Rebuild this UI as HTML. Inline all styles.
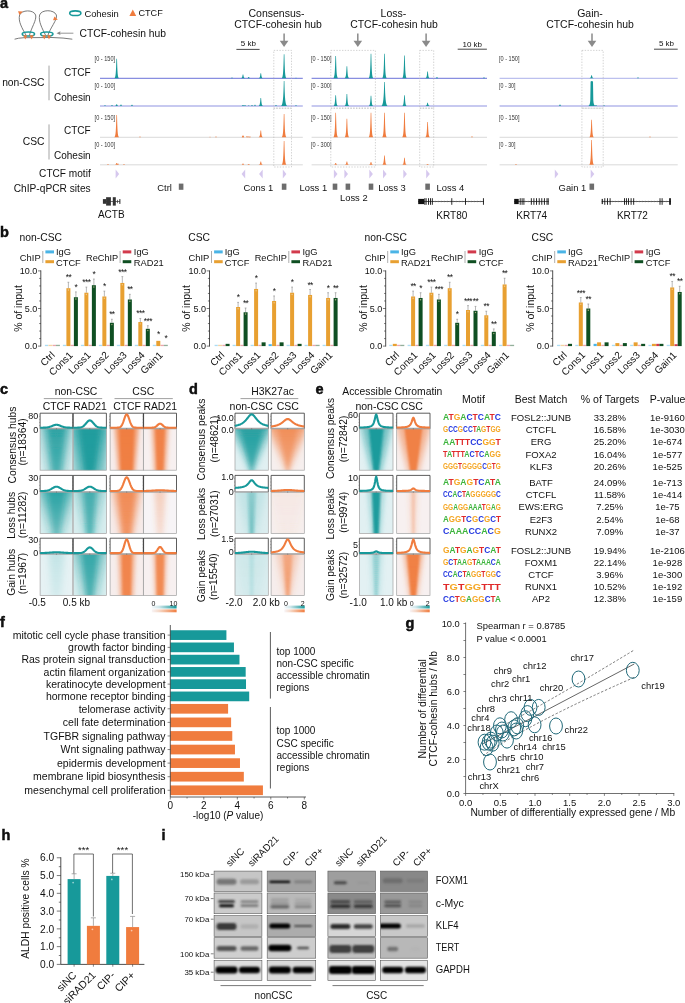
<!DOCTYPE html>
<html><head><meta charset="utf-8"><style>
html,body{margin:0;padding:0;background:#fff;width:685px;height:1003px;overflow:hidden}
svg{display:block;font-family:"Liberation Sans", sans-serif;will-change:transform}
</style></head><body>
<svg width="685" height="1003" viewBox="0 0 685 1003">
<defs><clipPath id="hc1"><rect x="40.1" y="428.7" width="32.70" height="41.50"/></clipPath><linearGradient id="hg1_0" x1="0" y1="0" x2="0" y2="1"><stop offset="0" stop-color="#17999a" stop-opacity="0.55"/><stop offset="1" stop-color="#17999a" stop-opacity="0.3"/></linearGradient><filter id="hbf3_5" x="-60%" y="-10%" width="220%" height="120%"><feGaussianBlur stdDeviation="3.5 0.6"/></filter><linearGradient id="hg1_1" x1="0" y1="0" x2="0" y2="1"><stop offset="0" stop-color="#17999a" stop-opacity="0.75"/><stop offset="1" stop-color="#17999a" stop-opacity="0.6"/></linearGradient><filter id="hbf2_5" x="-60%" y="-10%" width="220%" height="120%"><feGaussianBlur stdDeviation="2.5 0.6"/></filter><clipPath id="hc2"><rect x="73.2" y="428.7" width="33.20" height="41.50"/></clipPath><linearGradient id="hg2_0" x1="0" y1="0" x2="0" y2="1"><stop offset="0" stop-color="#17999a" stop-opacity="0.7"/><stop offset="1" stop-color="#17999a" stop-opacity="0.5"/></linearGradient><linearGradient id="hg2_1" x1="0" y1="0" x2="0" y2="1"><stop offset="0" stop-color="#17999a" stop-opacity="0.85"/><stop offset="1" stop-color="#17999a" stop-opacity="0.9"/></linearGradient><clipPath id="hc3"><rect x="110.1" y="428.7" width="33.20" height="41.50"/></clipPath><linearGradient id="hg3_0" x1="0" y1="0" x2="0" y2="1"><stop offset="0" stop-color="#f07c3e" stop-opacity="0.75"/><stop offset="1" stop-color="#f07c3e" stop-opacity="0.7"/></linearGradient><filter id="hbf2_0" x="-60%" y="-10%" width="220%" height="120%"><feGaussianBlur stdDeviation="2.0 0.6"/></filter><linearGradient id="hg3_1" x1="0" y1="0" x2="0" y2="1"><stop offset="0" stop-color="#f07c3e" stop-opacity="0.9"/><stop offset="1" stop-color="#f07c3e" stop-opacity="0.9"/></linearGradient><filter id="hbf1_2" x="-60%" y="-10%" width="220%" height="120%"><feGaussianBlur stdDeviation="1.2 0.6"/></filter><clipPath id="hc4"><rect x="143.6" y="428.7" width="32.90" height="41.50"/></clipPath><linearGradient id="hg4_0" x1="0" y1="0" x2="0" y2="1"><stop offset="0" stop-color="#f07c3e" stop-opacity="0.65"/><stop offset="1" stop-color="#f07c3e" stop-opacity="0.6"/></linearGradient><linearGradient id="hg4_1" x1="0" y1="0" x2="0" y2="1"><stop offset="0" stop-color="#f07c3e" stop-opacity="0.85"/><stop offset="1" stop-color="#f07c3e" stop-opacity="0.85"/></linearGradient><clipPath id="hc5"><rect x="40.1" y="492.0" width="32.70" height="41.40"/></clipPath><linearGradient id="hg5_0" x1="0" y1="0" x2="0" y2="1"><stop offset="0" stop-color="#17999a" stop-opacity="0.65"/><stop offset="1" stop-color="#17999a" stop-opacity="0.2"/></linearGradient><linearGradient id="hg5_1" x1="0" y1="0" x2="0" y2="1"><stop offset="0" stop-color="#17999a" stop-opacity="0.65"/><stop offset="1" stop-color="#17999a" stop-opacity="0.45"/></linearGradient><clipPath id="hc6"><rect x="73.2" y="492.0" width="33.20" height="41.40"/></clipPath><linearGradient id="hg6_0" x1="0" y1="0" x2="0" y2="1"><stop offset="0" stop-color="#17999a" stop-opacity="0.4"/><stop offset="1" stop-color="#17999a" stop-opacity="0.2"/></linearGradient><linearGradient id="hg6_1" x1="0" y1="0" x2="0" y2="1"><stop offset="0" stop-color="#17999a" stop-opacity="0.6"/><stop offset="1" stop-color="#17999a" stop-opacity="0.55"/></linearGradient><clipPath id="hc7"><rect x="110.1" y="492.0" width="33.20" height="41.40"/></clipPath><linearGradient id="hg7_0" x1="0" y1="0" x2="0" y2="1"><stop offset="0" stop-color="#f07c3e" stop-opacity="0.6"/><stop offset="1" stop-color="#f07c3e" stop-opacity="0.45"/></linearGradient><filter id="hbf3_0" x="-60%" y="-10%" width="220%" height="120%"><feGaussianBlur stdDeviation="3.0 0.6"/></filter><linearGradient id="hg7_1" x1="0" y1="0" x2="0" y2="1"><stop offset="0" stop-color="#f07c3e" stop-opacity="0.65"/><stop offset="1" stop-color="#f07c3e" stop-opacity="0.6"/></linearGradient><clipPath id="hc8"><rect x="143.6" y="492.0" width="32.90" height="41.40"/></clipPath><linearGradient id="hg8_0" x1="0" y1="0" x2="0" y2="1"><stop offset="0" stop-color="#f07c3e" stop-opacity="0.3"/><stop offset="1" stop-color="#f07c3e" stop-opacity="0.2"/></linearGradient><clipPath id="hc9"><rect x="40.1" y="554.1" width="32.70" height="41.50"/></clipPath><linearGradient id="hg9_0" x1="0" y1="0" x2="0" y2="1"><stop offset="0" stop-color="#17999a" stop-opacity="0.15"/><stop offset="1" stop-color="#17999a" stop-opacity="0.08"/></linearGradient><clipPath id="hc10"><rect x="73.2" y="554.1" width="33.20" height="41.50"/></clipPath><linearGradient id="hg10_0" x1="0" y1="0" x2="0" y2="1"><stop offset="0" stop-color="#17999a" stop-opacity="0.5"/><stop offset="1" stop-color="#17999a" stop-opacity="0.3"/></linearGradient><linearGradient id="hg10_1" x1="0" y1="0" x2="0" y2="1"><stop offset="0" stop-color="#17999a" stop-opacity="0.65"/><stop offset="1" stop-color="#17999a" stop-opacity="0.55"/></linearGradient><clipPath id="hc11"><rect x="110.1" y="554.1" width="33.20" height="41.50"/></clipPath><linearGradient id="hg11_0" x1="0" y1="0" x2="0" y2="1"><stop offset="0" stop-color="#f07c3e" stop-opacity="0.6"/><stop offset="1" stop-color="#f07c3e" stop-opacity="0.55"/></linearGradient><linearGradient id="hg11_1" x1="0" y1="0" x2="0" y2="1"><stop offset="0" stop-color="#f07c3e" stop-opacity="0.8"/><stop offset="1" stop-color="#f07c3e" stop-opacity="0.8"/></linearGradient><clipPath id="hc12"><rect x="143.6" y="554.1" width="32.90" height="41.50"/></clipPath><linearGradient id="hg12_0" x1="0" y1="0" x2="0" y2="1"><stop offset="0" stop-color="#f07c3e" stop-opacity="0.55"/><stop offset="1" stop-color="#f07c3e" stop-opacity="0.5"/></linearGradient><linearGradient id="hg12_1" x1="0" y1="0" x2="0" y2="1"><stop offset="0" stop-color="#f07c3e" stop-opacity="0.75"/><stop offset="1" stop-color="#f07c3e" stop-opacity="0.75"/></linearGradient><linearGradient id="cbT" x1="0" x2="1" y1="0" y2="0"><stop offset="0" stop-color="#f4f8fb"/><stop offset="0.3" stop-color="#cfe6ea"/><stop offset="1" stop-color="#17999a"/></linearGradient><linearGradient id="cbO" x1="0" x2="1" y1="0" y2="0"><stop offset="0" stop-color="#f8f4f6"/><stop offset="0.3" stop-color="#f6d9c8"/><stop offset="1" stop-color="#f07c3e"/></linearGradient><clipPath id="hc13"><rect x="235.0" y="428.7" width="33.30" height="41.50"/></clipPath><linearGradient id="hg13_0" x1="0" y1="0" x2="0" y2="1"><stop offset="0" stop-color="#17999a" stop-opacity="0.75"/><stop offset="1" stop-color="#17999a" stop-opacity="0.35"/></linearGradient><linearGradient id="hg13_1" x1="0" y1="0" x2="0" y2="1"><stop offset="0" stop-color="#17999a" stop-opacity="0.7"/><stop offset="1" stop-color="#17999a" stop-opacity="0.6"/></linearGradient><clipPath id="hc14"><rect x="271.1" y="428.7" width="33.20" height="41.50"/></clipPath><linearGradient id="hg14_0" x1="0" y1="0" x2="0" y2="1"><stop offset="0" stop-color="#f07c3e" stop-opacity="0.7"/><stop offset="1" stop-color="#f07c3e" stop-opacity="0.3"/></linearGradient><linearGradient id="hg14_1" x1="0" y1="0" x2="0" y2="1"><stop offset="0" stop-color="#f07c3e" stop-opacity="0.5"/><stop offset="1" stop-color="#f07c3e" stop-opacity="0.5"/></linearGradient><clipPath id="hc15"><rect x="235.0" y="492.0" width="33.30" height="41.40"/></clipPath><linearGradient id="hg15_0" x1="0" y1="0" x2="0" y2="1"><stop offset="0" stop-color="#17999a" stop-opacity="0.12"/><stop offset="1" stop-color="#17999a" stop-opacity="0.1"/></linearGradient><linearGradient id="hg15_1" x1="0" y1="0" x2="0" y2="1"><stop offset="0" stop-color="#17999a" stop-opacity="0.3"/><stop offset="1" stop-color="#17999a" stop-opacity="0.5"/></linearGradient><filter id="hbf1_5" x="-60%" y="-10%" width="220%" height="120%"><feGaussianBlur stdDeviation="1.5 0.6"/></filter><clipPath id="hc16"><rect x="271.1" y="492.0" width="33.20" height="41.40"/></clipPath><linearGradient id="hg16_0" x1="0" y1="0" x2="0" y2="1"><stop offset="0" stop-color="#f07c3e" stop-opacity="0.06"/><stop offset="1" stop-color="#f07c3e" stop-opacity="0.04"/></linearGradient><clipPath id="hc17"><rect x="235.0" y="554.1" width="33.30" height="41.50"/></clipPath><linearGradient id="hg17_0" x1="0" y1="0" x2="0" y2="1"><stop offset="0" stop-color="#17999a" stop-opacity="0.06"/><stop offset="1" stop-color="#17999a" stop-opacity="0.04"/></linearGradient><linearGradient id="hg17_1" x1="0" y1="0" x2="0" y2="1"><stop offset="0" stop-color="#17999a" stop-opacity="0.12"/><stop offset="1" stop-color="#17999a" stop-opacity="0.15"/></linearGradient><clipPath id="hc18"><rect x="271.1" y="554.1" width="33.20" height="41.50"/></clipPath><linearGradient id="hg18_0" x1="0" y1="0" x2="0" y2="1"><stop offset="0" stop-color="#f07c3e" stop-opacity="0.3"/><stop offset="1" stop-color="#f07c3e" stop-opacity="0.3"/></linearGradient><linearGradient id="hg18_1" x1="0" y1="0" x2="0" y2="1"><stop offset="0" stop-color="#f07c3e" stop-opacity="0.45"/><stop offset="1" stop-color="#f07c3e" stop-opacity="0.6"/></linearGradient><clipPath id="hc19"><rect x="359.4" y="428.7" width="33.60" height="41.50"/></clipPath><linearGradient id="hg19_0" x1="0" y1="0" x2="0" y2="1"><stop offset="0" stop-color="#17999a" stop-opacity="0.55"/><stop offset="1" stop-color="#17999a" stop-opacity="0.6"/></linearGradient><linearGradient id="hg19_1" x1="0" y1="0" x2="0" y2="1"><stop offset="0" stop-color="#17999a" stop-opacity="0.95"/><stop offset="1" stop-color="#17999a" stop-opacity="0.95"/></linearGradient><clipPath id="hc20"><rect x="396.7" y="428.7" width="33.30" height="41.50"/></clipPath><linearGradient id="hg20_0" x1="0" y1="0" x2="0" y2="1"><stop offset="0" stop-color="#f07c3e" stop-opacity="0.55"/><stop offset="1" stop-color="#f07c3e" stop-opacity="0.55"/></linearGradient><linearGradient id="hg20_1" x1="0" y1="0" x2="0" y2="1"><stop offset="0" stop-color="#f07c3e" stop-opacity="0.9"/><stop offset="1" stop-color="#f07c3e" stop-opacity="0.9"/></linearGradient><clipPath id="hc21"><rect x="359.4" y="492.0" width="33.60" height="41.40"/></clipPath><linearGradient id="hg21_0" x1="0" y1="0" x2="0" y2="1"><stop offset="0" stop-color="#17999a" stop-opacity="0.3"/><stop offset="1" stop-color="#17999a" stop-opacity="0.3"/></linearGradient><linearGradient id="hg21_1" x1="0" y1="0" x2="0" y2="1"><stop offset="0" stop-color="#17999a" stop-opacity="0.95"/><stop offset="1" stop-color="#17999a" stop-opacity="0.95"/></linearGradient><filter id="hbf1_0" x="-60%" y="-10%" width="220%" height="120%"><feGaussianBlur stdDeviation="1.0 0.6"/></filter><clipPath id="hc22"><rect x="396.7" y="492.0" width="33.30" height="41.40"/></clipPath><linearGradient id="hg22_0" x1="0" y1="0" x2="0" y2="1"><stop offset="0" stop-color="#f07c3e" stop-opacity="0.15"/><stop offset="1" stop-color="#f07c3e" stop-opacity="0.15"/></linearGradient><linearGradient id="hg22_1" x1="0" y1="0" x2="0" y2="1"><stop offset="0" stop-color="#f07c3e" stop-opacity="0.25"/><stop offset="1" stop-color="#f07c3e" stop-opacity="0.25"/></linearGradient><clipPath id="hc23"><rect x="359.4" y="554.1" width="33.60" height="41.50"/></clipPath><linearGradient id="hg23_0" x1="0" y1="0" x2="0" y2="1"><stop offset="0" stop-color="#17999a" stop-opacity="0.15"/><stop offset="1" stop-color="#17999a" stop-opacity="0.12"/></linearGradient><linearGradient id="hg23_1" x1="0" y1="0" x2="0" y2="1"><stop offset="0" stop-color="#17999a" stop-opacity="0.25"/><stop offset="1" stop-color="#17999a" stop-opacity="0.25"/></linearGradient><clipPath id="hc24"><rect x="396.7" y="554.1" width="33.30" height="41.50"/></clipPath><linearGradient id="hg24_0" x1="0" y1="0" x2="0" y2="1"><stop offset="0" stop-color="#f07c3e" stop-opacity="0.55"/><stop offset="1" stop-color="#f07c3e" stop-opacity="0.45"/></linearGradient><linearGradient id="hg24_1" x1="0" y1="0" x2="0" y2="1"><stop offset="0" stop-color="#f07c3e" stop-opacity="0.9"/><stop offset="1" stop-color="#f07c3e" stop-opacity="0.95"/></linearGradient><filter id="bb" x="-30%" y="-80%" width="160%" height="260%"><feGaussianBlur stdDeviation="1.3 0.8"/></filter><clipPath id="bc1"><rect x="214.1" y="871.1" width="47.80" height="20.50"/></clipPath><clipPath id="bc2"><rect x="267.2" y="871.1" width="48.50" height="20.50"/></clipPath><clipPath id="bc3"><rect x="327.9" y="871.1" width="47.80" height="20.50"/></clipPath><clipPath id="bc4"><rect x="380.4" y="871.1" width="47.30" height="20.50"/></clipPath><clipPath id="bc5"><rect x="214.1" y="893.0" width="47.80" height="20.70"/></clipPath><clipPath id="bc6"><rect x="267.2" y="893.0" width="48.50" height="20.70"/></clipPath><clipPath id="bc7"><rect x="327.9" y="893.0" width="47.80" height="20.70"/></clipPath><clipPath id="bc8"><rect x="380.4" y="893.0" width="47.30" height="20.70"/></clipPath><clipPath id="bc9"><rect x="214.1" y="915.5" width="47.80" height="21.00"/></clipPath><clipPath id="bc10"><rect x="267.2" y="915.5" width="48.50" height="21.00"/></clipPath><clipPath id="bc11"><rect x="327.9" y="915.5" width="47.80" height="21.00"/></clipPath><clipPath id="bc12"><rect x="380.4" y="915.5" width="47.30" height="21.00"/></clipPath><clipPath id="bc13"><rect x="214.1" y="937.7" width="47.80" height="20.50"/></clipPath><clipPath id="bc14"><rect x="267.2" y="937.7" width="48.50" height="20.50"/></clipPath><clipPath id="bc15"><rect x="327.9" y="937.7" width="47.80" height="20.50"/></clipPath><clipPath id="bc16"><rect x="380.4" y="937.7" width="47.30" height="20.50"/></clipPath><clipPath id="bc17"><rect x="214.1" y="960.5" width="47.80" height="20.10"/></clipPath><clipPath id="bc18"><rect x="267.2" y="960.5" width="48.50" height="20.10"/></clipPath><clipPath id="bc19"><rect x="327.9" y="960.5" width="47.80" height="20.10"/></clipPath><clipPath id="bc20"><rect x="380.4" y="960.5" width="47.30" height="20.10"/></clipPath></defs>
<text x="0.00" y="8.30" font-size="14.5" text-anchor="start" fill="#111" font-weight="bold" stroke="#000" stroke-width="0.45">a</text>
<path d="M14.6 39.2 Q18 38.0 24 37.7 L52 37.5 Q64 37.8 72.3 39.2" fill="none" stroke="#6b6b6b" stroke-width="0.9"/>
<path d="M26.3 35.7 C22 28 18 21.5 19.6 15 C21.5 9.8 33.5 9.3 35.6 15 C37 20 31 28 29.4 35.7" fill="none" stroke="#6b6b6b" stroke-width="0.9"/>
<path d="M45.8 35.7 C42 28 38.3 21.5 39.6 15 C41.5 9.3 54 9.3 56.4 15 C57.5 20 50 28 47.8 35.7" fill="none" stroke="#6b6b6b" stroke-width="0.9"/>
<ellipse cx="28.4" cy="34.0" rx="6.2" ry="2.1" fill="none" stroke="#17999a" stroke-width="1.5"/>
<ellipse cx="46.8" cy="34.0" rx="6.2" ry="2.1" fill="none" stroke="#17999a" stroke-width="1.5"/>
<path d="M-2.0 -2.0 L2.4 0 L-2.0 2.0 Z" fill="#f07c3e" transform="translate(20.6 12.4) rotate(-20)"/>
<path d="M-2.0 -2.0 L2.4 0 L-2.0 2.0 Z" fill="#f07c3e" transform="translate(55.6 19.0) rotate(20)"/>
<path d="M-2.0 -2.0 L2.4 0 L-2.0 2.0 Z" fill="#f07c3e" transform="translate(25.3 37.2) rotate(90)"/>
<path d="M-2.0 -2.0 L2.4 0 L-2.0 2.0 Z" fill="#f07c3e" transform="translate(31.6 37.2) rotate(90)"/>
<path d="M-2.0 -2.0 L2.4 0 L-2.0 2.0 Z" fill="#f07c3e" transform="translate(44.3 37.2) rotate(90)"/>
<path d="M-2.0 -2.0 L2.4 0 L-2.0 2.0 Z" fill="#f07c3e" transform="translate(49.0 37.2) rotate(90)"/>
<path d="M73.4 33.2 L58.5 33.2" stroke="#8a8a8a" stroke-width="0.9"/>
<path d="M56.5 33.2 L60.5 31.3 L60 33.2 L60.5 35.1 Z" fill="#8a8a8a"/>
<ellipse cx="75.3" cy="13.2" rx="5.6" ry="2.3" fill="none" stroke="#17999a" stroke-width="1.6"/>
<text x="84.40" y="16.57" font-size="9.4" text-anchor="start" fill="#111">Cohesin</text>
<path d="M129.4 15.9 L132.8 9.6 L136.2 15.9 Z" fill="#f07c3e"/>
<text x="138.50" y="16.46" font-size="9.1" text-anchor="start" fill="#111">CTCF</text>
<text x="79.60" y="36.99" font-size="10.3" text-anchor="start" fill="#111">CTCF-cohesin hub</text>
<text x="44.50" y="86.49" font-size="10.3" text-anchor="end" fill="#111">non-CSC</text>
<line x1="49.00" y1="65.60" x2="49.00" y2="100.30" stroke="#9a9a9a" stroke-width="0.9"/>
<text x="90.70" y="75.88" font-size="10" text-anchor="end" fill="#111">CTCF</text>
<text x="90.70" y="100.78" font-size="10" text-anchor="end" fill="#111">Cohesin</text>
<text x="44.50" y="145.19" font-size="10.3" text-anchor="end" fill="#111">CSC</text>
<line x1="49.00" y1="124.40" x2="49.00" y2="159.50" stroke="#9a9a9a" stroke-width="0.9"/>
<text x="90.70" y="134.08" font-size="10" text-anchor="end" fill="#111">CTCF</text>
<text x="90.70" y="159.08" font-size="10" text-anchor="end" fill="#111">Cohesin</text>
<text x="90.70" y="177.42" font-size="10.1" text-anchor="end" fill="#111">CTCF motif</text>
<text x="90.70" y="191.85" font-size="10.2" text-anchor="end" fill="#111">ChIP-qPCR sites</text>
<text x="276.50" y="16.56" font-size="10.5" text-anchor="middle" fill="#111">Consensus-</text>
<text x="278.00" y="28.24" font-size="10.45" text-anchor="middle" fill="#111">CTCF-cohesin hub</text>
<text x="393.40" y="16.56" font-size="10.5" text-anchor="middle" fill="#111">Loss-</text>
<text x="394.00" y="28.24" font-size="10.45" text-anchor="middle" fill="#111">CTCF-cohesin hub</text>
<text x="590.00" y="16.56" font-size="10.5" text-anchor="middle" fill="#111">Gain-</text>
<text x="590.00" y="28.24" font-size="10.45" text-anchor="middle" fill="#111">CTCF-cohesin hub</text>
<path d="M284.1 33.5 L284.1 42" stroke="#8a8a8a" stroke-width="1.5"/>
<path d="M279.8 40.8 L288.40000000000003 40.8 L284.1 47 Z" fill="#8a8a8a"/>
<path d="M357.8 33.5 L357.8 42" stroke="#8a8a8a" stroke-width="1.5"/>
<path d="M353.5 40.8 L362.1 40.8 L357.8 47 Z" fill="#8a8a8a"/>
<path d="M426.1 33.5 L426.1 42" stroke="#8a8a8a" stroke-width="1.5"/>
<path d="M421.8 40.8 L430.40000000000003 40.8 L426.1 47 Z" fill="#8a8a8a"/>
<path d="M592 33.5 L592 42" stroke="#8a8a8a" stroke-width="1.5"/>
<path d="M587.7 40.8 L596.3 40.8 L592 47 Z" fill="#8a8a8a"/>
<text x="248.30" y="46.06" font-size="8" text-anchor="middle" fill="#111">5 kb</text>
<line x1="236.40" y1="49.40" x2="259.60" y2="49.40" stroke="#333" stroke-width="0.9"/>
<text x="472.30" y="47.06" font-size="8" text-anchor="middle" fill="#111">10 kb</text>
<line x1="457.70" y1="49.20" x2="486.90" y2="49.20" stroke="#333" stroke-width="0.9"/>
<text x="666.50" y="46.06" font-size="8" text-anchor="middle" fill="#111">5 kb</text>
<line x1="654.00" y1="49.20" x2="677.70" y2="49.20" stroke="#333" stroke-width="0.9"/>
<line x1="100.00" y1="78.30" x2="302.80" y2="78.30" stroke="#5a62d4" stroke-width="0.9"/>
<text x="94.60" y="61.10" font-size="7.2" text-anchor="start" fill="#333" textLength="20.5" lengthAdjust="spacingAndGlyphs">[0 - 150]</text>
<line x1="100.00" y1="106.00" x2="302.80" y2="106.00" stroke="#8f93e2" stroke-width="1.1"/>
<text x="94.60" y="88.40" font-size="7.2" text-anchor="start" fill="#333" textLength="20.5" lengthAdjust="spacingAndGlyphs">[0 - 100]</text>
<line x1="100.00" y1="137.30" x2="302.80" y2="137.30" stroke="#cfcfcf" stroke-width="0.8"/>
<text x="94.60" y="120.10" font-size="7.2" text-anchor="start" fill="#333" textLength="20.5" lengthAdjust="spacingAndGlyphs">[0 - 150]</text>
<line x1="100.00" y1="164.80" x2="302.80" y2="164.80" stroke="#cfcfcf" stroke-width="0.8"/>
<text x="94.60" y="147.40" font-size="7.2" text-anchor="start" fill="#333" textLength="20.5" lengthAdjust="spacingAndGlyphs">[0 - 100]</text>
<line x1="311.60" y1="78.30" x2="487.00" y2="78.30" stroke="#5a62d4" stroke-width="0.9"/>
<text x="311.00" y="61.10" font-size="7.2" text-anchor="start" fill="#333" textLength="20.5" lengthAdjust="spacingAndGlyphs">[0 - 150]</text>
<line x1="311.60" y1="106.00" x2="487.00" y2="106.00" stroke="#8f93e2" stroke-width="1.1"/>
<text x="311.00" y="88.40" font-size="7.2" text-anchor="start" fill="#333" textLength="20.5" lengthAdjust="spacingAndGlyphs">[0 - 300]</text>
<line x1="311.60" y1="137.30" x2="487.00" y2="137.30" stroke="#cfcfcf" stroke-width="0.8"/>
<text x="311.00" y="120.10" font-size="7.2" text-anchor="start" fill="#333" textLength="20.5" lengthAdjust="spacingAndGlyphs">[0 - 150]</text>
<line x1="311.60" y1="164.80" x2="487.00" y2="164.80" stroke="#cfcfcf" stroke-width="0.8"/>
<text x="311.00" y="147.40" font-size="7.2" text-anchor="start" fill="#333" textLength="20.5" lengthAdjust="spacingAndGlyphs">[0 - 300]</text>
<line x1="499.60" y1="78.30" x2="677.70" y2="78.30" stroke="#a3a7e8" stroke-width="0.9"/>
<text x="499.00" y="61.10" font-size="7.2" text-anchor="start" fill="#333" textLength="20.5" lengthAdjust="spacingAndGlyphs">[0 - 150]</text>
<line x1="499.60" y1="106.00" x2="677.70" y2="106.00" stroke="#8f93e2" stroke-width="1.1"/>
<text x="499.00" y="88.40" font-size="7.2" text-anchor="start" fill="#333" textLength="16.5" lengthAdjust="spacingAndGlyphs">[0 - 30]</text>
<line x1="499.60" y1="137.30" x2="677.70" y2="137.30" stroke="#cfcfcf" stroke-width="0.8"/>
<text x="499.00" y="120.10" font-size="7.2" text-anchor="start" fill="#333" textLength="20.5" lengthAdjust="spacingAndGlyphs">[0 - 150]</text>
<line x1="499.60" y1="164.80" x2="677.70" y2="164.80" stroke="#cfcfcf" stroke-width="0.8"/>
<text x="499.00" y="147.40" font-size="7.2" text-anchor="start" fill="#333" textLength="16.5" lengthAdjust="spacingAndGlyphs">[0 - 30]</text>
<path d="M588.2 106.0 C589.6 105.6 590.1 104 590.3 100 L590.6 81.6 Q591.8 80.2 593.0 81.6 L593.3 100 C593.5 104 594.0 105.6 595.6 106.0 Z" fill="#17999a"/>
<path d="M114.40 78.30 C115.78 77.13 115.95 72.45 116.40 58.80 L117.00 58.80 C117.45 72.45 117.62 77.13 119.00 78.30 Z" fill="#17999a" opacity="1.0"/>
<path d="M114.40 106.00 C115.78 105.89 115.95 105.46 116.40 104.20 L117.00 104.20 C117.45 105.46 117.62 105.89 119.00 106.00 Z" fill="#17999a" opacity="1.0"/>
<path d="M114.40 137.30 C115.78 135.96 115.95 130.61 116.40 115.00 L117.00 115.00 C117.45 130.61 117.62 135.96 119.00 137.30 Z" fill="#f07c3e" opacity="1.0"/>
<path d="M114.40 164.80 C115.78 164.69 115.95 164.26 116.40 163.00 L117.00 163.00 C117.45 164.26 117.62 164.69 119.00 164.80 Z" fill="#f07c3e" opacity="1.0"/>
<path d="M240.70 78.30 C242.08 78.07 242.25 77.16 242.70 74.50 L243.30 74.50 C243.75 77.16 243.92 78.07 245.30 78.30 Z" fill="#17999a" opacity="1.0"/>
<path d="M240.70 106.00 C242.08 105.94 242.25 105.70 242.70 105.00 L243.30 105.00 C243.75 105.70 243.92 105.94 245.30 106.00 Z" fill="#17999a" opacity="1.0"/>
<path d="M240.70 137.30 C242.08 137.19 242.25 136.76 242.70 135.50 L243.30 135.50 C243.75 136.76 243.92 137.19 245.30 137.30 Z" fill="#f07c3e" opacity="1.0"/>
<path d="M240.70 164.80 C242.08 164.72 242.25 164.41 242.70 163.50 L243.30 163.50 C243.75 164.41 243.92 164.72 245.30 164.80 Z" fill="#f07c3e" opacity="1.0"/>
<path d="M246.40 78.30 C247.78 78.22 247.95 77.91 248.40 77.00 L249.00 77.00 C249.45 77.91 249.62 78.22 251.00 78.30 Z" fill="#17999a" opacity="1.0"/>
<path d="M246.40 106.00 C247.78 105.96 247.95 105.82 248.40 105.40 L249.00 105.40 C249.45 105.82 249.62 105.96 251.00 106.00 Z" fill="#17999a" opacity="1.0"/>
<path d="M246.40 137.30 C247.78 137.25 247.95 137.06 248.40 136.50 L249.00 136.50 C249.45 137.06 249.62 137.25 251.00 137.30 Z" fill="#f07c3e" opacity="1.0"/>
<path d="M246.40 164.80 C247.78 164.75 247.95 164.56 248.40 164.00 L249.00 164.00 C249.45 164.56 249.62 164.75 251.00 164.80 Z" fill="#f07c3e" opacity="1.0"/>
<path d="M258.50 78.30 C259.88 77.99 260.05 76.77 260.50 73.20 L261.10 73.20 C261.55 76.77 261.72 77.99 263.10 78.30 Z" fill="#17999a" opacity="1.0"/>
<path d="M258.50 106.00 C259.88 105.53 260.05 103.63 260.50 98.10 L261.10 98.10 C261.55 103.63 261.72 105.53 263.10 106.00 Z" fill="#17999a" opacity="1.0"/>
<path d="M258.50 137.30 C259.88 136.89 260.05 135.26 260.50 130.50 L261.10 130.50 C261.55 135.26 261.72 136.89 263.10 137.30 Z" fill="#f07c3e" opacity="1.0"/>
<path d="M258.50 164.80 C259.88 164.60 260.05 163.81 260.50 161.50 L261.10 161.50 C261.55 163.81 261.72 164.60 263.10 164.80 Z" fill="#f07c3e" opacity="1.0"/>
<path d="M281.80 78.30 C283.18 76.86 283.35 71.10 283.80 54.30 L284.40 54.30 C284.85 71.10 285.02 76.86 286.40 78.30 Z" fill="#17999a" opacity="1.0"/>
<path d="M281.10 106.00 C282.90 104.50 283.35 98.50 283.80 81.00 L284.40 81.00 C284.85 98.50 285.30 104.50 287.10 106.00 Z" fill="#17999a" opacity="1.0"/>
<path d="M281.80 137.30 C283.18 135.90 283.35 130.31 283.80 114.00 L284.40 114.00 C284.85 130.31 285.02 135.90 286.40 137.30 Z" fill="#f07c3e" opacity="1.0"/>
<path d="M281.80 164.80 C283.18 163.37 283.35 157.66 283.80 141.00 L284.40 141.00 C284.85 157.66 285.02 163.37 286.40 164.80 Z" fill="#f07c3e" opacity="1.0"/>
<path d="M333.40 78.30 C334.78 76.97 334.95 71.64 335.40 56.10 L336.00 56.10 C336.45 71.64 336.62 76.97 338.00 78.30 Z" fill="#17999a" opacity="1.0"/>
<path d="M333.40 106.00 C334.78 105.35 334.95 102.76 335.40 95.20 L336.00 95.20 C336.45 102.76 336.62 105.35 338.00 106.00 Z" fill="#17999a" opacity="1.0"/>
<path d="M333.40 137.30 C334.78 135.82 334.95 129.92 335.40 112.70 L336.00 112.70 C336.45 129.92 336.62 135.82 338.00 137.30 Z" fill="#f07c3e" opacity="1.0"/>
<path d="M333.40 164.80 C334.78 164.69 334.95 164.26 335.40 163.00 L336.00 163.00 C336.45 164.26 336.62 164.69 338.00 164.80 Z" fill="#f07c3e" opacity="1.0"/>
<path d="M344.60 78.30 C345.98 77.58 346.15 74.70 346.60 66.30 L347.20 66.30 C347.65 74.70 347.82 77.58 349.20 78.30 Z" fill="#17999a" opacity="1.0"/>
<path d="M344.60 106.00 C345.98 105.28 346.15 102.40 346.60 94.00 L347.20 94.00 C347.65 102.40 347.82 105.28 349.20 106.00 Z" fill="#17999a" opacity="1.0"/>
<path d="M344.60 137.30 C345.98 136.19 346.15 131.75 346.60 118.80 L347.20 118.80 C347.65 131.75 347.82 136.19 349.20 137.30 Z" fill="#f07c3e" opacity="1.0"/>
<path d="M344.60 164.80 C345.98 164.60 346.15 163.78 346.60 161.40 L347.20 161.40 C347.65 163.78 347.82 164.60 349.20 164.80 Z" fill="#f07c3e" opacity="1.0"/>
<path d="M368.70 78.30 C370.08 76.82 370.25 70.92 370.70 53.70 L371.30 53.70 C371.75 70.92 371.92 76.82 373.30 78.30 Z" fill="#17999a" opacity="1.0"/>
<path d="M368.70 106.00 C370.08 105.38 370.25 102.91 370.70 95.70 L371.30 95.70 C371.75 102.91 371.92 105.38 373.30 106.00 Z" fill="#17999a" opacity="1.0"/>
<path d="M368.70 137.30 C370.08 135.82 370.25 129.92 370.70 112.70 L371.30 112.70 C371.75 129.92 371.92 135.82 373.30 137.30 Z" fill="#f07c3e" opacity="1.0"/>
<path d="M368.70 164.80 C370.08 164.63 370.25 163.96 370.70 162.00 L371.30 162.00 C371.75 163.96 371.92 164.63 373.30 164.80 Z" fill="#f07c3e" opacity="1.0"/>
<path d="M382.20 78.30 C383.58 76.82 383.75 70.92 384.20 53.70 L384.80 53.70 C385.25 70.92 385.42 76.82 386.80 78.30 Z" fill="#17999a" opacity="1.0"/>
<path d="M381.50 106.00 C383.30 104.56 383.75 98.80 384.20 82.00 L384.80 82.00 C385.25 98.80 385.70 104.56 387.50 106.00 Z" fill="#17999a" opacity="1.0"/>
<path d="M382.20 137.30 C383.58 135.82 383.75 129.92 384.20 112.70 L384.80 112.70 C385.25 129.92 385.42 135.82 386.80 137.30 Z" fill="#f07c3e" opacity="1.0"/>
<path d="M382.20 164.80 C383.58 164.25 383.75 162.04 384.20 155.60 L384.80 155.60 C385.25 162.04 385.42 164.25 386.80 164.80 Z" fill="#f07c3e" opacity="1.0"/>
<path d="M402.20 78.30 C403.58 76.93 403.75 71.43 404.20 55.40 L404.80 55.40 C405.25 71.43 405.42 76.93 406.80 78.30 Z" fill="#17999a" opacity="1.0"/>
<path d="M402.20 106.00 C403.58 105.35 403.75 102.76 404.20 95.20 L404.80 95.20 C405.25 102.76 405.42 105.35 406.80 106.00 Z" fill="#17999a" opacity="1.0"/>
<path d="M402.20 137.30 C403.58 135.82 403.75 129.92 404.20 112.70 L404.80 112.70 C405.25 129.92 405.42 135.82 406.80 137.30 Z" fill="#f07c3e" opacity="1.0"/>
<path d="M402.20 164.80 C403.58 164.37 403.75 162.67 404.20 157.70 L404.80 157.70 C405.25 162.67 405.42 164.37 406.80 164.80 Z" fill="#f07c3e" opacity="1.0"/>
<path d="M425.30 78.30 C426.68 77.89 426.85 76.26 427.30 71.50 L427.90 71.50 C428.35 76.26 428.52 77.89 429.90 78.30 Z" fill="#17999a" opacity="1.0"/>
<path d="M425.30 106.00 C426.68 105.81 426.85 105.04 427.30 102.80 L427.90 102.80 C428.35 105.04 428.52 105.81 429.90 106.00 Z" fill="#17999a" opacity="1.0"/>
<path d="M425.30 137.30 C426.68 136.38 426.85 132.71 427.30 122.00 L427.90 122.00 C428.35 132.71 428.52 136.38 429.90 137.30 Z" fill="#f07c3e" opacity="1.0"/>
<path d="M425.30 164.80 C426.68 164.75 426.85 164.56 427.30 164.00 L427.90 164.00 C428.35 164.56 428.52 164.75 429.90 164.80 Z" fill="#f07c3e" opacity="1.0"/>
<path d="M589.30 78.30 C590.68 78.12 590.85 77.40 591.30 75.30 L591.90 75.30 C592.35 77.40 592.52 78.12 593.90 78.30 Z" fill="#17999a" opacity="1.0"/>
<path d="M589.30 137.30 C590.68 136.24 590.85 132.02 591.30 119.70 L591.90 119.70 C592.35 132.02 592.52 136.24 593.90 137.30 Z" fill="#f07c3e" opacity="1.0"/>
<path d="M589.30 164.80 C590.68 163.31 590.85 157.36 591.30 140.00 L591.90 140.00 C592.35 157.36 592.52 163.31 593.90 164.80 Z" fill="#f07c3e" opacity="1.0"/>
<path d="M130.80 106.00 C131.52 105.93 131.25 105.64 131.70 104.80 L132.30 104.80 C132.75 105.64 132.48 105.93 133.20 106.00 Z" fill="#17999a" opacity="1.0"/>
<path d="M110.80 106.00 C111.52 105.94 111.25 105.70 111.70 105.00 L112.30 105.00 C112.75 105.70 112.48 105.94 113.20 106.00 Z" fill="#17999a" opacity="1.0"/>
<path d="M103.80 106.00 C104.52 105.95 104.25 105.76 104.70 105.20 L105.30 105.20 C105.75 105.76 105.48 105.95 106.20 106.00 Z" fill="#17999a" opacity="1.0"/>
<path d="M119.80 106.00 C120.52 105.91 120.25 105.55 120.70 104.50 L121.30 104.50 C121.75 105.55 121.48 105.91 122.20 106.00 Z" fill="#17999a" opacity="1.0"/>
<path d="M138.80 137.30 C139.52 137.25 139.25 137.06 139.70 136.50 L140.30 136.50 C140.75 137.06 140.48 137.25 141.20 137.30 Z" fill="#f07c3e" opacity="1.0"/>
<path d="M435.80 78.30 C436.52 78.23 436.25 77.94 436.70 77.10 L437.30 77.10 C437.75 77.94 437.48 78.23 438.20 78.30 Z" fill="#17999a" opacity="1.0"/>
<path d="M470.80 137.30 C471.52 137.24 471.25 137.00 471.70 136.30 L472.30 136.30 C472.75 137.00 472.48 137.24 473.20 137.30 Z" fill="#f07c3e" opacity="1.0"/>
<path d="M482.80 78.30 C483.52 78.24 483.25 78.00 483.70 77.30 L484.30 77.30 C484.75 78.00 484.48 78.24 485.20 78.30 Z" fill="#17999a" opacity="1.0"/>
<path d="M594.80 106.00 C595.52 105.94 595.25 105.70 595.70 105.00 L596.30 105.00 C596.75 105.70 596.48 105.94 597.20 106.00 Z" fill="#17999a" opacity="1.0"/>
<path d="M558.80 106.00 C559.52 105.91 559.25 105.55 559.70 104.50 L560.30 104.50 C560.75 105.55 560.48 105.91 561.20 106.00 Z" fill="#17999a" opacity="1.0"/>
<path d="M514.80 164.80 C515.52 164.75 515.25 164.56 515.70 164.00 L516.30 164.00 C516.75 164.56 516.48 164.75 517.20 164.80 Z" fill="#f07c3e" opacity="1.0"/>
<path d="M602.80 106.00 C603.52 105.95 603.25 105.76 603.70 105.20 L604.30 105.20 C604.75 105.76 604.48 105.95 605.20 106.00 Z" fill="#17999a" opacity="1.0"/>
<path d="M636.80 78.30 C637.52 78.24 637.25 78.00 637.70 77.30 L638.30 77.30 C638.75 78.00 638.48 78.24 639.20 78.30 Z" fill="#17999a" opacity="1.0"/>
<path d="M648.80 137.30 C649.52 137.25 649.25 137.06 649.70 136.50 L650.30 136.50 C650.75 137.06 650.48 137.25 651.20 137.30 Z" fill="#f07c3e" opacity="1.0"/>
<path d="M230.80 78.30 C231.52 78.26 231.25 78.09 231.70 77.60 L232.30 77.60 C232.75 78.09 232.48 78.26 233.20 78.30 Z" fill="#17999a" opacity="1.0"/>
<path d="M253.80 106.00 C254.52 105.92 254.25 105.61 254.70 104.70 L255.30 104.70 C255.75 105.61 255.48 105.92 256.20 106.00 Z" fill="#17999a" opacity="1.0"/>
<path d="M250.80 106.00 C251.52 105.94 251.25 105.70 251.70 105.00 L252.30 105.00 C252.75 105.70 252.48 105.94 253.20 106.00 Z" fill="#17999a" opacity="1.0"/>
<path d="M243.80 106.00 C244.52 105.94 244.25 105.70 244.70 105.00 L245.30 105.00 C245.75 105.70 245.48 105.94 246.20 106.00 Z" fill="#17999a" opacity="1.0"/>
<path d="M294.80 106.00 C295.52 105.95 295.25 105.76 295.70 105.20 L296.30 105.20 C296.75 105.76 296.48 105.95 297.20 106.00 Z" fill="#17999a" opacity="1.0"/>
<path d="M274.80 106.00 C275.52 105.94 275.25 105.70 275.70 105.00 L276.30 105.00 C276.75 105.70 276.48 105.94 277.20 106.00 Z" fill="#17999a" opacity="1.0"/>
<path d="M294.80 78.30 C295.52 78.26 295.25 78.12 295.70 77.70 L296.30 77.70 C296.75 78.12 296.48 78.26 297.20 78.30 Z" fill="#17999a" opacity="1.0"/>
<path d="M106.80 164.80 C107.52 164.75 107.25 164.56 107.70 164.00 L108.30 164.00 C108.75 164.56 108.48 164.75 109.20 164.80 Z" fill="#f07c3e" opacity="1.0"/>
<path d="M116.80 164.80 C117.52 164.72 117.25 164.41 117.70 163.50 L118.30 163.50 C118.75 164.41 118.48 164.72 119.20 164.80 Z" fill="#f07c3e" opacity="1.0"/>
<path d="M122.80 164.80 C123.52 164.75 123.25 164.56 123.70 164.00 L124.30 164.00 C124.75 164.56 124.48 164.75 125.20 164.80 Z" fill="#f07c3e" opacity="1.0"/>
<path d="M208.80 137.30 C209.52 137.26 209.25 137.12 209.70 136.70 L210.30 136.70 C210.75 137.12 210.48 137.26 211.20 137.30 Z" fill="#f07c3e" opacity="1.0"/>
<path d="M214.80 137.30 C215.52 137.25 215.25 137.06 215.70 136.50 L216.30 136.50 C216.75 137.06 216.48 137.25 217.20 137.30 Z" fill="#f07c3e" opacity="1.0"/>
<path d="M241.80 137.30 C242.52 137.21 242.25 136.85 242.70 135.80 L243.30 135.80 C243.75 136.85 243.48 137.21 244.20 137.30 Z" fill="#f07c3e" opacity="1.0"/>
<path d="M245.80 137.30 C246.52 137.22 246.25 136.91 246.70 136.00 L247.30 136.00 C247.75 136.91 247.48 137.22 248.20 137.30 Z" fill="#f07c3e" opacity="1.0"/>
<path d="M248.80 137.30 C249.52 137.25 249.25 137.06 249.70 136.50 L250.30 136.50 C250.75 137.06 250.48 137.25 251.20 137.30 Z" fill="#f07c3e" opacity="1.0"/>
<rect x="273.8" y="50.4" width="17.69999999999999" height="57.800000000000004" fill="none" stroke="#b5b5b5" stroke-width="0.6" stroke-dasharray="1.4 1.4"/>
<rect x="273.8" y="108.2" width="17.69999999999999" height="58.8" fill="none" stroke="#b5b5b5" stroke-width="0.6" stroke-dasharray="1.4 1.4"/>
<rect x="330.8" y="50.4" width="44.599999999999966" height="57.800000000000004" fill="none" stroke="#b5b5b5" stroke-width="0.6" stroke-dasharray="1.4 1.4"/>
<rect x="330.8" y="108.2" width="44.599999999999966" height="58.8" fill="none" stroke="#b5b5b5" stroke-width="0.6" stroke-dasharray="1.4 1.4"/>
<rect x="419.7" y="50.4" width="14.0" height="57.800000000000004" fill="none" stroke="#b5b5b5" stroke-width="0.6" stroke-dasharray="1.4 1.4"/>
<rect x="419.7" y="108.2" width="14.0" height="58.8" fill="none" stroke="#b5b5b5" stroke-width="0.6" stroke-dasharray="1.4 1.4"/>
<rect x="581.9" y="50.4" width="21.300000000000068" height="57.800000000000004" fill="none" stroke="#b5b5b5" stroke-width="0.6" stroke-dasharray="1.4 1.4"/>
<rect x="581.9" y="108.2" width="21.300000000000068" height="58.8" fill="none" stroke="#b5b5b5" stroke-width="0.6" stroke-dasharray="1.4 1.4"/>
<path d="M115.6 169.4 L119.2 174 L115.6 178.6 Z" fill="#d6c8ee"/>
<path d="M245.2 169.4 L241.6 174 L245.2 178.6 Z" fill="#d6c8ee"/>
<path d="M262.7 169.4 L259.1 174 L262.7 178.6 Z" fill="#d6c8ee"/>
<path d="M282.8 169.4 L286.4 174 L282.8 178.6 Z" fill="#d6c8ee"/>
<path d="M333.90000000000003 169.4 L337.5 174 L333.90000000000003 178.6 Z" fill="#d6c8ee"/>
<path d="M344.40000000000003 169.4 L348.0 174 L344.40000000000003 178.6 Z" fill="#d6c8ee"/>
<path d="M369.3 169.4 L372.9 174 L369.3 178.6 Z" fill="#d6c8ee"/>
<path d="M383.0 169.4 L386.59999999999997 174 L383.0 178.6 Z" fill="#d6c8ee"/>
<path d="M403.3 169.4 L406.9 174 L403.3 178.6 Z" fill="#d6c8ee"/>
<path d="M426.2 169.4 L429.79999999999995 174 L426.2 178.6 Z" fill="#d6c8ee"/>
<path d="M554.8 169.4 L558.4 174 L554.8 178.6 Z" fill="#d6c8ee"/>
<path d="M590.6999999999999 169.4 L594.3 174 L590.6999999999999 178.6 Z" fill="#d6c8ee"/>
<rect x="178.80" y="183.60" width="4.60" height="6.20" fill="#6d6d6d"/>
<rect x="281.80" y="183.60" width="4.60" height="6.20" fill="#6d6d6d"/>
<rect x="332.70" y="183.60" width="4.60" height="6.20" fill="#6d6d6d"/>
<rect x="345.60" y="183.60" width="4.60" height="6.20" fill="#6d6d6d"/>
<rect x="368.70" y="183.60" width="4.60" height="6.20" fill="#6d6d6d"/>
<rect x="425.30" y="183.60" width="4.60" height="6.20" fill="#6d6d6d"/>
<rect x="589.50" y="183.60" width="4.60" height="6.20" fill="#6d6d6d"/>
<text x="157.30" y="190.97" font-size="9.4" text-anchor="start" fill="#111">Ctrl</text>
<text x="243.50" y="190.97" font-size="9.4" text-anchor="start" fill="#111">Cons 1</text>
<text x="299.50" y="190.97" font-size="9.4" text-anchor="start" fill="#111">Loss 1</text>
<text x="340.00" y="200.97" font-size="9.4" text-anchor="start" fill="#111">Loss 2</text>
<text x="378.20" y="190.97" font-size="9.4" text-anchor="start" fill="#111">Loss 3</text>
<text x="436.60" y="190.97" font-size="9.4" text-anchor="start" fill="#111">Loss 4</text>
<text x="558.60" y="190.97" font-size="9.4" text-anchor="start" fill="#111">Gain 1</text>
<line x1="103.00" y1="201.50" x2="120.00" y2="201.50" stroke="#333" stroke-width="0.7"/>
<rect x="102.90" y="199.10" width="3.40" height="4.70" fill="#333"/>
<rect x="106.10" y="197.20" width="4.80" height="8.40" fill="#333"/>
<rect x="112.80" y="197.20" width="3.00" height="8.40" fill="#333"/>
<rect x="117.10" y="199.80" width="0.70" height="3.40" fill="#333"/>
<rect x="119.30" y="199.10" width="1.10" height="4.80" fill="#333"/>
<line x1="418.20" y1="201.50" x2="484.00" y2="201.50" stroke="#222" stroke-width="0.7"/>
<path d="M420.5 200.7 L421.3 201.5 L420.5 202.3" fill="none" stroke="#222" stroke-width="0.35"/>
<path d="M423.5 200.7 L424.3 201.5 L423.5 202.3" fill="none" stroke="#222" stroke-width="0.35"/>
<path d="M426.5 200.7 L427.3 201.5 L426.5 202.3" fill="none" stroke="#222" stroke-width="0.35"/>
<path d="M429.5 200.7 L430.3 201.5 L429.5 202.3" fill="none" stroke="#222" stroke-width="0.35"/>
<path d="M432.5 200.7 L433.3 201.5 L432.5 202.3" fill="none" stroke="#222" stroke-width="0.35"/>
<path d="M435.5 200.7 L436.3 201.5 L435.5 202.3" fill="none" stroke="#222" stroke-width="0.35"/>
<path d="M438.5 200.7 L439.3 201.5 L438.5 202.3" fill="none" stroke="#222" stroke-width="0.35"/>
<path d="M441.5 200.7 L442.3 201.5 L441.5 202.3" fill="none" stroke="#222" stroke-width="0.35"/>
<path d="M444.5 200.7 L445.3 201.5 L444.5 202.3" fill="none" stroke="#222" stroke-width="0.35"/>
<path d="M447.5 200.7 L448.3 201.5 L447.5 202.3" fill="none" stroke="#222" stroke-width="0.35"/>
<path d="M450.5 200.7 L451.3 201.5 L450.5 202.3" fill="none" stroke="#222" stroke-width="0.35"/>
<path d="M453.5 200.7 L454.3 201.5 L453.5 202.3" fill="none" stroke="#222" stroke-width="0.35"/>
<path d="M456.5 200.7 L457.3 201.5 L456.5 202.3" fill="none" stroke="#222" stroke-width="0.35"/>
<path d="M459.5 200.7 L460.3 201.5 L459.5 202.3" fill="none" stroke="#222" stroke-width="0.35"/>
<path d="M462.5 200.7 L463.3 201.5 L462.5 202.3" fill="none" stroke="#222" stroke-width="0.35"/>
<path d="M465.5 200.7 L466.3 201.5 L465.5 202.3" fill="none" stroke="#222" stroke-width="0.35"/>
<path d="M468.5 200.7 L469.3 201.5 L468.5 202.3" fill="none" stroke="#222" stroke-width="0.35"/>
<path d="M471.5 200.7 L472.3 201.5 L471.5 202.3" fill="none" stroke="#222" stroke-width="0.35"/>
<path d="M474.5 200.7 L475.3 201.5 L474.5 202.3" fill="none" stroke="#222" stroke-width="0.35"/>
<path d="M477.5 200.7 L478.3 201.5 L477.5 202.3" fill="none" stroke="#222" stroke-width="0.35"/>
<path d="M480.5 200.7 L481.3 201.5 L480.5 202.3" fill="none" stroke="#222" stroke-width="0.35"/>
<rect x="418.20" y="198.90" width="5.90" height="5.20" fill="#111"/>
<rect x="424.35" y="198.20" width="0.90" height="6.60" fill="#111"/>
<rect x="425.65" y="198.20" width="0.90" height="6.60" fill="#111"/>
<rect x="428.05" y="198.20" width="0.90" height="6.60" fill="#111"/>
<rect x="430.05" y="198.20" width="0.90" height="6.60" fill="#111"/>
<rect x="431.85" y="198.20" width="0.90" height="6.60" fill="#111"/>
<rect x="451.35" y="198.20" width="0.90" height="6.60" fill="#111"/>
<rect x="465.05" y="198.20" width="0.90" height="6.60" fill="#111"/>
<rect x="482.95" y="198.20" width="0.90" height="6.60" fill="#111"/>
<line x1="514.20" y1="201.50" x2="548.80" y2="201.50" stroke="#222" stroke-width="0.7"/>
<path d="M516.5 200.7 L517.3 201.5 L516.5 202.3" fill="none" stroke="#222" stroke-width="0.35"/>
<path d="M519.5 200.7 L520.3 201.5 L519.5 202.3" fill="none" stroke="#222" stroke-width="0.35"/>
<path d="M522.5 200.7 L523.3 201.5 L522.5 202.3" fill="none" stroke="#222" stroke-width="0.35"/>
<path d="M525.5 200.7 L526.3 201.5 L525.5 202.3" fill="none" stroke="#222" stroke-width="0.35"/>
<path d="M528.5 200.7 L529.3 201.5 L528.5 202.3" fill="none" stroke="#222" stroke-width="0.35"/>
<path d="M531.5 200.7 L532.3 201.5 L531.5 202.3" fill="none" stroke="#222" stroke-width="0.35"/>
<path d="M534.5 200.7 L535.3 201.5 L534.5 202.3" fill="none" stroke="#222" stroke-width="0.35"/>
<path d="M537.5 200.7 L538.3 201.5 L537.5 202.3" fill="none" stroke="#222" stroke-width="0.35"/>
<path d="M540.5 200.7 L541.3 201.5 L540.5 202.3" fill="none" stroke="#222" stroke-width="0.35"/>
<path d="M543.5 200.7 L544.3 201.5 L543.5 202.3" fill="none" stroke="#222" stroke-width="0.35"/>
<rect x="514.20" y="198.90" width="4.50" height="5.20" fill="#111"/>
<rect x="519.75" y="198.20" width="0.90" height="6.60" fill="#111"/>
<rect x="521.65" y="198.20" width="0.90" height="6.60" fill="#111"/>
<rect x="523.45" y="198.20" width="0.90" height="6.60" fill="#111"/>
<rect x="530.85" y="198.20" width="0.90" height="6.60" fill="#111"/>
<rect x="533.45" y="198.20" width="0.90" height="6.60" fill="#111"/>
<rect x="536.05" y="198.20" width="0.90" height="6.60" fill="#111"/>
<rect x="538.75" y="198.20" width="0.90" height="6.60" fill="#111"/>
<rect x="541.35" y="198.20" width="0.90" height="6.60" fill="#111"/>
<rect x="543.95" y="198.20" width="0.90" height="6.60" fill="#111"/>
<rect x="546.55" y="198.20" width="0.90" height="6.60" fill="#111"/>
<rect x="547.75" y="198.20" width="0.90" height="6.60" fill="#111"/>
<line x1="601.70" y1="201.50" x2="671.00" y2="201.50" stroke="#222" stroke-width="0.7"/>
<path d="M603.5 200.7 L604.3 201.5 L603.5 202.3" fill="none" stroke="#222" stroke-width="0.35"/>
<path d="M606.5 200.7 L607.3 201.5 L606.5 202.3" fill="none" stroke="#222" stroke-width="0.35"/>
<path d="M609.5 200.7 L610.3 201.5 L609.5 202.3" fill="none" stroke="#222" stroke-width="0.35"/>
<path d="M612.5 200.7 L613.3 201.5 L612.5 202.3" fill="none" stroke="#222" stroke-width="0.35"/>
<path d="M615.5 200.7 L616.3 201.5 L615.5 202.3" fill="none" stroke="#222" stroke-width="0.35"/>
<path d="M618.5 200.7 L619.3 201.5 L618.5 202.3" fill="none" stroke="#222" stroke-width="0.35"/>
<path d="M621.5 200.7 L622.3 201.5 L621.5 202.3" fill="none" stroke="#222" stroke-width="0.35"/>
<path d="M624.5 200.7 L625.3 201.5 L624.5 202.3" fill="none" stroke="#222" stroke-width="0.35"/>
<path d="M627.5 200.7 L628.3 201.5 L627.5 202.3" fill="none" stroke="#222" stroke-width="0.35"/>
<path d="M630.5 200.7 L631.3 201.5 L630.5 202.3" fill="none" stroke="#222" stroke-width="0.35"/>
<path d="M633.5 200.7 L634.3 201.5 L633.5 202.3" fill="none" stroke="#222" stroke-width="0.35"/>
<path d="M636.5 200.7 L637.3 201.5 L636.5 202.3" fill="none" stroke="#222" stroke-width="0.35"/>
<path d="M639.5 200.7 L640.3 201.5 L639.5 202.3" fill="none" stroke="#222" stroke-width="0.35"/>
<path d="M642.5 200.7 L643.3 201.5 L642.5 202.3" fill="none" stroke="#222" stroke-width="0.35"/>
<path d="M645.5 200.7 L646.3 201.5 L645.5 202.3" fill="none" stroke="#222" stroke-width="0.35"/>
<path d="M648.5 200.7 L649.3 201.5 L648.5 202.3" fill="none" stroke="#222" stroke-width="0.35"/>
<path d="M651.5 200.7 L652.3 201.5 L651.5 202.3" fill="none" stroke="#222" stroke-width="0.35"/>
<path d="M654.5 200.7 L655.3 201.5 L654.5 202.3" fill="none" stroke="#222" stroke-width="0.35"/>
<path d="M657.5 200.7 L658.3 201.5 L657.5 202.3" fill="none" stroke="#222" stroke-width="0.35"/>
<path d="M660.5 200.7 L661.3 201.5 L660.5 202.3" fill="none" stroke="#222" stroke-width="0.35"/>
<path d="M663.5 200.7 L664.3 201.5 L663.5 202.3" fill="none" stroke="#222" stroke-width="0.35"/>
<path d="M666.5 200.7 L667.3 201.5 L666.5 202.3" fill="none" stroke="#222" stroke-width="0.35"/>
<rect x="601.70" y="198.90" width="1.10" height="5.20" fill="#111"/>
<rect x="604.35" y="198.20" width="0.90" height="6.60" fill="#111"/>
<rect x="607.05" y="198.20" width="0.90" height="6.60" fill="#111"/>
<rect x="609.65" y="198.20" width="0.90" height="6.60" fill="#111"/>
<rect x="624.05" y="198.20" width="0.90" height="6.60" fill="#111"/>
<rect x="625.95" y="198.20" width="0.90" height="6.60" fill="#111"/>
<rect x="628.05" y="198.20" width="0.90" height="6.60" fill="#111"/>
<rect x="630.65" y="198.20" width="0.90" height="6.60" fill="#111"/>
<rect x="633.25" y="198.20" width="0.90" height="6.60" fill="#111"/>
<rect x="659.55" y="198.20" width="0.90" height="6.60" fill="#111"/>
<rect x="661.65" y="198.20" width="0.90" height="6.60" fill="#111"/>
<rect x="669.15" y="198.20" width="0.90" height="6.60" fill="#111"/>
<rect x="670.05" y="198.20" width="0.90" height="6.60" fill="#111"/>
<text x="111.30" y="217.78" font-size="10" text-anchor="middle" fill="#111">ACTB</text>
<text x="451.80" y="218.98" font-size="10" text-anchor="middle" fill="#111">KRT80</text>
<text x="531.70" y="218.98" font-size="10" text-anchor="middle" fill="#111">KRT74</text>
<text x="632.40" y="218.98" font-size="10" text-anchor="middle" fill="#111">KRT72</text>
<text x="0.00" y="236.50" font-size="14.5" text-anchor="start" fill="#111" font-weight="bold" stroke="#000" stroke-width="0.45">b</text>
<text x="19.60" y="241.49" font-size="10.3" text-anchor="start" fill="#111">non-CSC</text>
<text x="19.80" y="260.67" font-size="9.4" text-anchor="start" fill="#111">ChIP</text>
<line x1="42.80" y1="251.00" x2="42.80" y2="263.00" stroke="#999" stroke-width="0.8"/>
<rect x="45.40" y="250.40" width="8.60" height="3.00" fill="#4ab4e6"/>
<rect x="45.40" y="260.20" width="8.60" height="3.00" fill="#e8a031"/>
<text x="56.00" y="255.13" font-size="9.3" text-anchor="start" fill="#111">IgG</text>
<text x="56.00" y="265.63" font-size="9.3" text-anchor="start" fill="#111">CTCF</text>
<text x="86.00" y="260.59" font-size="9.2" text-anchor="start" fill="#111">ReChIP</text>
<line x1="120.10" y1="251.00" x2="120.10" y2="263.00" stroke="#999" stroke-width="0.8"/>
<rect x="122.70" y="250.40" width="8.60" height="3.00" fill="#d23a4c"/>
<rect x="122.70" y="260.20" width="8.60" height="3.00" fill="#0f4f22"/>
<text x="133.80" y="255.13" font-size="9.3" text-anchor="start" fill="#111">IgG</text>
<text x="133.80" y="265.63" font-size="9.3" text-anchor="start" fill="#111">RAD21</text>
<line x1="40.80" y1="270.40" x2="40.80" y2="346.50" stroke="#222" stroke-width="0.8"/>
<line x1="38.00" y1="346.10" x2="40.80" y2="346.10" stroke="#222" stroke-width="0.6"/>
<line x1="39.20" y1="338.58" x2="40.80" y2="338.58" stroke="#222" stroke-width="0.6"/>
<line x1="39.20" y1="331.06" x2="40.80" y2="331.06" stroke="#222" stroke-width="0.6"/>
<line x1="39.20" y1="323.54" x2="40.80" y2="323.54" stroke="#222" stroke-width="0.6"/>
<line x1="39.20" y1="316.02" x2="40.80" y2="316.02" stroke="#222" stroke-width="0.6"/>
<line x1="38.00" y1="308.50" x2="40.80" y2="308.50" stroke="#222" stroke-width="0.6"/>
<line x1="39.20" y1="300.98" x2="40.80" y2="300.98" stroke="#222" stroke-width="0.6"/>
<line x1="39.20" y1="293.46" x2="40.80" y2="293.46" stroke="#222" stroke-width="0.6"/>
<line x1="39.20" y1="285.94" x2="40.80" y2="285.94" stroke="#222" stroke-width="0.6"/>
<line x1="39.20" y1="278.42" x2="40.80" y2="278.42" stroke="#222" stroke-width="0.6"/>
<line x1="38.00" y1="270.90" x2="40.80" y2="270.90" stroke="#222" stroke-width="0.6"/>
<text x="37.30" y="274.12" font-size="9" text-anchor="end" fill="#111">10.0</text>
<text x="37.30" y="311.72" font-size="9" text-anchor="end" fill="#111">5.0</text>
<text x="37.30" y="349.32" font-size="9" text-anchor="end" fill="#111">0.0</text>
<text x="17.60" y="308.5" font-size="10.5" text-anchor="middle" fill="#111" transform="rotate(-90 17.60 308.5)" dominant-baseline="central">% of input</text>
<rect x="44.92" y="344.80" width="3.20" height="1.30" fill="#4ab4e6" opacity="0.45"/>
<rect x="48.42" y="344.80" width="4.00" height="1.30" fill="#e8a031" opacity="0.45"/>
<rect x="52.72" y="344.80" width="3.20" height="1.30" fill="#d23a4c" opacity="0.45"/>
<rect x="55.92" y="344.80" width="4.00" height="1.30" fill="#0f4f22" opacity="0.45"/>
<text x="50.42" y="350.6" font-size="10" text-anchor="end" fill="#111" transform="rotate(-45 50.42 350.6)" dominant-baseline="hanging">Ctrl</text>
<rect x="62.90" y="344.80" width="3.20" height="1.30" fill="#4ab4e6" opacity="0.45"/>
<rect x="66.40" y="288.20" width="4.00" height="57.90" fill="#e8a031"/>
<line x1="68.40" y1="282.26" x2="68.40" y2="288.20" stroke="#888" stroke-width="0.6"/>
<line x1="67.50" y1="282.26" x2="69.30" y2="282.26" stroke="#888" stroke-width="0.6"/>
<circle cx="68.40" cy="290.00" r="0.7" fill="#f4dcb0" opacity="0.7"/>
<rect x="70.70" y="344.80" width="3.20" height="1.30" fill="#d23a4c" opacity="0.45"/>
<rect x="73.90" y="297.22" width="4.00" height="48.88" fill="#0f4f22"/>
<line x1="75.90" y1="291.92" x2="75.90" y2="297.22" stroke="#888" stroke-width="0.6"/>
<line x1="75.00" y1="291.92" x2="76.80" y2="291.92" stroke="#888" stroke-width="0.6"/>
<circle cx="75.90" cy="299.02" r="0.7" fill="#f4dcb0" opacity="0.7"/>
<text x="68.40" y="280.26" font-size="8.5" text-anchor="middle" fill="#111" letter-spacing="-0.6">**</text>
<text x="75.90" y="289.92" font-size="8.5" text-anchor="middle" fill="#111" letter-spacing="-0.6">*</text>
<text x="68.40" y="350.6" font-size="10" text-anchor="end" fill="#111" transform="rotate(-45 68.40 350.6)" dominant-baseline="hanging">Cons1</text>
<rect x="80.88" y="344.80" width="3.20" height="1.30" fill="#4ab4e6" opacity="0.45"/>
<rect x="84.38" y="292.71" width="4.00" height="53.39" fill="#e8a031"/>
<line x1="86.38" y1="287.09" x2="86.38" y2="292.71" stroke="#888" stroke-width="0.6"/>
<line x1="85.48" y1="287.09" x2="87.28" y2="287.09" stroke="#888" stroke-width="0.6"/>
<circle cx="86.38" cy="294.51" r="0.7" fill="#f4dcb0" opacity="0.7"/>
<rect x="88.68" y="344.80" width="3.20" height="1.30" fill="#d23a4c" opacity="0.45"/>
<rect x="91.88" y="285.19" width="4.00" height="60.91" fill="#0f4f22"/>
<line x1="93.88" y1="279.04" x2="93.88" y2="285.19" stroke="#888" stroke-width="0.6"/>
<line x1="92.98" y1="279.04" x2="94.78" y2="279.04" stroke="#888" stroke-width="0.6"/>
<circle cx="93.88" cy="286.99" r="0.7" fill="#f4dcb0" opacity="0.7"/>
<text x="86.38" y="285.09" font-size="8.5" text-anchor="middle" fill="#111" letter-spacing="-0.6">***</text>
<text x="93.88" y="277.04" font-size="8.5" text-anchor="middle" fill="#111" letter-spacing="-0.6">*</text>
<text x="86.38" y="350.6" font-size="10" text-anchor="end" fill="#111" transform="rotate(-45 86.38 350.6)" dominant-baseline="hanging">Loss1</text>
<rect x="98.86" y="344.80" width="3.20" height="1.30" fill="#4ab4e6" opacity="0.45"/>
<rect x="102.36" y="296.47" width="4.00" height="49.63" fill="#e8a031"/>
<line x1="104.36" y1="291.11" x2="104.36" y2="296.47" stroke="#888" stroke-width="0.6"/>
<line x1="103.46" y1="291.11" x2="105.26" y2="291.11" stroke="#888" stroke-width="0.6"/>
<circle cx="104.36" cy="298.27" r="0.7" fill="#f4dcb0" opacity="0.7"/>
<rect x="106.66" y="344.80" width="3.20" height="1.30" fill="#d23a4c" opacity="0.45"/>
<rect x="109.86" y="322.79" width="4.00" height="23.31" fill="#0f4f22"/>
<line x1="111.86" y1="319.28" x2="111.86" y2="322.79" stroke="#888" stroke-width="0.6"/>
<line x1="110.96" y1="319.28" x2="112.76" y2="319.28" stroke="#888" stroke-width="0.6"/>
<circle cx="111.86" cy="324.59" r="0.7" fill="#f4dcb0" opacity="0.7"/>
<text x="104.36" y="289.11" font-size="8.5" text-anchor="middle" fill="#111" letter-spacing="-0.6">*</text>
<text x="111.86" y="317.28" font-size="8.5" text-anchor="middle" fill="#111" letter-spacing="-0.6">**</text>
<text x="104.36" y="350.6" font-size="10" text-anchor="end" fill="#111" transform="rotate(-45 104.36 350.6)" dominant-baseline="hanging">Loss2</text>
<rect x="116.84" y="344.80" width="3.20" height="1.30" fill="#4ab4e6" opacity="0.45"/>
<rect x="120.34" y="282.93" width="4.00" height="63.17" fill="#e8a031"/>
<line x1="122.34" y1="276.63" x2="122.34" y2="282.93" stroke="#888" stroke-width="0.6"/>
<line x1="121.44" y1="276.63" x2="123.24" y2="276.63" stroke="#888" stroke-width="0.6"/>
<circle cx="122.34" cy="284.73" r="0.7" fill="#f4dcb0" opacity="0.7"/>
<rect x="124.64" y="344.80" width="3.20" height="1.30" fill="#d23a4c" opacity="0.45"/>
<rect x="127.84" y="299.48" width="4.00" height="46.62" fill="#0f4f22"/>
<line x1="129.84" y1="294.33" x2="129.84" y2="299.48" stroke="#888" stroke-width="0.6"/>
<line x1="128.94" y1="294.33" x2="130.74" y2="294.33" stroke="#888" stroke-width="0.6"/>
<circle cx="129.84" cy="301.28" r="0.7" fill="#f4dcb0" opacity="0.7"/>
<text x="122.34" y="274.63" font-size="8.5" text-anchor="middle" fill="#111" letter-spacing="-0.6">***</text>
<text x="129.84" y="292.33" font-size="8.5" text-anchor="middle" fill="#111" letter-spacing="-0.6">**</text>
<text x="122.34" y="350.6" font-size="10" text-anchor="end" fill="#111" transform="rotate(-45 122.34 350.6)" dominant-baseline="hanging">Loss3</text>
<rect x="134.82" y="344.80" width="3.20" height="1.30" fill="#4ab4e6" opacity="0.45"/>
<rect x="138.32" y="322.04" width="4.00" height="24.06" fill="#e8a031"/>
<line x1="140.32" y1="318.47" x2="140.32" y2="322.04" stroke="#888" stroke-width="0.6"/>
<line x1="139.42" y1="318.47" x2="141.22" y2="318.47" stroke="#888" stroke-width="0.6"/>
<circle cx="140.32" cy="323.84" r="0.7" fill="#f4dcb0" opacity="0.7"/>
<rect x="142.62" y="344.80" width="3.20" height="1.30" fill="#d23a4c" opacity="0.45"/>
<rect x="145.82" y="328.80" width="4.00" height="17.30" fill="#0f4f22"/>
<line x1="147.82" y1="325.71" x2="147.82" y2="328.80" stroke="#888" stroke-width="0.6"/>
<line x1="146.92" y1="325.71" x2="148.72" y2="325.71" stroke="#888" stroke-width="0.6"/>
<circle cx="147.82" cy="330.60" r="0.7" fill="#f4dcb0" opacity="0.7"/>
<text x="140.32" y="316.47" font-size="8.5" text-anchor="middle" fill="#111" letter-spacing="-0.6">***</text>
<text x="147.82" y="323.71" font-size="8.5" text-anchor="middle" fill="#111" letter-spacing="-0.6">***</text>
<text x="140.32" y="350.6" font-size="10" text-anchor="end" fill="#111" transform="rotate(-45 140.32 350.6)" dominant-baseline="hanging">Loss4</text>
<rect x="152.80" y="344.80" width="3.20" height="1.30" fill="#4ab4e6" opacity="0.45"/>
<rect x="156.30" y="340.84" width="4.00" height="5.26" fill="#e8a031"/>
<rect x="160.60" y="344.80" width="3.20" height="1.30" fill="#d23a4c" opacity="0.45"/>
<rect x="163.80" y="344.80" width="4.00" height="1.30" fill="#0f4f22" opacity="0.45"/>
<text x="158.30" y="337.34" font-size="8.5" text-anchor="middle" fill="#111" letter-spacing="-0.6">*</text>
<text x="165.80" y="341.10" font-size="8.5" text-anchor="middle" fill="#111" letter-spacing="-0.6">*</text>
<text x="158.30" y="350.6" font-size="10" text-anchor="end" fill="#111" transform="rotate(-45 158.30 350.6)" dominant-baseline="hanging">Gain1</text>
<text x="188.30" y="241.49" font-size="10.3" text-anchor="start" fill="#111">CSC</text>
<text x="188.50" y="260.67" font-size="9.4" text-anchor="start" fill="#111">ChIP</text>
<line x1="211.50" y1="251.00" x2="211.50" y2="263.00" stroke="#999" stroke-width="0.8"/>
<rect x="214.10" y="250.40" width="8.60" height="3.00" fill="#4ab4e6"/>
<rect x="214.10" y="260.20" width="8.60" height="3.00" fill="#e8a031"/>
<text x="224.70" y="255.13" font-size="9.3" text-anchor="start" fill="#111">IgG</text>
<text x="224.70" y="265.63" font-size="9.3" text-anchor="start" fill="#111">CTCF</text>
<text x="254.70" y="260.59" font-size="9.2" text-anchor="start" fill="#111">ReChIP</text>
<line x1="288.80" y1="251.00" x2="288.80" y2="263.00" stroke="#999" stroke-width="0.8"/>
<rect x="291.40" y="250.40" width="8.60" height="3.00" fill="#d23a4c"/>
<rect x="291.40" y="260.20" width="8.60" height="3.00" fill="#0f4f22"/>
<text x="302.50" y="255.13" font-size="9.3" text-anchor="start" fill="#111">IgG</text>
<text x="302.50" y="265.63" font-size="9.3" text-anchor="start" fill="#111">RAD21</text>
<line x1="209.50" y1="270.40" x2="209.50" y2="346.50" stroke="#222" stroke-width="0.8"/>
<line x1="206.70" y1="346.10" x2="209.50" y2="346.10" stroke="#222" stroke-width="0.6"/>
<line x1="207.90" y1="338.58" x2="209.50" y2="338.58" stroke="#222" stroke-width="0.6"/>
<line x1="207.90" y1="331.06" x2="209.50" y2="331.06" stroke="#222" stroke-width="0.6"/>
<line x1="207.90" y1="323.54" x2="209.50" y2="323.54" stroke="#222" stroke-width="0.6"/>
<line x1="207.90" y1="316.02" x2="209.50" y2="316.02" stroke="#222" stroke-width="0.6"/>
<line x1="206.70" y1="308.50" x2="209.50" y2="308.50" stroke="#222" stroke-width="0.6"/>
<line x1="207.90" y1="300.98" x2="209.50" y2="300.98" stroke="#222" stroke-width="0.6"/>
<line x1="207.90" y1="293.46" x2="209.50" y2="293.46" stroke="#222" stroke-width="0.6"/>
<line x1="207.90" y1="285.94" x2="209.50" y2="285.94" stroke="#222" stroke-width="0.6"/>
<line x1="207.90" y1="278.42" x2="209.50" y2="278.42" stroke="#222" stroke-width="0.6"/>
<line x1="206.70" y1="270.90" x2="209.50" y2="270.90" stroke="#222" stroke-width="0.6"/>
<text x="206.00" y="274.12" font-size="9" text-anchor="end" fill="#111">10.0</text>
<text x="206.00" y="311.72" font-size="9" text-anchor="end" fill="#111">5.0</text>
<text x="206.00" y="349.32" font-size="9" text-anchor="end" fill="#111">0.0</text>
<text x="186.30" y="308.5" font-size="10.5" text-anchor="middle" fill="#111" transform="rotate(-90 186.30 308.5)" dominant-baseline="central">% of input</text>
<rect x="214.60" y="344.80" width="3.20" height="1.30" fill="#4ab4e6" opacity="0.45"/>
<rect x="218.10" y="344.80" width="4.00" height="1.30" fill="#e8a031" opacity="0.45"/>
<rect x="222.40" y="344.80" width="3.20" height="1.30" fill="#d23a4c" opacity="0.45"/>
<rect x="225.60" y="343.84" width="4.00" height="2.26" fill="#0f4f22"/>
<text x="220.10" y="350.6" font-size="10" text-anchor="end" fill="#111" transform="rotate(-45 220.10 350.6)" dominant-baseline="hanging">Ctrl</text>
<rect x="232.60" y="344.80" width="3.20" height="1.30" fill="#4ab4e6" opacity="0.45"/>
<rect x="236.10" y="307.00" width="4.00" height="39.10" fill="#e8a031"/>
<line x1="238.10" y1="302.38" x2="238.10" y2="307.00" stroke="#888" stroke-width="0.6"/>
<line x1="237.20" y1="302.38" x2="239.00" y2="302.38" stroke="#888" stroke-width="0.6"/>
<circle cx="238.10" cy="308.80" r="0.7" fill="#f4dcb0" opacity="0.7"/>
<rect x="240.40" y="344.80" width="3.20" height="1.30" fill="#d23a4c" opacity="0.45"/>
<rect x="243.60" y="312.26" width="4.00" height="33.84" fill="#0f4f22"/>
<line x1="245.60" y1="308.01" x2="245.60" y2="312.26" stroke="#888" stroke-width="0.6"/>
<line x1="244.70" y1="308.01" x2="246.50" y2="308.01" stroke="#888" stroke-width="0.6"/>
<circle cx="245.60" cy="314.06" r="0.7" fill="#f4dcb0" opacity="0.7"/>
<text x="238.10" y="300.38" font-size="8.5" text-anchor="middle" fill="#111" letter-spacing="-0.6">*</text>
<text x="245.60" y="306.01" font-size="8.5" text-anchor="middle" fill="#111" letter-spacing="-0.6">**</text>
<text x="238.10" y="350.6" font-size="10" text-anchor="end" fill="#111" transform="rotate(-45 238.10 350.6)" dominant-baseline="hanging">Cons1</text>
<rect x="250.60" y="344.80" width="3.20" height="1.30" fill="#4ab4e6" opacity="0.45"/>
<rect x="254.10" y="288.95" width="4.00" height="57.15" fill="#e8a031"/>
<line x1="256.10" y1="283.07" x2="256.10" y2="288.95" stroke="#888" stroke-width="0.6"/>
<line x1="255.20" y1="283.07" x2="257.00" y2="283.07" stroke="#888" stroke-width="0.6"/>
<circle cx="256.10" cy="290.75" r="0.7" fill="#f4dcb0" opacity="0.7"/>
<rect x="258.40" y="344.80" width="3.20" height="1.30" fill="#d23a4c" opacity="0.45"/>
<rect x="261.60" y="342.34" width="4.00" height="3.76" fill="#0f4f22"/>
<text x="256.10" y="281.07" font-size="8.5" text-anchor="middle" fill="#111" letter-spacing="-0.6">*</text>
<text x="256.10" y="350.6" font-size="10" text-anchor="end" fill="#111" transform="rotate(-45 256.10 350.6)" dominant-baseline="hanging">Loss1</text>
<rect x="268.60" y="344.22" width="3.20" height="1.88" fill="#4ab4e6"/>
<rect x="272.10" y="300.98" width="4.00" height="45.12" fill="#e8a031"/>
<line x1="274.10" y1="295.94" x2="274.10" y2="300.98" stroke="#888" stroke-width="0.6"/>
<line x1="273.20" y1="295.94" x2="275.00" y2="295.94" stroke="#888" stroke-width="0.6"/>
<circle cx="274.10" cy="302.78" r="0.7" fill="#f4dcb0" opacity="0.7"/>
<rect x="276.40" y="344.80" width="3.20" height="1.30" fill="#d23a4c" opacity="0.45"/>
<rect x="279.60" y="342.34" width="4.00" height="3.76" fill="#0f4f22"/>
<text x="274.10" y="293.94" font-size="8.5" text-anchor="middle" fill="#111" letter-spacing="-0.6">*</text>
<text x="274.10" y="350.6" font-size="10" text-anchor="end" fill="#111" transform="rotate(-45 274.10 350.6)" dominant-baseline="hanging">Loss2</text>
<rect x="286.60" y="344.80" width="3.20" height="1.30" fill="#4ab4e6" opacity="0.45"/>
<rect x="290.10" y="292.71" width="4.00" height="53.39" fill="#e8a031"/>
<line x1="292.10" y1="287.09" x2="292.10" y2="292.71" stroke="#888" stroke-width="0.6"/>
<line x1="291.20" y1="287.09" x2="293.00" y2="287.09" stroke="#888" stroke-width="0.6"/>
<circle cx="292.10" cy="294.51" r="0.7" fill="#f4dcb0" opacity="0.7"/>
<rect x="294.40" y="344.80" width="3.20" height="1.30" fill="#d23a4c" opacity="0.45"/>
<rect x="297.60" y="343.84" width="4.00" height="2.26" fill="#0f4f22"/>
<text x="292.10" y="285.09" font-size="8.5" text-anchor="middle" fill="#111" letter-spacing="-0.6">*</text>
<text x="292.10" y="350.6" font-size="10" text-anchor="end" fill="#111" transform="rotate(-45 292.10 350.6)" dominant-baseline="hanging">Loss3</text>
<rect x="304.60" y="344.80" width="3.20" height="1.30" fill="#4ab4e6" opacity="0.45"/>
<rect x="308.10" y="294.96" width="4.00" height="51.14" fill="#e8a031"/>
<line x1="310.10" y1="289.50" x2="310.10" y2="294.96" stroke="#888" stroke-width="0.6"/>
<line x1="309.20" y1="289.50" x2="311.00" y2="289.50" stroke="#888" stroke-width="0.6"/>
<circle cx="310.10" cy="296.76" r="0.7" fill="#f4dcb0" opacity="0.7"/>
<rect x="312.40" y="344.80" width="3.20" height="1.30" fill="#d23a4c" opacity="0.45"/>
<rect x="315.60" y="344.80" width="4.00" height="1.30" fill="#0f4f22" opacity="0.45"/>
<text x="310.10" y="287.50" font-size="8.5" text-anchor="middle" fill="#111" letter-spacing="-0.6">**</text>
<text x="310.10" y="350.6" font-size="10" text-anchor="end" fill="#111" transform="rotate(-45 310.10 350.6)" dominant-baseline="hanging">Loss4</text>
<rect x="322.60" y="344.80" width="3.20" height="1.30" fill="#4ab4e6" opacity="0.45"/>
<rect x="326.10" y="297.97" width="4.00" height="48.13" fill="#e8a031"/>
<line x1="328.10" y1="292.72" x2="328.10" y2="297.97" stroke="#888" stroke-width="0.6"/>
<line x1="327.20" y1="292.72" x2="329.00" y2="292.72" stroke="#888" stroke-width="0.6"/>
<circle cx="328.10" cy="299.77" r="0.7" fill="#f4dcb0" opacity="0.7"/>
<rect x="330.40" y="344.80" width="3.20" height="1.30" fill="#d23a4c" opacity="0.45"/>
<rect x="333.60" y="297.97" width="4.00" height="48.13" fill="#0f4f22"/>
<line x1="335.60" y1="292.72" x2="335.60" y2="297.97" stroke="#888" stroke-width="0.6"/>
<line x1="334.70" y1="292.72" x2="336.50" y2="292.72" stroke="#888" stroke-width="0.6"/>
<circle cx="335.60" cy="299.77" r="0.7" fill="#f4dcb0" opacity="0.7"/>
<text x="328.10" y="290.72" font-size="8.5" text-anchor="middle" fill="#111" letter-spacing="-0.6">*</text>
<text x="335.60" y="290.72" font-size="8.5" text-anchor="middle" fill="#111" letter-spacing="-0.6">**</text>
<text x="328.10" y="350.6" font-size="10" text-anchor="end" fill="#111" transform="rotate(-45 328.10 350.6)" dominant-baseline="hanging">Gain1</text>
<text x="364.50" y="241.49" font-size="10.3" text-anchor="start" fill="#111">non-CSC</text>
<text x="364.70" y="260.67" font-size="9.4" text-anchor="start" fill="#111">ChIP</text>
<line x1="387.70" y1="251.00" x2="387.70" y2="263.00" stroke="#999" stroke-width="0.8"/>
<rect x="390.30" y="250.40" width="8.60" height="3.00" fill="#4ab4e6"/>
<rect x="390.30" y="260.20" width="8.60" height="3.00" fill="#e8a031"/>
<text x="400.90" y="255.13" font-size="9.3" text-anchor="start" fill="#111">IgG</text>
<text x="400.90" y="265.63" font-size="9.3" text-anchor="start" fill="#111">RAD21</text>
<text x="430.90" y="260.59" font-size="9.2" text-anchor="start" fill="#111">ReChIP</text>
<line x1="465.00" y1="251.00" x2="465.00" y2="263.00" stroke="#999" stroke-width="0.8"/>
<rect x="467.60" y="250.40" width="8.60" height="3.00" fill="#d23a4c"/>
<rect x="467.60" y="260.20" width="8.60" height="3.00" fill="#0f4f22"/>
<text x="478.70" y="255.13" font-size="9.3" text-anchor="start" fill="#111">IgG</text>
<text x="478.70" y="265.63" font-size="9.3" text-anchor="start" fill="#111">CTCF</text>
<line x1="385.70" y1="270.40" x2="385.70" y2="346.50" stroke="#222" stroke-width="0.8"/>
<line x1="382.90" y1="346.10" x2="385.70" y2="346.10" stroke="#222" stroke-width="0.6"/>
<line x1="384.10" y1="338.58" x2="385.70" y2="338.58" stroke="#222" stroke-width="0.6"/>
<line x1="384.10" y1="331.06" x2="385.70" y2="331.06" stroke="#222" stroke-width="0.6"/>
<line x1="384.10" y1="323.54" x2="385.70" y2="323.54" stroke="#222" stroke-width="0.6"/>
<line x1="384.10" y1="316.02" x2="385.70" y2="316.02" stroke="#222" stroke-width="0.6"/>
<line x1="382.90" y1="308.50" x2="385.70" y2="308.50" stroke="#222" stroke-width="0.6"/>
<line x1="384.10" y1="300.98" x2="385.70" y2="300.98" stroke="#222" stroke-width="0.6"/>
<line x1="384.10" y1="293.46" x2="385.70" y2="293.46" stroke="#222" stroke-width="0.6"/>
<line x1="384.10" y1="285.94" x2="385.70" y2="285.94" stroke="#222" stroke-width="0.6"/>
<line x1="384.10" y1="278.42" x2="385.70" y2="278.42" stroke="#222" stroke-width="0.6"/>
<line x1="382.90" y1="270.90" x2="385.70" y2="270.90" stroke="#222" stroke-width="0.6"/>
<text x="382.20" y="274.12" font-size="9" text-anchor="end" fill="#111">10.0</text>
<text x="382.20" y="311.72" font-size="9" text-anchor="end" fill="#111">5.0</text>
<text x="382.20" y="349.32" font-size="9" text-anchor="end" fill="#111">0.0</text>
<text x="362.50" y="308.5" font-size="10.5" text-anchor="middle" fill="#111" transform="rotate(-90 362.50 308.5)" dominant-baseline="central">% of input</text>
<rect x="389.30" y="344.80" width="3.20" height="1.30" fill="#4ab4e6" opacity="0.45"/>
<rect x="392.80" y="343.84" width="4.00" height="2.26" fill="#e8a031"/>
<rect x="397.10" y="344.80" width="3.20" height="1.30" fill="#d23a4c" opacity="0.45"/>
<rect x="400.30" y="344.80" width="4.00" height="1.30" fill="#0f4f22" opacity="0.45"/>
<text x="394.80" y="350.6" font-size="10" text-anchor="end" fill="#111" transform="rotate(-45 394.80 350.6)" dominant-baseline="hanging">Ctrl</text>
<rect x="407.60" y="344.80" width="3.20" height="1.30" fill="#4ab4e6" opacity="0.45"/>
<rect x="411.10" y="296.47" width="4.00" height="49.63" fill="#e8a031"/>
<line x1="413.10" y1="291.11" x2="413.10" y2="296.47" stroke="#888" stroke-width="0.6"/>
<line x1="412.20" y1="291.11" x2="414.00" y2="291.11" stroke="#888" stroke-width="0.6"/>
<circle cx="413.10" cy="298.27" r="0.7" fill="#f4dcb0" opacity="0.7"/>
<rect x="415.40" y="344.80" width="3.20" height="1.30" fill="#d23a4c" opacity="0.45"/>
<rect x="418.60" y="297.97" width="4.00" height="48.13" fill="#0f4f22"/>
<line x1="420.60" y1="292.72" x2="420.60" y2="297.97" stroke="#888" stroke-width="0.6"/>
<line x1="419.70" y1="292.72" x2="421.50" y2="292.72" stroke="#888" stroke-width="0.6"/>
<circle cx="420.60" cy="299.77" r="0.7" fill="#f4dcb0" opacity="0.7"/>
<text x="413.10" y="289.11" font-size="8.5" text-anchor="middle" fill="#111" letter-spacing="-0.6">**</text>
<text x="420.60" y="290.72" font-size="8.5" text-anchor="middle" fill="#111" letter-spacing="-0.6">*</text>
<text x="413.10" y="350.6" font-size="10" text-anchor="end" fill="#111" transform="rotate(-45 413.10 350.6)" dominant-baseline="hanging">Cons1</text>
<rect x="425.90" y="344.80" width="3.20" height="1.30" fill="#4ab4e6" opacity="0.45"/>
<rect x="429.40" y="292.71" width="4.00" height="53.39" fill="#e8a031"/>
<line x1="431.40" y1="287.09" x2="431.40" y2="292.71" stroke="#888" stroke-width="0.6"/>
<line x1="430.50" y1="287.09" x2="432.30" y2="287.09" stroke="#888" stroke-width="0.6"/>
<circle cx="431.40" cy="294.51" r="0.7" fill="#f4dcb0" opacity="0.7"/>
<rect x="433.70" y="344.80" width="3.20" height="1.30" fill="#d23a4c" opacity="0.45"/>
<rect x="436.90" y="299.48" width="4.00" height="46.62" fill="#0f4f22"/>
<line x1="438.90" y1="294.33" x2="438.90" y2="299.48" stroke="#888" stroke-width="0.6"/>
<line x1="438.00" y1="294.33" x2="439.80" y2="294.33" stroke="#888" stroke-width="0.6"/>
<circle cx="438.90" cy="301.28" r="0.7" fill="#f4dcb0" opacity="0.7"/>
<text x="431.40" y="285.09" font-size="8.5" text-anchor="middle" fill="#111" letter-spacing="-0.6">***</text>
<text x="438.90" y="292.33" font-size="8.5" text-anchor="middle" fill="#111" letter-spacing="-0.6">***</text>
<text x="431.40" y="350.6" font-size="10" text-anchor="end" fill="#111" transform="rotate(-45 431.40 350.6)" dominant-baseline="hanging">Loss1</text>
<rect x="444.20" y="344.80" width="3.20" height="1.30" fill="#4ab4e6" opacity="0.45"/>
<rect x="447.70" y="288.20" width="4.00" height="57.90" fill="#e8a031"/>
<line x1="449.70" y1="282.26" x2="449.70" y2="288.20" stroke="#888" stroke-width="0.6"/>
<line x1="448.80" y1="282.26" x2="450.60" y2="282.26" stroke="#888" stroke-width="0.6"/>
<circle cx="449.70" cy="290.00" r="0.7" fill="#f4dcb0" opacity="0.7"/>
<rect x="452.00" y="344.80" width="3.20" height="1.30" fill="#d23a4c" opacity="0.45"/>
<rect x="455.20" y="322.79" width="4.00" height="23.31" fill="#0f4f22"/>
<line x1="457.20" y1="319.28" x2="457.20" y2="322.79" stroke="#888" stroke-width="0.6"/>
<line x1="456.30" y1="319.28" x2="458.10" y2="319.28" stroke="#888" stroke-width="0.6"/>
<circle cx="457.20" cy="324.59" r="0.7" fill="#f4dcb0" opacity="0.7"/>
<text x="449.70" y="280.26" font-size="8.5" text-anchor="middle" fill="#111" letter-spacing="-0.6">**</text>
<text x="457.20" y="317.28" font-size="8.5" text-anchor="middle" fill="#111" letter-spacing="-0.6">*</text>
<text x="449.70" y="350.6" font-size="10" text-anchor="end" fill="#111" transform="rotate(-45 449.70 350.6)" dominant-baseline="hanging">Loss2</text>
<rect x="462.50" y="344.80" width="3.20" height="1.30" fill="#4ab4e6" opacity="0.45"/>
<rect x="466.00" y="310.00" width="4.00" height="36.10" fill="#e8a031"/>
<line x1="468.00" y1="305.60" x2="468.00" y2="310.00" stroke="#888" stroke-width="0.6"/>
<line x1="467.10" y1="305.60" x2="468.90" y2="305.60" stroke="#888" stroke-width="0.6"/>
<circle cx="468.00" cy="311.80" r="0.7" fill="#f4dcb0" opacity="0.7"/>
<rect x="470.30" y="344.80" width="3.20" height="1.30" fill="#d23a4c" opacity="0.45"/>
<rect x="473.50" y="310.76" width="4.00" height="35.34" fill="#0f4f22"/>
<line x1="475.50" y1="306.40" x2="475.50" y2="310.76" stroke="#888" stroke-width="0.6"/>
<line x1="474.60" y1="306.40" x2="476.40" y2="306.40" stroke="#888" stroke-width="0.6"/>
<circle cx="475.50" cy="312.56" r="0.7" fill="#f4dcb0" opacity="0.7"/>
<text x="468.00" y="303.60" font-size="8.5" text-anchor="middle" fill="#111" letter-spacing="-0.6">***</text>
<text x="475.50" y="304.40" font-size="8.5" text-anchor="middle" fill="#111" letter-spacing="-0.6">**</text>
<text x="468.00" y="350.6" font-size="10" text-anchor="end" fill="#111" transform="rotate(-45 468.00 350.6)" dominant-baseline="hanging">Loss3</text>
<rect x="480.80" y="344.80" width="3.20" height="1.30" fill="#4ab4e6" opacity="0.45"/>
<rect x="484.30" y="315.27" width="4.00" height="30.83" fill="#e8a031"/>
<line x1="486.30" y1="311.23" x2="486.30" y2="315.27" stroke="#888" stroke-width="0.6"/>
<line x1="485.40" y1="311.23" x2="487.20" y2="311.23" stroke="#888" stroke-width="0.6"/>
<circle cx="486.30" cy="317.07" r="0.7" fill="#f4dcb0" opacity="0.7"/>
<rect x="488.60" y="344.80" width="3.20" height="1.30" fill="#d23a4c" opacity="0.45"/>
<rect x="491.80" y="331.81" width="4.00" height="14.29" fill="#0f4f22"/>
<line x1="493.80" y1="328.93" x2="493.80" y2="331.81" stroke="#888" stroke-width="0.6"/>
<line x1="492.90" y1="328.93" x2="494.70" y2="328.93" stroke="#888" stroke-width="0.6"/>
<circle cx="493.80" cy="333.61" r="0.7" fill="#f4dcb0" opacity="0.7"/>
<text x="486.30" y="309.23" font-size="8.5" text-anchor="middle" fill="#111" letter-spacing="-0.6">**</text>
<text x="493.80" y="326.93" font-size="8.5" text-anchor="middle" fill="#111" letter-spacing="-0.6">**</text>
<text x="486.30" y="350.6" font-size="10" text-anchor="end" fill="#111" transform="rotate(-45 486.30 350.6)" dominant-baseline="hanging">Loss4</text>
<rect x="499.10" y="344.80" width="3.20" height="1.30" fill="#4ab4e6" opacity="0.45"/>
<rect x="502.60" y="284.44" width="4.00" height="61.66" fill="#e8a031"/>
<line x1="504.60" y1="278.24" x2="504.60" y2="284.44" stroke="#888" stroke-width="0.6"/>
<line x1="503.70" y1="278.24" x2="505.50" y2="278.24" stroke="#888" stroke-width="0.6"/>
<circle cx="504.60" cy="286.24" r="0.7" fill="#f4dcb0" opacity="0.7"/>
<rect x="506.90" y="344.80" width="3.20" height="1.30" fill="#d23a4c" opacity="0.45"/>
<rect x="510.10" y="344.80" width="4.00" height="1.30" fill="#0f4f22" opacity="0.45"/>
<text x="504.60" y="276.24" font-size="8.5" text-anchor="middle" fill="#111" letter-spacing="-0.6">**</text>
<text x="504.60" y="350.6" font-size="10" text-anchor="end" fill="#111" transform="rotate(-45 504.60 350.6)" dominant-baseline="hanging">Gain1</text>
<text x="531.50" y="241.49" font-size="10.3" text-anchor="start" fill="#111">CSC</text>
<text x="531.70" y="260.67" font-size="9.4" text-anchor="start" fill="#111">ChIP</text>
<line x1="554.70" y1="251.00" x2="554.70" y2="263.00" stroke="#999" stroke-width="0.8"/>
<rect x="557.30" y="250.40" width="8.60" height="3.00" fill="#4ab4e6"/>
<rect x="557.30" y="260.20" width="8.60" height="3.00" fill="#e8a031"/>
<text x="567.90" y="255.13" font-size="9.3" text-anchor="start" fill="#111">IgG</text>
<text x="567.90" y="265.63" font-size="9.3" text-anchor="start" fill="#111">RAD21</text>
<text x="597.90" y="260.59" font-size="9.2" text-anchor="start" fill="#111">ReChIP</text>
<line x1="632.00" y1="251.00" x2="632.00" y2="263.00" stroke="#999" stroke-width="0.8"/>
<rect x="634.60" y="250.40" width="8.60" height="3.00" fill="#d23a4c"/>
<rect x="634.60" y="260.20" width="8.60" height="3.00" fill="#0f4f22"/>
<text x="645.70" y="255.13" font-size="9.3" text-anchor="start" fill="#111">IgG</text>
<text x="645.70" y="265.63" font-size="9.3" text-anchor="start" fill="#111">CTCF</text>
<line x1="552.70" y1="270.40" x2="552.70" y2="346.50" stroke="#222" stroke-width="0.8"/>
<line x1="549.90" y1="346.10" x2="552.70" y2="346.10" stroke="#222" stroke-width="0.6"/>
<line x1="551.10" y1="338.58" x2="552.70" y2="338.58" stroke="#222" stroke-width="0.6"/>
<line x1="551.10" y1="331.06" x2="552.70" y2="331.06" stroke="#222" stroke-width="0.6"/>
<line x1="551.10" y1="323.54" x2="552.70" y2="323.54" stroke="#222" stroke-width="0.6"/>
<line x1="551.10" y1="316.02" x2="552.70" y2="316.02" stroke="#222" stroke-width="0.6"/>
<line x1="549.90" y1="308.50" x2="552.70" y2="308.50" stroke="#222" stroke-width="0.6"/>
<line x1="551.10" y1="300.98" x2="552.70" y2="300.98" stroke="#222" stroke-width="0.6"/>
<line x1="551.10" y1="293.46" x2="552.70" y2="293.46" stroke="#222" stroke-width="0.6"/>
<line x1="551.10" y1="285.94" x2="552.70" y2="285.94" stroke="#222" stroke-width="0.6"/>
<line x1="551.10" y1="278.42" x2="552.70" y2="278.42" stroke="#222" stroke-width="0.6"/>
<line x1="549.90" y1="270.90" x2="552.70" y2="270.90" stroke="#222" stroke-width="0.6"/>
<text x="549.20" y="274.12" font-size="9" text-anchor="end" fill="#111">10.0</text>
<text x="549.20" y="311.72" font-size="9" text-anchor="end" fill="#111">5.0</text>
<text x="549.20" y="349.32" font-size="9" text-anchor="end" fill="#111">0.0</text>
<text x="529.50" y="308.5" font-size="10.5" text-anchor="middle" fill="#111" transform="rotate(-90 529.50 308.5)" dominant-baseline="central">% of input</text>
<rect x="557.02" y="344.80" width="3.20" height="1.30" fill="#4ab4e6" opacity="0.45"/>
<rect x="560.52" y="344.80" width="4.00" height="1.30" fill="#e8a031" opacity="0.45"/>
<rect x="564.82" y="344.80" width="3.20" height="1.30" fill="#d23a4c" opacity="0.45"/>
<rect x="568.02" y="343.84" width="4.00" height="2.26" fill="#0f4f22"/>
<text x="562.52" y="350.6" font-size="10" text-anchor="end" fill="#111" transform="rotate(-45 562.52 350.6)" dominant-baseline="hanging">Ctrl</text>
<rect x="575.30" y="344.80" width="3.20" height="1.30" fill="#4ab4e6" opacity="0.45"/>
<rect x="578.80" y="302.48" width="4.00" height="43.62" fill="#e8a031"/>
<line x1="580.80" y1="297.55" x2="580.80" y2="302.48" stroke="#888" stroke-width="0.6"/>
<line x1="579.90" y1="297.55" x2="581.70" y2="297.55" stroke="#888" stroke-width="0.6"/>
<circle cx="580.80" cy="304.28" r="0.7" fill="#f4dcb0" opacity="0.7"/>
<rect x="583.10" y="344.80" width="3.20" height="1.30" fill="#d23a4c" opacity="0.45"/>
<rect x="586.30" y="308.50" width="4.00" height="37.60" fill="#0f4f22"/>
<line x1="588.30" y1="303.99" x2="588.30" y2="308.50" stroke="#888" stroke-width="0.6"/>
<line x1="587.40" y1="303.99" x2="589.20" y2="303.99" stroke="#888" stroke-width="0.6"/>
<circle cx="588.30" cy="310.30" r="0.7" fill="#f4dcb0" opacity="0.7"/>
<text x="580.80" y="295.55" font-size="8.5" text-anchor="middle" fill="#111" letter-spacing="-0.6">***</text>
<text x="588.30" y="301.99" font-size="8.5" text-anchor="middle" fill="#111" letter-spacing="-0.6">**</text>
<text x="580.80" y="350.6" font-size="10" text-anchor="end" fill="#111" transform="rotate(-45 580.80 350.6)" dominant-baseline="hanging">Cons1</text>
<rect x="593.58" y="343.84" width="3.20" height="2.26" fill="#4ab4e6"/>
<rect x="597.08" y="342.34" width="4.00" height="3.76" fill="#e8a031"/>
<rect x="601.38" y="344.80" width="3.20" height="1.30" fill="#d23a4c" opacity="0.45"/>
<rect x="604.58" y="342.34" width="4.00" height="3.76" fill="#0f4f22"/>
<text x="599.08" y="350.6" font-size="10" text-anchor="end" fill="#111" transform="rotate(-45 599.08 350.6)" dominant-baseline="hanging">Loss1</text>
<rect x="611.86" y="344.80" width="3.20" height="1.30" fill="#4ab4e6" opacity="0.45"/>
<rect x="615.36" y="343.09" width="4.00" height="3.01" fill="#e8a031"/>
<rect x="619.66" y="344.80" width="3.20" height="1.30" fill="#d23a4c" opacity="0.45"/>
<rect x="622.86" y="343.09" width="4.00" height="3.01" fill="#0f4f22"/>
<text x="617.36" y="350.6" font-size="10" text-anchor="end" fill="#111" transform="rotate(-45 617.36 350.6)" dominant-baseline="hanging">Loss2</text>
<rect x="630.14" y="344.80" width="3.20" height="1.30" fill="#4ab4e6" opacity="0.45"/>
<rect x="633.64" y="342.34" width="4.00" height="3.76" fill="#e8a031"/>
<rect x="637.94" y="344.80" width="3.20" height="1.30" fill="#d23a4c" opacity="0.45"/>
<rect x="641.14" y="343.84" width="4.00" height="2.26" fill="#0f4f22"/>
<text x="635.64" y="350.6" font-size="10" text-anchor="end" fill="#111" transform="rotate(-45 635.64 350.6)" dominant-baseline="hanging">Loss3</text>
<rect x="648.42" y="344.80" width="3.20" height="1.30" fill="#4ab4e6" opacity="0.45"/>
<rect x="651.92" y="343.84" width="4.00" height="2.26" fill="#e8a031"/>
<rect x="656.22" y="343.84" width="3.20" height="2.26" fill="#d23a4c"/>
<rect x="659.42" y="343.84" width="4.00" height="2.26" fill="#0f4f22"/>
<text x="653.92" y="350.6" font-size="10" text-anchor="end" fill="#111" transform="rotate(-45 653.92 350.6)" dominant-baseline="hanging">Loss4</text>
<rect x="666.70" y="344.80" width="3.20" height="1.30" fill="#4ab4e6" opacity="0.45"/>
<rect x="670.20" y="287.44" width="4.00" height="58.66" fill="#e8a031"/>
<line x1="672.20" y1="281.46" x2="672.20" y2="287.44" stroke="#888" stroke-width="0.6"/>
<line x1="671.30" y1="281.46" x2="673.10" y2="281.46" stroke="#888" stroke-width="0.6"/>
<circle cx="672.20" cy="289.24" r="0.7" fill="#f4dcb0" opacity="0.7"/>
<rect x="674.50" y="344.22" width="3.20" height="1.88" fill="#d23a4c"/>
<rect x="677.70" y="291.96" width="4.00" height="54.14" fill="#0f4f22"/>
<line x1="679.70" y1="286.29" x2="679.70" y2="291.96" stroke="#888" stroke-width="0.6"/>
<line x1="678.80" y1="286.29" x2="680.60" y2="286.29" stroke="#888" stroke-width="0.6"/>
<circle cx="679.70" cy="293.76" r="0.7" fill="#f4dcb0" opacity="0.7"/>
<text x="672.20" y="279.46" font-size="8.5" text-anchor="middle" fill="#111" letter-spacing="-0.6">**</text>
<text x="679.70" y="284.29" font-size="8.5" text-anchor="middle" fill="#111" letter-spacing="-0.6">**</text>
<text x="672.20" y="350.6" font-size="10" text-anchor="end" fill="#111" transform="rotate(-45 672.20 350.6)" dominant-baseline="hanging">Gain1</text>
<text x="0.00" y="394.00" font-size="14.5" text-anchor="start" fill="#111" font-weight="bold" stroke="#000" stroke-width="0.45">c</text>
<text x="76.00" y="394.72" font-size="10.4" text-anchor="middle" fill="#111">non-CSC</text>
<line x1="43.80" y1="398.60" x2="102.20" y2="398.60" stroke="#888" stroke-width="0.8"/>
<text x="143.30" y="394.72" font-size="10.4" text-anchor="middle" fill="#111">CSC</text>
<line x1="114.50" y1="398.60" x2="172.80" y2="398.60" stroke="#888" stroke-width="0.8"/>
<text x="56.50" y="410.22" font-size="10.4" text-anchor="middle" fill="#111">CTCF</text>
<text x="90.00" y="410.22" font-size="10.4" text-anchor="middle" fill="#111">RAD21</text>
<text x="127.00" y="410.22" font-size="10.4" text-anchor="middle" fill="#111">CTCF</text>
<text x="160.20" y="410.22" font-size="10.4" text-anchor="middle" fill="#111">RAD21</text>
<g clip-path="url(#hc1)">
<rect x="40.10" y="428.70" width="32.70" height="41.50" fill="#eff6f8"/>
<rect x="40.10" y="428.70" width="32.70" height="41.50" fill="#17999a" opacity="0.07"/>
<polygon points="40.10,426.7 72.80,426.7 67.08,472.2 45.82,472.2" fill="url(#hg1_0)" filter="url(#hbf3_5)"/>
<polygon points="47.46,426.7 65.44,426.7 61.36,472.2 51.55,472.2" fill="url(#hg1_1)" filter="url(#hbf2_5)"/>
</g>
<rect x="40.10" y="428.70" width="32.70" height="41.50" fill="none" stroke="#a0a0a0" stroke-width="0.7"/>
<path d="M40.10 428.70 L40.10 413.20 L72.80 413.20 L72.80 428.70" fill="none" stroke="#333" stroke-width="0.8"/>
<line x1="40.10" y1="428.50" x2="72.80" y2="428.50" stroke="#a5a5a5" stroke-width="1.3"/>
<line x1="39.20" y1="425.60" x2="40.10" y2="425.60" stroke="#555" stroke-width="0.4"/>
<line x1="39.20" y1="422.50" x2="40.10" y2="422.50" stroke="#555" stroke-width="0.4"/>
<line x1="39.20" y1="419.40" x2="40.10" y2="419.40" stroke="#555" stroke-width="0.4"/>
<line x1="39.20" y1="416.30" x2="40.10" y2="416.30" stroke="#555" stroke-width="0.4"/>
<line x1="56.45" y1="428.10" x2="56.45" y2="429.50" stroke="#555" stroke-width="0.4"/>
<polyline points="40.10,427.70 40.65,427.70 41.19,427.70 41.73,427.69 42.28,427.69 42.83,427.68 43.37,427.67 43.91,427.66 44.46,427.65 45.01,427.62 45.55,427.59 46.09,427.55 46.64,427.50 47.19,427.43 47.73,427.34 48.27,427.24 48.82,427.12 49.37,426.97 49.91,426.80 50.45,426.62 51.00,426.41 51.55,426.20 52.09,425.97 52.63,425.74 53.18,425.52 53.73,425.32 54.27,425.13 54.81,424.98 55.36,424.87 55.91,424.80 56.45,424.77 56.99,424.80 57.54,424.87 58.09,424.98 58.63,425.13 59.17,425.32 59.72,425.52 60.27,425.74 60.81,425.97 61.35,426.20 61.90,426.41 62.44,426.62 62.99,426.80 63.53,426.97 64.08,427.12 64.62,427.24 65.17,427.34 65.72,427.43 66.26,427.50 66.80,427.55 67.35,427.59 67.89,427.62 68.44,427.65 68.98,427.66 69.53,427.67 70.08,427.68 70.62,427.69 71.16,427.69 71.71,427.70 72.25,427.70 72.80,427.70" fill="none" stroke="#17999a" stroke-width="2.1" stroke-linejoin="round"/>
<g clip-path="url(#hc2)">
<rect x="73.20" y="428.70" width="33.20" height="41.50" fill="#eff6f8"/>
<rect x="73.20" y="428.70" width="33.20" height="41.50" fill="#17999a" opacity="0.15"/>
<polygon points="69.88,426.7 109.72,426.7 104.74,472.2 74.86,472.2" fill="url(#hg2_0)" filter="url(#hbf3_5)"/>
<polygon points="78.18,426.7 101.42,426.7 95.61,472.2 83.99,472.2" fill="url(#hg2_1)" filter="url(#hbf2_5)"/>
</g>
<rect x="73.20" y="428.70" width="33.20" height="41.50" fill="none" stroke="#a0a0a0" stroke-width="0.7"/>
<path d="M73.20 428.70 L73.20 413.20 L106.40 413.20 L106.40 428.70" fill="none" stroke="#333" stroke-width="0.8"/>
<line x1="73.20" y1="428.50" x2="106.40" y2="428.50" stroke="#a5a5a5" stroke-width="1.3"/>
<line x1="72.30" y1="425.60" x2="73.20" y2="425.60" stroke="#555" stroke-width="0.4"/>
<line x1="72.30" y1="422.50" x2="73.20" y2="422.50" stroke="#555" stroke-width="0.4"/>
<line x1="72.30" y1="419.40" x2="73.20" y2="419.40" stroke="#555" stroke-width="0.4"/>
<line x1="72.30" y1="416.30" x2="73.20" y2="416.30" stroke="#555" stroke-width="0.4"/>
<line x1="89.80" y1="428.10" x2="89.80" y2="429.50" stroke="#555" stroke-width="0.4"/>
<polyline points="73.20,427.70 73.75,427.70 74.31,427.70 74.86,427.70 75.41,427.70 75.97,427.69 76.52,427.69 77.07,427.68 77.63,427.67 78.18,427.65 78.73,427.63 79.29,427.58 79.84,427.52 80.39,427.43 80.95,427.31 81.50,427.15 82.05,426.93 82.61,426.65 83.16,426.30 83.71,425.88 84.27,425.38 84.82,424.81 85.37,424.19 85.93,423.53 86.48,422.86 87.03,422.21 87.59,421.61 88.14,421.10 88.69,420.71 89.25,420.47 89.80,420.38 90.35,420.47 90.91,420.71 91.46,421.10 92.01,421.61 92.57,422.21 93.12,422.86 93.67,423.53 94.23,424.19 94.78,424.81 95.33,425.38 95.89,425.88 96.44,426.30 96.99,426.65 97.55,426.93 98.10,427.15 98.65,427.31 99.21,427.43 99.76,427.52 100.31,427.58 100.87,427.63 101.42,427.65 101.97,427.67 102.53,427.68 103.08,427.69 103.63,427.69 104.19,427.70 104.74,427.70 105.29,427.70 105.85,427.70 106.40,427.70" fill="none" stroke="#17999a" stroke-width="2.1" stroke-linejoin="round"/>
<g clip-path="url(#hc3)">
<rect x="110.10" y="428.70" width="33.20" height="41.50" fill="#f7f4f6"/>
<rect x="110.10" y="428.70" width="33.20" height="41.50" fill="#f07c3e" opacity="0.06"/>
<polygon points="114.75,426.7 138.65,426.7 135.00,472.2 118.40,472.2" fill="url(#hg3_0)" filter="url(#hbf2_0)"/>
<polygon points="119.23,426.7 134.17,426.7 132.51,472.2 120.89,472.2" fill="url(#hg3_1)" filter="url(#hbf1_2)"/>
</g>
<rect x="110.10" y="428.70" width="33.20" height="41.50" fill="none" stroke="#a0a0a0" stroke-width="0.7"/>
<path d="M110.10 428.70 L110.10 413.20 L143.30 413.20 L143.30 428.70" fill="none" stroke="#333" stroke-width="0.8"/>
<line x1="110.10" y1="428.50" x2="143.30" y2="428.50" stroke="#a5a5a5" stroke-width="1.3"/>
<line x1="109.20" y1="425.60" x2="110.10" y2="425.60" stroke="#555" stroke-width="0.4"/>
<line x1="109.20" y1="422.50" x2="110.10" y2="422.50" stroke="#555" stroke-width="0.4"/>
<line x1="109.20" y1="419.40" x2="110.10" y2="419.40" stroke="#555" stroke-width="0.4"/>
<line x1="109.20" y1="416.30" x2="110.10" y2="416.30" stroke="#555" stroke-width="0.4"/>
<line x1="126.70" y1="428.10" x2="126.70" y2="429.50" stroke="#555" stroke-width="0.4"/>
<polyline points="110.10,427.70 110.65,427.70 111.21,427.70 111.76,427.70 112.31,427.70 112.87,427.70 113.42,427.70 113.97,427.70 114.53,427.70 115.08,427.70 115.63,427.70 116.19,427.69 116.74,427.69 117.29,427.67 117.85,427.65 118.40,427.60 118.95,427.51 119.51,427.36 120.06,427.12 120.61,426.74 121.17,426.18 121.72,425.41 122.27,424.38 122.83,423.11 123.38,421.61 123.93,419.97 124.49,418.30 125.04,416.76 125.59,415.51 126.15,414.69 126.70,414.40 127.25,414.69 127.81,415.51 128.36,416.76 128.91,418.30 129.47,419.97 130.02,421.61 130.57,423.11 131.13,424.38 131.68,425.41 132.23,426.18 132.79,426.74 133.34,427.12 133.89,427.36 134.45,427.51 135.00,427.60 135.55,427.65 136.11,427.67 136.66,427.69 137.21,427.69 137.77,427.70 138.32,427.70 138.87,427.70 139.43,427.70 139.98,427.70 140.53,427.70 141.09,427.70 141.64,427.70 142.19,427.70 142.75,427.70 143.30,427.70" fill="none" stroke="#f07c3e" stroke-width="2.1" stroke-linejoin="round"/>
<g clip-path="url(#hc4)">
<rect x="143.60" y="428.70" width="32.90" height="41.50" fill="#f7f4f6"/>
<rect x="143.60" y="428.70" width="32.90" height="41.50" fill="#f07c3e" opacity="0.03"/>
<polygon points="151.83,426.7 168.28,426.7 165.81,472.2 154.29,472.2" fill="url(#hg4_0)" filter="url(#hbf2_0)"/>
<polygon points="155.12,426.7 164.99,426.7 163.34,472.2 156.76,472.2" fill="url(#hg4_1)" filter="url(#hbf1_2)"/>
</g>
<rect x="143.60" y="428.70" width="32.90" height="41.50" fill="none" stroke="#a0a0a0" stroke-width="0.7"/>
<path d="M143.60 428.70 L143.60 413.20 L176.50 413.20 L176.50 428.70" fill="none" stroke="#333" stroke-width="0.8"/>
<line x1="143.60" y1="428.50" x2="176.50" y2="428.50" stroke="#a5a5a5" stroke-width="1.3"/>
<line x1="142.70" y1="425.60" x2="143.60" y2="425.60" stroke="#555" stroke-width="0.4"/>
<line x1="142.70" y1="422.50" x2="143.60" y2="422.50" stroke="#555" stroke-width="0.4"/>
<line x1="142.70" y1="419.40" x2="143.60" y2="419.40" stroke="#555" stroke-width="0.4"/>
<line x1="142.70" y1="416.30" x2="143.60" y2="416.30" stroke="#555" stroke-width="0.4"/>
<line x1="160.05" y1="428.10" x2="160.05" y2="429.50" stroke="#555" stroke-width="0.4"/>
<polyline points="143.60,427.70 144.15,427.70 144.70,427.70 145.25,427.70 145.79,427.70 146.34,427.70 146.89,427.70 147.44,427.70 147.99,427.70 148.53,427.70 149.08,427.70 149.63,427.70 150.18,427.70 150.73,427.69 151.28,427.68 151.82,427.67 152.37,427.64 152.92,427.60 153.47,427.52 154.02,427.41 154.57,427.24 155.12,427.01 155.66,426.71 156.21,426.32 156.76,425.87 157.31,425.38 157.86,424.88 158.41,424.42 158.95,424.04 159.50,423.80 160.05,423.71 160.60,423.80 161.15,424.04 161.69,424.42 162.24,424.88 162.79,425.38 163.34,425.87 163.89,426.32 164.44,426.71 164.98,427.01 165.53,427.24 166.08,427.41 166.63,427.52 167.18,427.60 167.73,427.64 168.28,427.67 168.82,427.68 169.37,427.69 169.92,427.70 170.47,427.70 171.02,427.70 171.56,427.70 172.11,427.70 172.66,427.70 173.21,427.70 173.76,427.70 174.31,427.70 174.85,427.70 175.40,427.70 175.95,427.70 176.50,427.70" fill="none" stroke="#f07c3e" stroke-width="2.1" stroke-linejoin="round"/>
<g clip-path="url(#hc5)">
<rect x="40.10" y="492.00" width="32.70" height="41.40" fill="#eff6f8"/>
<rect x="40.10" y="492.00" width="32.70" height="41.40" fill="#17999a" opacity="0.1"/>
<polygon points="38.47,490.0 74.44,490.0 64.62,535.4 48.28,535.4" fill="url(#hg5_0)" filter="url(#hbf3_5)"/>
<polygon points="47.46,490.0 65.44,490.0 59.72,535.4 53.18,535.4" fill="url(#hg5_1)" filter="url(#hbf2_5)"/>
</g>
<rect x="40.10" y="492.00" width="32.70" height="41.40" fill="none" stroke="#a0a0a0" stroke-width="0.7"/>
<path d="M40.10 492.00 L40.10 475.40 L72.80 475.40 L72.80 492.00" fill="none" stroke="#333" stroke-width="0.8"/>
<line x1="40.10" y1="491.80" x2="72.80" y2="491.80" stroke="#a5a5a5" stroke-width="1.3"/>
<line x1="39.20" y1="488.68" x2="40.10" y2="488.68" stroke="#555" stroke-width="0.4"/>
<line x1="39.20" y1="485.36" x2="40.10" y2="485.36" stroke="#555" stroke-width="0.4"/>
<line x1="39.20" y1="482.04" x2="40.10" y2="482.04" stroke="#555" stroke-width="0.4"/>
<line x1="39.20" y1="478.72" x2="40.10" y2="478.72" stroke="#555" stroke-width="0.4"/>
<line x1="56.45" y1="491.40" x2="56.45" y2="492.80" stroke="#555" stroke-width="0.4"/>
<polyline points="40.10,491.00 40.65,491.00 41.19,490.99 41.73,490.99 42.28,490.98 42.83,490.97 43.37,490.96 43.91,490.94 44.46,490.92 45.01,490.88 45.55,490.84 46.09,490.78 46.64,490.70 47.19,490.60 47.73,490.47 48.27,490.32 48.82,490.14 49.37,489.92 49.91,489.68 50.45,489.40 51.00,489.10 51.55,488.78 52.09,488.45 52.63,488.11 53.18,487.79 53.73,487.48 54.27,487.21 54.81,486.99 55.36,486.82 55.91,486.72 56.45,486.68 56.99,486.72 57.54,486.82 58.09,486.99 58.63,487.21 59.17,487.48 59.72,487.79 60.27,488.11 60.81,488.45 61.35,488.78 61.90,489.10 62.44,489.40 62.99,489.68 63.53,489.92 64.08,490.14 64.62,490.32 65.17,490.47 65.72,490.60 66.26,490.70 66.80,490.78 67.35,490.84 67.89,490.88 68.44,490.92 68.98,490.94 69.53,490.96 70.08,490.97 70.62,490.98 71.16,490.99 71.71,490.99 72.25,491.00 72.80,491.00" fill="none" stroke="#17999a" stroke-width="2.1" stroke-linejoin="round"/>
<g clip-path="url(#hc6)">
<rect x="73.20" y="492.00" width="33.20" height="41.40" fill="#eff6f8"/>
<rect x="73.20" y="492.00" width="33.20" height="41.40" fill="#17999a" opacity="0.1"/>
<polygon points="74.86,490.0 104.74,490.0 96.44,535.4 83.16,535.4" fill="url(#hg6_0)" filter="url(#hbf3_5)"/>
<polygon points="83.16,490.0 96.44,490.0 93.12,535.4 86.48,535.4" fill="url(#hg6_1)" filter="url(#hbf2_0)"/>
</g>
<rect x="73.20" y="492.00" width="33.20" height="41.40" fill="none" stroke="#a0a0a0" stroke-width="0.7"/>
<path d="M73.20 492.00 L73.20 475.40 L106.40 475.40 L106.40 492.00" fill="none" stroke="#333" stroke-width="0.8"/>
<line x1="73.20" y1="491.80" x2="106.40" y2="491.80" stroke="#a5a5a5" stroke-width="1.3"/>
<line x1="72.30" y1="488.68" x2="73.20" y2="488.68" stroke="#555" stroke-width="0.4"/>
<line x1="72.30" y1="485.36" x2="73.20" y2="485.36" stroke="#555" stroke-width="0.4"/>
<line x1="72.30" y1="482.04" x2="73.20" y2="482.04" stroke="#555" stroke-width="0.4"/>
<line x1="72.30" y1="478.72" x2="73.20" y2="478.72" stroke="#555" stroke-width="0.4"/>
<line x1="89.80" y1="491.40" x2="89.80" y2="492.80" stroke="#555" stroke-width="0.4"/>
<polyline points="73.20,491.00 73.75,491.00 74.31,491.00 74.86,491.00 75.41,490.99 75.97,490.99 76.52,490.98 77.07,490.97 77.63,490.96 78.18,490.94 78.73,490.91 79.29,490.87 79.84,490.81 80.39,490.73 80.95,490.63 81.50,490.51 82.05,490.35 82.61,490.15 83.16,489.92 83.71,489.66 84.27,489.35 84.82,489.02 85.37,488.67 85.93,488.31 86.48,487.95 87.03,487.61 87.59,487.30 88.14,487.04 88.69,486.84 89.25,486.72 89.80,486.68 90.35,486.72 90.91,486.84 91.46,487.04 92.01,487.30 92.57,487.61 93.12,487.95 93.67,488.31 94.23,488.67 94.78,489.02 95.33,489.35 95.89,489.66 96.44,489.92 96.99,490.15 97.55,490.35 98.10,490.51 98.65,490.63 99.21,490.73 99.76,490.81 100.31,490.87 100.87,490.91 101.42,490.94 101.97,490.96 102.53,490.97 103.08,490.98 103.63,490.99 104.19,490.99 104.74,491.00 105.29,491.00 105.85,491.00 106.40,491.00" fill="none" stroke="#17999a" stroke-width="2.1" stroke-linejoin="round"/>
<g clip-path="url(#hc7)">
<rect x="110.10" y="492.00" width="33.20" height="41.40" fill="#f7f4f6"/>
<rect x="110.10" y="492.00" width="33.20" height="41.40" fill="#f07c3e" opacity="0.06"/>
<polygon points="112.59,490.0 140.81,490.0 133.34,535.4 120.06,535.4" fill="url(#hg7_0)" filter="url(#hbf3_0)"/>
<polygon points="118.40,490.0 135.00,490.0 130.85,535.4 122.55,535.4" fill="url(#hg7_1)" filter="url(#hbf2_0)"/>
</g>
<rect x="110.10" y="492.00" width="33.20" height="41.40" fill="none" stroke="#a0a0a0" stroke-width="0.7"/>
<path d="M110.10 492.00 L110.10 475.40 L143.30 475.40 L143.30 492.00" fill="none" stroke="#333" stroke-width="0.8"/>
<line x1="110.10" y1="491.80" x2="143.30" y2="491.80" stroke="#a5a5a5" stroke-width="1.3"/>
<line x1="109.20" y1="488.68" x2="110.10" y2="488.68" stroke="#555" stroke-width="0.4"/>
<line x1="109.20" y1="485.36" x2="110.10" y2="485.36" stroke="#555" stroke-width="0.4"/>
<line x1="109.20" y1="482.04" x2="110.10" y2="482.04" stroke="#555" stroke-width="0.4"/>
<line x1="109.20" y1="478.72" x2="110.10" y2="478.72" stroke="#555" stroke-width="0.4"/>
<line x1="126.70" y1="491.40" x2="126.70" y2="492.80" stroke="#555" stroke-width="0.4"/>
<polyline points="110.10,491.00 110.65,491.00 111.21,491.00 111.76,491.00 112.31,491.00 112.87,491.00 113.42,491.00 113.97,491.00 114.53,491.00 115.08,490.99 115.63,490.99 116.19,490.97 116.74,490.95 117.29,490.90 117.85,490.83 118.40,490.71 118.95,490.53 119.51,490.25 120.06,489.84 120.61,489.28 121.17,488.54 121.72,487.59 122.27,486.43 122.83,485.10 123.38,483.62 123.93,482.09 124.49,480.60 125.04,479.28 125.59,478.23 126.15,477.55 126.70,477.32 127.25,477.55 127.81,478.23 128.36,479.28 128.91,480.60 129.47,482.09 130.02,483.62 130.57,485.10 131.13,486.43 131.68,487.59 132.23,488.54 132.79,489.28 133.34,489.84 133.89,490.25 134.45,490.53 135.00,490.71 135.55,490.83 136.11,490.90 136.66,490.95 137.21,490.97 137.77,490.99 138.32,490.99 138.87,491.00 139.43,491.00 139.98,491.00 140.53,491.00 141.09,491.00 141.64,491.00 142.19,491.00 142.75,491.00 143.30,491.00" fill="none" stroke="#f07c3e" stroke-width="2.1" stroke-linejoin="round"/>
<g clip-path="url(#hc8)">
<rect x="143.60" y="492.00" width="32.90" height="41.40" fill="#f7f4f6"/>
<polygon points="154.29,490.0 165.81,490.0 163.34,535.4 156.76,535.4" fill="url(#hg8_0)" filter="url(#hbf2_5)"/>
</g>
<rect x="143.60" y="492.00" width="32.90" height="41.40" fill="none" stroke="#a0a0a0" stroke-width="0.7"/>
<path d="M143.60 492.00 L143.60 475.40 L176.50 475.40 L176.50 492.00" fill="none" stroke="#333" stroke-width="0.8"/>
<line x1="143.60" y1="491.80" x2="176.50" y2="491.80" stroke="#a5a5a5" stroke-width="1.3"/>
<line x1="142.70" y1="488.68" x2="143.60" y2="488.68" stroke="#555" stroke-width="0.4"/>
<line x1="142.70" y1="485.36" x2="143.60" y2="485.36" stroke="#555" stroke-width="0.4"/>
<line x1="142.70" y1="482.04" x2="143.60" y2="482.04" stroke="#555" stroke-width="0.4"/>
<line x1="142.70" y1="478.72" x2="143.60" y2="478.72" stroke="#555" stroke-width="0.4"/>
<line x1="160.05" y1="491.40" x2="160.05" y2="492.80" stroke="#555" stroke-width="0.4"/>
<polyline points="143.60,490.97 144.15,490.96 144.70,490.95 145.25,490.94 145.79,490.93 146.34,490.92 146.89,490.90 147.44,490.89 147.99,490.87 148.53,490.84 149.08,490.82 149.63,490.79 150.18,490.77 150.73,490.74 151.28,490.70 151.82,490.67 152.37,490.64 152.92,490.60 153.47,490.56 154.02,490.53 154.57,490.49 155.12,490.46 155.66,490.42 156.21,490.39 156.76,490.36 157.31,490.34 157.86,490.32 158.41,490.30 158.95,490.29 159.50,490.28 160.05,490.28 160.60,490.28 161.15,490.29 161.69,490.30 162.24,490.32 162.79,490.34 163.34,490.36 163.89,490.39 164.44,490.42 164.98,490.46 165.53,490.49 166.08,490.53 166.63,490.56 167.18,490.60 167.73,490.64 168.28,490.67 168.82,490.70 169.37,490.74 169.92,490.77 170.47,490.79 171.02,490.82 171.56,490.84 172.11,490.87 172.66,490.89 173.21,490.90 173.76,490.92 174.31,490.93 174.85,490.94 175.40,490.95 175.95,490.96 176.50,490.97" fill="none" stroke="#f07c3e" stroke-width="2.1" stroke-linejoin="round"/>
<g clip-path="url(#hc9)">
<rect x="40.10" y="554.10" width="32.70" height="41.50" fill="#eff6f8"/>
<rect x="40.10" y="554.10" width="32.70" height="41.50" fill="#17999a" opacity="0.04"/>
<polygon points="48.28,552.1 64.62,552.1 61.36,597.6 51.55,597.6" fill="url(#hg9_0)" filter="url(#hbf3_0)"/>
</g>
<rect x="40.10" y="554.10" width="32.70" height="41.50" fill="none" stroke="#a0a0a0" stroke-width="0.7"/>
<path d="M40.10 554.10 L40.10 538.20 L72.80 538.20 L72.80 554.10" fill="none" stroke="#333" stroke-width="0.8"/>
<line x1="40.10" y1="553.90" x2="72.80" y2="553.90" stroke="#a5a5a5" stroke-width="1.3"/>
<line x1="39.20" y1="550.92" x2="40.10" y2="550.92" stroke="#555" stroke-width="0.4"/>
<line x1="39.20" y1="547.74" x2="40.10" y2="547.74" stroke="#555" stroke-width="0.4"/>
<line x1="39.20" y1="544.56" x2="40.10" y2="544.56" stroke="#555" stroke-width="0.4"/>
<line x1="39.20" y1="541.38" x2="40.10" y2="541.38" stroke="#555" stroke-width="0.4"/>
<line x1="56.45" y1="553.50" x2="56.45" y2="554.90" stroke="#555" stroke-width="0.4"/>
<polyline points="40.10,553.06 40.65,553.06 41.19,553.05 41.73,553.03 42.28,553.02 42.83,553.01 43.37,552.99 43.91,552.97 44.46,552.95 45.01,552.92 45.55,552.90 46.09,552.87 46.64,552.83 47.19,552.80 47.73,552.76 48.27,552.72 48.82,552.68 49.37,552.64 49.91,552.60 50.45,552.56 51.00,552.52 51.55,552.48 52.09,552.44 52.63,552.41 53.18,552.37 53.73,552.35 54.27,552.32 54.81,552.30 55.36,552.29 55.91,552.28 56.45,552.28 56.99,552.28 57.54,552.29 58.09,552.30 58.63,552.32 59.17,552.35 59.72,552.37 60.27,552.41 60.81,552.44 61.35,552.48 61.90,552.52 62.44,552.56 62.99,552.60 63.53,552.64 64.08,552.68 64.62,552.72 65.17,552.76 65.72,552.80 66.26,552.83 66.80,552.87 67.35,552.90 67.89,552.92 68.44,552.95 68.98,552.97 69.53,552.99 70.08,553.01 70.62,553.02 71.16,553.03 71.71,553.05 72.25,553.06 72.80,553.06" fill="none" stroke="#17999a" stroke-width="2.1" stroke-linejoin="round"/>
<g clip-path="url(#hc10)">
<rect x="73.20" y="554.10" width="33.20" height="41.50" fill="#eff6f8"/>
<rect x="73.20" y="554.10" width="33.20" height="41.50" fill="#17999a" opacity="0.1"/>
<polygon points="73.20,552.1 106.40,552.1 98.10,597.6 81.50,597.6" fill="url(#hg10_0)" filter="url(#hbf3_5)"/>
<polygon points="81.50,552.1 98.10,552.1 93.12,597.6 86.48,597.6" fill="url(#hg10_1)" filter="url(#hbf2_0)"/>
</g>
<rect x="73.20" y="554.10" width="33.20" height="41.50" fill="none" stroke="#a0a0a0" stroke-width="0.7"/>
<path d="M73.20 554.10 L73.20 538.20 L106.40 538.20 L106.40 554.10" fill="none" stroke="#333" stroke-width="0.8"/>
<line x1="73.20" y1="553.90" x2="106.40" y2="553.90" stroke="#a5a5a5" stroke-width="1.3"/>
<line x1="72.30" y1="550.92" x2="73.20" y2="550.92" stroke="#555" stroke-width="0.4"/>
<line x1="72.30" y1="547.74" x2="73.20" y2="547.74" stroke="#555" stroke-width="0.4"/>
<line x1="72.30" y1="544.56" x2="73.20" y2="544.56" stroke="#555" stroke-width="0.4"/>
<line x1="72.30" y1="541.38" x2="73.20" y2="541.38" stroke="#555" stroke-width="0.4"/>
<line x1="89.80" y1="553.50" x2="89.80" y2="554.90" stroke="#555" stroke-width="0.4"/>
<polyline points="73.20,553.10 73.75,553.10 74.31,553.10 74.86,553.10 75.41,553.10 75.97,553.10 76.52,553.10 77.07,553.10 77.63,553.09 78.18,553.09 78.73,553.08 79.29,553.06 79.84,553.04 80.39,553.00 80.95,552.94 81.50,552.85 82.05,552.72 82.61,552.55 83.16,552.32 83.71,552.03 84.27,551.67 84.82,551.23 85.37,550.73 85.93,550.19 86.48,549.61 87.03,549.03 87.59,548.49 88.14,548.02 88.69,547.66 89.25,547.43 89.80,547.35 90.35,547.43 90.91,547.66 91.46,548.02 92.01,548.49 92.57,549.03 93.12,549.61 93.67,550.19 94.23,550.73 94.78,551.23 95.33,551.67 95.89,552.03 96.44,552.32 96.99,552.55 97.55,552.72 98.10,552.85 98.65,552.94 99.21,553.00 99.76,553.04 100.31,553.06 100.87,553.08 101.42,553.09 101.97,553.09 102.53,553.10 103.08,553.10 103.63,553.10 104.19,553.10 104.74,553.10 105.29,553.10 105.85,553.10 106.40,553.10" fill="none" stroke="#17999a" stroke-width="2.1" stroke-linejoin="round"/>
<g clip-path="url(#hc11)">
<rect x="110.10" y="554.10" width="33.20" height="41.50" fill="#f7f4f6"/>
<rect x="110.10" y="554.10" width="33.20" height="41.50" fill="#f07c3e" opacity="0.05"/>
<polygon points="118.40,552.1 135.00,552.1 133.34,597.6 120.06,597.6" fill="url(#hg11_0)" filter="url(#hbf2_0)"/>
<polygon points="121.72,552.1 131.68,552.1 130.85,597.6 122.55,597.6" fill="url(#hg11_1)" filter="url(#hbf1_2)"/>
</g>
<rect x="110.10" y="554.10" width="33.20" height="41.50" fill="none" stroke="#a0a0a0" stroke-width="0.7"/>
<path d="M110.10 554.10 L110.10 538.20 L143.30 538.20 L143.30 554.10" fill="none" stroke="#333" stroke-width="0.8"/>
<line x1="110.10" y1="553.90" x2="143.30" y2="553.90" stroke="#a5a5a5" stroke-width="1.3"/>
<line x1="109.20" y1="550.92" x2="110.10" y2="550.92" stroke="#555" stroke-width="0.4"/>
<line x1="109.20" y1="547.74" x2="110.10" y2="547.74" stroke="#555" stroke-width="0.4"/>
<line x1="109.20" y1="544.56" x2="110.10" y2="544.56" stroke="#555" stroke-width="0.4"/>
<line x1="109.20" y1="541.38" x2="110.10" y2="541.38" stroke="#555" stroke-width="0.4"/>
<line x1="126.70" y1="553.50" x2="126.70" y2="554.90" stroke="#555" stroke-width="0.4"/>
<polyline points="110.10,553.10 110.65,553.10 111.21,553.10 111.76,553.10 112.31,553.10 112.87,553.10 113.42,553.10 113.97,553.10 114.53,553.10 115.08,553.10 115.63,553.10 116.19,553.10 116.74,553.10 117.29,553.10 117.85,553.09 118.40,553.08 118.95,553.05 119.51,552.99 120.06,552.87 120.61,552.66 121.17,552.30 121.72,551.72 122.27,550.87 122.83,549.68 123.38,548.16 123.93,546.36 124.49,544.40 125.04,542.48 125.59,540.87 126.15,539.78 126.70,539.40 127.25,539.78 127.81,540.87 128.36,542.48 128.91,544.40 129.47,546.36 130.02,548.16 130.57,549.68 131.13,550.87 131.68,551.72 132.23,552.30 132.79,552.66 133.34,552.87 133.89,552.99 134.45,553.05 135.00,553.08 135.55,553.09 136.11,553.10 136.66,553.10 137.21,553.10 137.77,553.10 138.32,553.10 138.87,553.10 139.43,553.10 139.98,553.10 140.53,553.10 141.09,553.10 141.64,553.10 142.19,553.10 142.75,553.10 143.30,553.10" fill="none" stroke="#f07c3e" stroke-width="2.1" stroke-linejoin="round"/>
<g clip-path="url(#hc12)">
<rect x="143.60" y="554.10" width="32.90" height="41.50" fill="#f7f4f6"/>
<rect x="143.60" y="554.10" width="32.90" height="41.50" fill="#f07c3e" opacity="0.03"/>
<polygon points="153.47,552.1 166.63,552.1 164.99,597.6 155.12,597.6" fill="url(#hg12_0)" filter="url(#hbf2_0)"/>
<polygon points="155.94,552.1 164.16,552.1 163.34,597.6 156.76,597.6" fill="url(#hg12_1)" filter="url(#hbf1_2)"/>
</g>
<rect x="143.60" y="554.10" width="32.90" height="41.50" fill="none" stroke="#a0a0a0" stroke-width="0.7"/>
<path d="M143.60 554.10 L143.60 538.20 L176.50 538.20 L176.50 554.10" fill="none" stroke="#333" stroke-width="0.8"/>
<line x1="143.60" y1="553.90" x2="176.50" y2="553.90" stroke="#a5a5a5" stroke-width="1.3"/>
<line x1="142.70" y1="550.92" x2="143.60" y2="550.92" stroke="#555" stroke-width="0.4"/>
<line x1="142.70" y1="547.74" x2="143.60" y2="547.74" stroke="#555" stroke-width="0.4"/>
<line x1="142.70" y1="544.56" x2="143.60" y2="544.56" stroke="#555" stroke-width="0.4"/>
<line x1="142.70" y1="541.38" x2="143.60" y2="541.38" stroke="#555" stroke-width="0.4"/>
<line x1="160.05" y1="553.50" x2="160.05" y2="554.90" stroke="#555" stroke-width="0.4"/>
<polyline points="143.60,553.10 144.15,553.10 144.70,553.10 145.25,553.10 145.79,553.10 146.34,553.10 146.89,553.10 147.44,553.10 147.99,553.10 148.53,553.10 149.08,553.10 149.63,553.10 150.18,553.10 150.73,553.10 151.28,553.10 151.82,553.09 152.37,553.08 152.92,553.05 153.47,553.00 154.02,552.90 154.57,552.74 155.12,552.48 155.66,552.10 156.21,551.56 156.76,550.88 157.31,550.06 157.86,549.18 158.41,548.32 158.95,547.60 159.50,547.11 160.05,546.94 160.60,547.11 161.15,547.60 161.69,548.32 162.24,549.18 162.79,550.06 163.34,550.88 163.89,551.56 164.44,552.10 164.98,552.48 165.53,552.74 166.08,552.90 166.63,553.00 167.18,553.05 167.73,553.08 168.28,553.09 168.82,553.10 169.37,553.10 169.92,553.10 170.47,553.10 171.02,553.10 171.56,553.10 172.11,553.10 172.66,553.10 173.21,553.10 173.76,553.10 174.31,553.10 174.85,553.10 175.40,553.10 175.95,553.10 176.50,553.10" fill="none" stroke="#f07c3e" stroke-width="2.1" stroke-linejoin="round"/>
<text x="38.20" y="418.52" font-size="9" text-anchor="end" fill="#111">80</text>
<text x="38.20" y="432.72" font-size="9" text-anchor="end" fill="#111">0</text>
<text x="38.20" y="480.82" font-size="9" text-anchor="end" fill="#111">30</text>
<text x="38.20" y="494.72" font-size="9" text-anchor="end" fill="#111">0</text>
<text x="38.20" y="543.22" font-size="9" text-anchor="end" fill="#111">30</text>
<text x="38.20" y="556.22" font-size="9" text-anchor="end" fill="#111">0</text>
<text x="12.00" y="445.00" font-size="10.35" text-anchor="middle" fill="#111" transform="rotate(-90 12.00 445.00)" dominant-baseline="central">Consensus hubs</text>
<text x="22.70" y="442.00" font-size="10.3" text-anchor="middle" fill="#111" transform="rotate(-90 22.70 442.00)" dominant-baseline="central">(n=18364)</text>
<text x="12.00" y="515.40" font-size="10.3" text-anchor="middle" fill="#111" transform="rotate(-90 12.00 515.40)" dominant-baseline="central">Loss hubs</text>
<text x="22.70" y="514.90" font-size="10.3" text-anchor="middle" fill="#111" transform="rotate(-90 22.70 514.90)" dominant-baseline="central">(n=11282)</text>
<text x="12.00" y="572.40" font-size="10.3" text-anchor="middle" fill="#111" transform="rotate(-90 12.00 572.40)" dominant-baseline="central">Gain hubs</text>
<text x="22.70" y="573.50" font-size="10.3" text-anchor="middle" fill="#111" transform="rotate(-90 22.70 573.50)" dominant-baseline="central">(n=1967)</text>
<text x="37.30" y="606.38" font-size="10" text-anchor="middle" fill="#111">-0.5</text>
<text x="62.80" y="606.38" font-size="10" text-anchor="start" fill="#111">0.5 kb</text>
<rect x="151.80" y="605.60" width="24.80" height="2.90" fill="url(#cbT)"/>
<rect x="151.80" y="609.40" width="24.80" height="2.90" fill="url(#cbO)"/>
<text x="153.40" y="605.61" font-size="7" text-anchor="middle" fill="#111">0</text>
<text x="173.50" y="605.61" font-size="7" text-anchor="middle" fill="#111">10</text>
<text x="189.00" y="394.00" font-size="14.5" text-anchor="start" fill="#111" font-weight="bold" stroke="#000" stroke-width="0.45">d</text>
<text x="272.50" y="394.72" font-size="10.4" text-anchor="middle" fill="#111">H3K27ac</text>
<line x1="240.50" y1="398.60" x2="298.30" y2="398.60" stroke="#888" stroke-width="0.8"/>
<text x="251.20" y="410.26" font-size="10.5" text-anchor="middle" fill="#111">non-CSC</text>
<text x="287.80" y="410.26" font-size="10.5" text-anchor="middle" fill="#111">CSC</text>
<g clip-path="url(#hc13)">
<rect x="235.00" y="428.70" width="33.30" height="41.50" fill="#eff6f8"/>
<rect x="235.00" y="428.70" width="33.30" height="41.50" fill="#17999a" opacity="0.06"/>
<polygon points="231.67,426.7 271.63,426.7 253.31,472.2 249.99,472.2" fill="url(#hg13_0)" filter="url(#hbf3_5)"/>
<polygon points="240.00,426.7 263.31,426.7 252.48,472.2 250.82,472.2" fill="url(#hg13_1)" filter="url(#hbf2_0)"/>
</g>
<rect x="235.00" y="428.70" width="33.30" height="41.50" fill="none" stroke="#a0a0a0" stroke-width="0.7"/>
<path d="M235.00 428.70 L235.00 413.20 L268.30 413.20 L268.30 428.70" fill="none" stroke="#333" stroke-width="0.8"/>
<line x1="235.00" y1="428.50" x2="268.30" y2="428.50" stroke="#a5a5a5" stroke-width="1.3"/>
<line x1="234.10" y1="425.60" x2="235.00" y2="425.60" stroke="#555" stroke-width="0.4"/>
<line x1="234.10" y1="422.50" x2="235.00" y2="422.50" stroke="#555" stroke-width="0.4"/>
<line x1="234.10" y1="419.40" x2="235.00" y2="419.40" stroke="#555" stroke-width="0.4"/>
<line x1="234.10" y1="416.30" x2="235.00" y2="416.30" stroke="#555" stroke-width="0.4"/>
<line x1="251.65" y1="428.10" x2="251.65" y2="429.50" stroke="#555" stroke-width="0.4"/>
<polyline points="235.00,425.87 235.56,425.76 236.11,425.64 236.66,425.51 237.22,425.36 237.78,425.21 238.33,425.04 238.88,424.85 239.44,424.65 240.00,424.43 240.55,424.18 241.10,423.91 241.66,423.61 242.22,423.28 242.77,422.91 243.32,422.51 243.88,422.07 244.44,421.58 244.99,421.05 245.55,420.47 246.10,419.85 246.66,419.19 247.21,418.49 247.77,417.78 248.32,417.06 248.88,416.37 249.43,415.73 249.99,415.18 250.54,414.76 251.09,414.49 251.65,414.40 252.21,414.49 252.76,414.76 253.31,415.18 253.87,415.73 254.43,416.37 254.98,417.06 255.53,417.78 256.09,418.49 256.64,419.19 257.20,419.85 257.75,420.47 258.31,421.05 258.87,421.58 259.42,422.07 259.98,422.51 260.53,422.91 261.09,423.28 261.64,423.61 262.19,423.91 262.75,424.18 263.31,424.43 263.86,424.65 264.42,424.85 264.97,425.04 265.53,425.21 266.08,425.36 266.63,425.51 267.19,425.64 267.75,425.76 268.30,425.87" fill="none" stroke="#17999a" stroke-width="2.1" stroke-linejoin="round"/>
<g clip-path="url(#hc14)">
<rect x="271.10" y="428.70" width="33.20" height="41.50" fill="#f7f4f6"/>
<rect x="271.10" y="428.70" width="33.20" height="41.50" fill="#f07c3e" opacity="0.04"/>
<polygon points="267.78,426.7 307.62,426.7 289.36,472.2 286.04,472.2" fill="url(#hg14_0)" filter="url(#hbf3_5)"/>
<polygon points="277.74,426.7 297.66,426.7 288.53,472.2 286.87,472.2" fill="url(#hg14_1)" filter="url(#hbf2_0)"/>
</g>
<rect x="271.10" y="428.70" width="33.20" height="41.50" fill="none" stroke="#a0a0a0" stroke-width="0.7"/>
<path d="M271.10 428.70 L271.10 413.20 L304.30 413.20 L304.30 428.70" fill="none" stroke="#333" stroke-width="0.8"/>
<line x1="271.10" y1="428.50" x2="304.30" y2="428.50" stroke="#a5a5a5" stroke-width="1.3"/>
<line x1="270.20" y1="425.60" x2="271.10" y2="425.60" stroke="#555" stroke-width="0.4"/>
<line x1="270.20" y1="422.50" x2="271.10" y2="422.50" stroke="#555" stroke-width="0.4"/>
<line x1="270.20" y1="419.40" x2="271.10" y2="419.40" stroke="#555" stroke-width="0.4"/>
<line x1="270.20" y1="416.30" x2="271.10" y2="416.30" stroke="#555" stroke-width="0.4"/>
<line x1="287.70" y1="428.10" x2="287.70" y2="429.50" stroke="#555" stroke-width="0.4"/>
<polyline points="271.10,426.51 271.65,426.44 272.21,426.36 272.76,426.27 273.31,426.18 273.87,426.08 274.42,425.97 274.97,425.85 275.53,425.72 276.08,425.57 276.63,425.41 277.19,425.23 277.74,425.04 278.29,424.82 278.85,424.59 279.40,424.33 279.95,424.04 280.51,423.72 281.06,423.38 281.61,423.00 282.17,422.60 282.72,422.17 283.27,421.71 283.83,421.25 284.38,420.78 284.93,420.33 285.49,419.92 286.04,419.56 286.59,419.29 287.15,419.11 287.70,419.06 288.25,419.11 288.81,419.29 289.36,419.56 289.91,419.92 290.47,420.33 291.02,420.78 291.57,421.25 292.13,421.71 292.68,422.17 293.23,422.60 293.79,423.00 294.34,423.38 294.89,423.72 295.45,424.04 296.00,424.33 296.55,424.59 297.11,424.82 297.66,425.04 298.21,425.23 298.77,425.41 299.32,425.57 299.87,425.72 300.43,425.85 300.98,425.97 301.53,426.08 302.09,426.18 302.64,426.27 303.19,426.36 303.75,426.44 304.30,426.51" fill="none" stroke="#f07c3e" stroke-width="2.1" stroke-linejoin="round"/>
<g clip-path="url(#hc15)">
<rect x="235.00" y="492.00" width="33.30" height="41.40" fill="#eff6f8"/>
<rect x="235.00" y="492.00" width="33.30" height="41.40" fill="#17999a" opacity="0.09"/>
<polygon points="236.66,490.0 266.63,490.0 256.64,535.4 246.66,535.4" fill="url(#hg15_0)" filter="url(#hbf3_5)"/>
<polygon points="247.49,490.0 255.81,490.0 253.65,535.4 249.65,535.4" fill="url(#hg15_1)" filter="url(#hbf1_5)"/>
</g>
<rect x="235.00" y="492.00" width="33.30" height="41.40" fill="none" stroke="#a0a0a0" stroke-width="0.7"/>
<path d="M235.00 492.00 L235.00 475.40 L268.30 475.40 L268.30 492.00" fill="none" stroke="#333" stroke-width="0.8"/>
<line x1="235.00" y1="491.80" x2="268.30" y2="491.80" stroke="#a5a5a5" stroke-width="1.3"/>
<line x1="234.10" y1="488.68" x2="235.00" y2="488.68" stroke="#555" stroke-width="0.4"/>
<line x1="234.10" y1="485.36" x2="235.00" y2="485.36" stroke="#555" stroke-width="0.4"/>
<line x1="234.10" y1="482.04" x2="235.00" y2="482.04" stroke="#555" stroke-width="0.4"/>
<line x1="234.10" y1="478.72" x2="235.00" y2="478.72" stroke="#555" stroke-width="0.4"/>
<line x1="251.65" y1="491.40" x2="251.65" y2="492.80" stroke="#555" stroke-width="0.4"/>
<polyline points="235.00,487.86 235.56,487.83 236.11,487.80 236.66,487.76 237.22,487.72 237.78,487.68 238.33,487.63 238.88,487.58 239.44,487.52 240.00,487.45 240.55,487.37 241.10,487.28 241.66,487.18 242.22,487.07 242.77,486.94 243.32,486.78 243.88,486.61 244.44,486.40 244.99,486.16 245.55,485.87 246.10,485.53 246.66,485.14 247.21,484.68 247.77,484.14 248.32,483.52 248.88,482.84 249.43,482.11 249.99,481.40 250.54,480.78 251.09,480.35 251.65,480.20 252.21,480.35 252.76,480.78 253.31,481.40 253.87,482.11 254.43,482.84 254.98,483.52 255.53,484.14 256.09,484.68 256.64,485.14 257.20,485.53 257.75,485.87 258.31,486.16 258.87,486.40 259.42,486.61 259.98,486.78 260.53,486.94 261.09,487.07 261.64,487.18 262.19,487.28 262.75,487.37 263.31,487.45 263.86,487.52 264.42,487.58 264.97,487.63 265.53,487.68 266.08,487.72 266.63,487.76 267.19,487.80 267.75,487.83 268.30,487.86" fill="none" stroke="#17999a" stroke-width="2.1" stroke-linejoin="round"/>
<g clip-path="url(#hc16)">
<rect x="271.10" y="492.00" width="33.20" height="41.40" fill="#f7f4f6"/>
<rect x="271.10" y="492.00" width="33.20" height="41.40" fill="#f07c3e" opacity="0.04"/>
<polygon points="271.10,490.0 304.30,490.0 296.00,535.4 279.40,535.4" fill="url(#hg16_0)" filter="url(#hbf3_5)"/>
</g>
<rect x="271.10" y="492.00" width="33.20" height="41.40" fill="none" stroke="#a0a0a0" stroke-width="0.7"/>
<path d="M271.10 492.00 L271.10 475.40 L304.30 475.40 L304.30 492.00" fill="none" stroke="#333" stroke-width="0.8"/>
<line x1="271.10" y1="491.80" x2="304.30" y2="491.80" stroke="#a5a5a5" stroke-width="1.3"/>
<line x1="270.20" y1="488.68" x2="271.10" y2="488.68" stroke="#555" stroke-width="0.4"/>
<line x1="270.20" y1="485.36" x2="271.10" y2="485.36" stroke="#555" stroke-width="0.4"/>
<line x1="270.20" y1="482.04" x2="271.10" y2="482.04" stroke="#555" stroke-width="0.4"/>
<line x1="270.20" y1="478.72" x2="271.10" y2="478.72" stroke="#555" stroke-width="0.4"/>
<line x1="287.70" y1="491.40" x2="287.70" y2="492.80" stroke="#555" stroke-width="0.4"/>
<polyline points="271.10,490.96 271.65,490.95 272.21,490.93 272.76,490.92 273.31,490.90 273.87,490.88 274.42,490.86 274.97,490.84 275.53,490.81 276.08,490.78 276.63,490.75 277.19,490.71 277.74,490.67 278.29,490.63 278.85,490.59 279.40,490.54 279.95,490.49 280.51,490.44 281.06,490.39 281.61,490.34 282.17,490.29 282.72,490.24 283.27,490.19 283.83,490.15 284.38,490.11 284.93,490.08 285.49,490.05 286.04,490.02 286.59,490.01 287.15,490.00 287.70,489.99 288.25,490.00 288.81,490.01 289.36,490.02 289.91,490.05 290.47,490.08 291.02,490.11 291.57,490.15 292.13,490.19 292.68,490.24 293.23,490.29 293.79,490.34 294.34,490.39 294.89,490.44 295.45,490.49 296.00,490.54 296.55,490.59 297.11,490.63 297.66,490.67 298.21,490.71 298.77,490.75 299.32,490.78 299.87,490.81 300.43,490.84 300.98,490.86 301.53,490.88 302.09,490.90 302.64,490.92 303.19,490.93 303.75,490.95 304.30,490.96" fill="none" stroke="#f07c3e" stroke-width="2.1" stroke-linejoin="round"/>
<g clip-path="url(#hc17)">
<rect x="235.00" y="554.10" width="33.30" height="41.50" fill="#eff6f8"/>
<rect x="235.00" y="554.10" width="33.30" height="41.50" fill="#17999a" opacity="0.09"/>
<polygon points="235.00,552.1 268.30,552.1 259.98,597.6 243.32,597.6" fill="url(#hg17_0)" filter="url(#hbf3_5)"/>
<polygon points="249.15,552.1 254.15,552.1 252.98,597.6 250.32,597.6" fill="url(#hg17_1)" filter="url(#hbf1_5)"/>
</g>
<rect x="235.00" y="554.10" width="33.30" height="41.50" fill="none" stroke="#a0a0a0" stroke-width="0.7"/>
<path d="M235.00 554.10 L235.00 538.20 L268.30 538.20 L268.30 554.10" fill="none" stroke="#333" stroke-width="0.8"/>
<line x1="235.00" y1="553.90" x2="268.30" y2="553.90" stroke="#a5a5a5" stroke-width="1.3"/>
<line x1="234.10" y1="550.92" x2="235.00" y2="550.92" stroke="#555" stroke-width="0.4"/>
<line x1="234.10" y1="547.74" x2="235.00" y2="547.74" stroke="#555" stroke-width="0.4"/>
<line x1="234.10" y1="544.56" x2="235.00" y2="544.56" stroke="#555" stroke-width="0.4"/>
<line x1="234.10" y1="541.38" x2="235.00" y2="541.38" stroke="#555" stroke-width="0.4"/>
<line x1="251.65" y1="553.50" x2="251.65" y2="554.90" stroke="#555" stroke-width="0.4"/>
<polyline points="235.00,553.04 235.56,553.03 236.11,553.01 236.66,552.99 237.22,552.97 237.78,552.94 238.33,552.91 238.88,552.88 239.44,552.84 240.00,552.80 240.55,552.76 241.10,552.71 241.66,552.66 242.22,552.60 242.77,552.54 243.32,552.47 243.88,552.41 244.44,552.34 244.99,552.27 245.55,552.20 246.10,552.13 246.66,552.07 247.21,552.00 247.77,551.94 248.32,551.89 248.88,551.84 249.43,551.80 249.99,551.77 250.54,551.75 251.09,551.73 251.65,551.73 252.21,551.73 252.76,551.75 253.31,551.77 253.87,551.80 254.43,551.84 254.98,551.89 255.53,551.94 256.09,552.00 256.64,552.07 257.20,552.13 257.75,552.20 258.31,552.27 258.87,552.34 259.42,552.41 259.98,552.47 260.53,552.54 261.09,552.60 261.64,552.66 262.19,552.71 262.75,552.76 263.31,552.80 263.86,552.84 264.42,552.88 264.97,552.91 265.53,552.94 266.08,552.97 266.63,552.99 267.19,553.01 267.75,553.03 268.30,553.04" fill="none" stroke="#17999a" stroke-width="2.1" stroke-linejoin="round"/>
<g clip-path="url(#hc18)">
<rect x="271.10" y="554.10" width="33.20" height="41.50" fill="#f7f4f6"/>
<rect x="271.10" y="554.10" width="33.20" height="41.50" fill="#f07c3e" opacity="0.05"/>
<polygon points="276.08,552.1 299.32,552.1 290.19,597.6 285.21,597.6" fill="url(#hg18_0)" filter="url(#hbf3_0)"/>
<polygon points="282.72,552.1 292.68,552.1 289.36,597.6 286.04,597.6" fill="url(#hg18_1)" filter="url(#hbf1_5)"/>
</g>
<rect x="271.10" y="554.10" width="33.20" height="41.50" fill="none" stroke="#a0a0a0" stroke-width="0.7"/>
<path d="M271.10 554.10 L271.10 538.20 L304.30 538.20 L304.30 554.10" fill="none" stroke="#333" stroke-width="0.8"/>
<line x1="271.10" y1="553.90" x2="304.30" y2="553.90" stroke="#a5a5a5" stroke-width="1.3"/>
<line x1="270.20" y1="550.92" x2="271.10" y2="550.92" stroke="#555" stroke-width="0.4"/>
<line x1="270.20" y1="547.74" x2="271.10" y2="547.74" stroke="#555" stroke-width="0.4"/>
<line x1="270.20" y1="544.56" x2="271.10" y2="544.56" stroke="#555" stroke-width="0.4"/>
<line x1="270.20" y1="541.38" x2="271.10" y2="541.38" stroke="#555" stroke-width="0.4"/>
<line x1="287.70" y1="553.50" x2="287.70" y2="554.90" stroke="#555" stroke-width="0.4"/>
<polyline points="271.10,552.35 271.65,552.30 272.21,552.25 272.76,552.19 273.31,552.12 273.87,552.05 274.42,551.97 274.97,551.88 275.53,551.77 276.08,551.66 276.63,551.53 277.19,551.38 277.74,551.21 278.29,551.02 278.85,550.79 279.40,550.53 279.95,550.23 280.51,549.88 281.06,549.47 281.61,548.99 282.17,548.42 282.72,547.75 283.27,546.97 283.83,546.06 284.38,545.01 284.93,543.86 285.49,542.63 286.04,541.43 286.59,540.38 287.15,539.66 287.70,539.40 288.25,539.66 288.81,540.38 289.36,541.43 289.91,542.63 290.47,543.86 291.02,545.01 291.57,546.06 292.13,546.97 292.68,547.75 293.23,548.42 293.79,548.99 294.34,549.47 294.89,549.88 295.45,550.23 296.00,550.53 296.55,550.79 297.11,551.02 297.66,551.21 298.21,551.38 298.77,551.53 299.32,551.66 299.87,551.77 300.43,551.88 300.98,551.97 301.53,552.05 302.09,552.12 302.64,552.19 303.19,552.25 303.75,552.30 304.30,552.35" fill="none" stroke="#f07c3e" stroke-width="2.1" stroke-linejoin="round"/>
<text x="233.80" y="420.72" font-size="9" text-anchor="end" fill="#111">10.0</text>
<text x="233.80" y="432.72" font-size="9" text-anchor="end" fill="#111">0.0</text>
<text x="233.80" y="480.42" font-size="9" text-anchor="end" fill="#111">1.0</text>
<text x="233.80" y="494.52" font-size="9" text-anchor="end" fill="#111">0</text>
<text x="233.80" y="541.82" font-size="9" text-anchor="end" fill="#111">1.5</text>
<text x="233.80" y="555.32" font-size="9" text-anchor="end" fill="#111">0</text>
<text x="201.80" y="439.50" font-size="10.3" text-anchor="middle" fill="#111" transform="rotate(-90 201.80 439.50)" dominant-baseline="central">Consensus peaks</text>
<text x="214.30" y="439.00" font-size="10.2" text-anchor="middle" fill="#111" transform="rotate(-90 214.30 439.00)" dominant-baseline="central">(n=48621)</text>
<text x="201.80" y="514.00" font-size="10.3" text-anchor="middle" fill="#111" transform="rotate(-90 201.80 514.00)" dominant-baseline="central">Loss peaks</text>
<text x="214.30" y="513.60" font-size="10.2" text-anchor="middle" fill="#111" transform="rotate(-90 214.30 513.60)" dominant-baseline="central">(n=27031)</text>
<text x="201.80" y="576.20" font-size="10.3" text-anchor="middle" fill="#111" transform="rotate(-90 201.80 576.20)" dominant-baseline="central">Gain peaks</text>
<text x="214.00" y="576.60" font-size="10.2" text-anchor="middle" fill="#111" transform="rotate(-90 214.00 576.60)" dominant-baseline="central">(n=15540)</text>
<text x="234.00" y="606.38" font-size="10" text-anchor="middle" fill="#111">-2.0</text>
<text x="252.70" y="606.38" font-size="10" text-anchor="start" fill="#111">2.0 kb</text>
<rect x="284.30" y="605.60" width="20.40" height="2.90" fill="url(#cbT)"/>
<rect x="284.30" y="609.40" width="20.40" height="2.90" fill="url(#cbO)"/>
<text x="286.00" y="605.61" font-size="7" text-anchor="middle" fill="#111">0</text>
<text x="302.60" y="605.61" font-size="7" text-anchor="middle" fill="#111">2</text>
<text x="315.40" y="394.00" font-size="14.5" text-anchor="start" fill="#111" font-weight="bold" stroke="#000" stroke-width="0.45">e</text>
<text x="392.30" y="394.71" font-size="10.35" text-anchor="middle" fill="#111">Accessible Chromatin</text>
<line x1="364.90" y1="398.60" x2="423.30" y2="398.60" stroke="#888" stroke-width="0.8"/>
<text x="377.00" y="410.26" font-size="10.5" text-anchor="middle" fill="#111">non-CSC</text>
<text x="411.80" y="410.26" font-size="10.5" text-anchor="middle" fill="#111">CSC</text>
<g clip-path="url(#hc19)">
<rect x="359.40" y="428.70" width="33.60" height="41.50" fill="#eff6f8"/>
<rect x="359.40" y="428.70" width="33.60" height="41.50" fill="#17999a" opacity="0.05"/>
<polygon points="361.08,426.7 391.32,426.7 380.40,472.2 372.00,472.2" fill="url(#hg19_0)" filter="url(#hbf3_0)"/>
<polygon points="368.64,426.7 383.76,426.7 378.72,472.2 373.68,472.2" fill="url(#hg19_1)" filter="url(#hbf1_2)"/>
</g>
<rect x="359.40" y="428.70" width="33.60" height="41.50" fill="none" stroke="#a0a0a0" stroke-width="0.7"/>
<path d="M359.40 428.70 L359.40 413.20 L393.00 413.20 L393.00 428.70" fill="none" stroke="#333" stroke-width="0.8"/>
<line x1="359.40" y1="428.50" x2="393.00" y2="428.50" stroke="#a5a5a5" stroke-width="1.3"/>
<line x1="358.50" y1="425.60" x2="359.40" y2="425.60" stroke="#555" stroke-width="0.4"/>
<line x1="358.50" y1="422.50" x2="359.40" y2="422.50" stroke="#555" stroke-width="0.4"/>
<line x1="358.50" y1="419.40" x2="359.40" y2="419.40" stroke="#555" stroke-width="0.4"/>
<line x1="358.50" y1="416.30" x2="359.40" y2="416.30" stroke="#555" stroke-width="0.4"/>
<line x1="376.20" y1="428.10" x2="376.20" y2="429.50" stroke="#555" stroke-width="0.4"/>
<polyline points="359.40,427.54 359.96,427.53 360.52,427.52 361.08,427.50 361.64,427.49 362.20,427.47 362.76,427.45 363.32,427.43 363.88,427.41 364.44,427.38 365.00,427.35 365.56,427.31 366.12,427.27 366.68,427.22 367.24,427.16 367.80,427.09 368.36,427.00 368.92,426.89 369.48,426.76 370.04,426.60 370.60,426.39 371.16,426.12 371.72,425.77 372.28,425.28 372.84,424.61 373.40,423.66 373.96,422.31 374.52,420.42 375.08,417.97 375.64,415.52 376.20,414.40 376.76,415.52 377.32,417.97 377.88,420.42 378.44,422.31 379.00,423.66 379.56,424.61 380.12,425.28 380.68,425.77 381.24,426.12 381.80,426.39 382.36,426.60 382.92,426.76 383.48,426.89 384.04,427.00 384.60,427.09 385.16,427.16 385.72,427.22 386.28,427.27 386.84,427.31 387.40,427.35 387.96,427.38 388.52,427.41 389.08,427.43 389.64,427.45 390.20,427.47 390.76,427.49 391.32,427.50 391.88,427.52 392.44,427.53 393.00,427.54" fill="none" stroke="#17999a" stroke-width="2.1" stroke-linejoin="round"/>
<g clip-path="url(#hc20)">
<rect x="396.70" y="428.70" width="33.30" height="41.50" fill="#f7f4f6"/>
<rect x="396.70" y="428.70" width="33.30" height="41.50" fill="#f07c3e" opacity="0.03"/>
<polygon points="396.70,426.7 430.00,426.7 418.35,472.2 408.36,472.2" fill="url(#hg20_0)" filter="url(#hbf3_0)"/>
<polygon points="404.19,426.7 422.51,426.7 416.35,472.2 410.35,472.2" fill="url(#hg20_1)" filter="url(#hbf1_2)"/>
</g>
<rect x="396.70" y="428.70" width="33.30" height="41.50" fill="none" stroke="#a0a0a0" stroke-width="0.7"/>
<path d="M396.70 428.70 L396.70 413.20 L430.00 413.20 L430.00 428.70" fill="none" stroke="#333" stroke-width="0.8"/>
<line x1="396.70" y1="428.50" x2="430.00" y2="428.50" stroke="#a5a5a5" stroke-width="1.3"/>
<line x1="395.80" y1="425.60" x2="396.70" y2="425.60" stroke="#555" stroke-width="0.4"/>
<line x1="395.80" y1="422.50" x2="396.70" y2="422.50" stroke="#555" stroke-width="0.4"/>
<line x1="395.80" y1="419.40" x2="396.70" y2="419.40" stroke="#555" stroke-width="0.4"/>
<line x1="395.80" y1="416.30" x2="396.70" y2="416.30" stroke="#555" stroke-width="0.4"/>
<line x1="413.35" y1="428.10" x2="413.35" y2="429.50" stroke="#555" stroke-width="0.4"/>
<polyline points="396.70,427.56 397.25,427.55 397.81,427.54 398.37,427.53 398.92,427.51 399.47,427.50 400.03,427.48 400.58,427.46 401.14,427.44 401.69,427.42 402.25,427.39 402.81,427.35 403.36,427.32 403.91,427.27 404.47,427.22 405.02,427.16 405.58,427.08 406.13,426.99 406.69,426.88 407.25,426.73 407.80,426.56 408.36,426.32 408.91,426.02 409.46,425.61 410.02,425.06 410.57,424.29 411.13,423.24 411.69,421.81 412.24,420.08 412.80,418.44 413.35,417.72 413.90,418.44 414.46,420.08 415.01,421.81 415.57,423.24 416.12,424.29 416.68,425.06 417.24,425.61 417.79,426.02 418.34,426.32 418.90,426.56 419.45,426.73 420.01,426.88 420.56,426.99 421.12,427.08 421.68,427.16 422.23,427.22 422.79,427.27 423.34,427.32 423.89,427.35 424.45,427.39 425.00,427.42 425.56,427.44 426.12,427.46 426.67,427.48 427.23,427.50 427.78,427.51 428.33,427.53 428.89,427.54 429.44,427.55 430.00,427.56" fill="none" stroke="#f07c3e" stroke-width="2.1" stroke-linejoin="round"/>
<g clip-path="url(#hc21)">
<rect x="359.40" y="492.00" width="33.60" height="41.40" fill="#eff6f8"/>
<rect x="359.40" y="492.00" width="33.60" height="41.40" fill="#17999a" opacity="0.06"/>
<polygon points="367.80,490.0 384.60,490.0 380.40,535.4 372.00,535.4" fill="url(#hg21_0)" filter="url(#hbf2_5)"/>
<polygon points="371.83,490.0 380.57,490.0 378.72,535.4 373.68,535.4" fill="url(#hg21_1)" filter="url(#hbf1_0)"/>
</g>
<rect x="359.40" y="492.00" width="33.60" height="41.40" fill="none" stroke="#a0a0a0" stroke-width="0.7"/>
<path d="M359.40 492.00 L359.40 475.40 L393.00 475.40 L393.00 492.00" fill="none" stroke="#333" stroke-width="0.8"/>
<line x1="359.40" y1="491.80" x2="393.00" y2="491.80" stroke="#a5a5a5" stroke-width="1.3"/>
<line x1="358.50" y1="488.68" x2="359.40" y2="488.68" stroke="#555" stroke-width="0.4"/>
<line x1="358.50" y1="485.36" x2="359.40" y2="485.36" stroke="#555" stroke-width="0.4"/>
<line x1="358.50" y1="482.04" x2="359.40" y2="482.04" stroke="#555" stroke-width="0.4"/>
<line x1="358.50" y1="478.72" x2="359.40" y2="478.72" stroke="#555" stroke-width="0.4"/>
<line x1="376.20" y1="491.40" x2="376.20" y2="492.80" stroke="#555" stroke-width="0.4"/>
<polyline points="359.40,490.88 359.96,490.88 360.52,490.87 361.08,490.86 361.64,490.85 362.20,490.83 362.76,490.82 363.32,490.80 363.88,490.79 364.44,490.77 365.00,490.74 365.56,490.71 366.12,490.68 366.68,490.65 367.24,490.60 367.80,490.55 368.36,490.48 368.92,490.40 369.48,490.31 370.04,490.18 370.60,490.02 371.16,489.81 371.72,489.53 372.28,489.14 372.84,488.58 373.40,487.75 373.96,486.49 374.52,484.56 375.08,481.70 375.64,478.34 376.20,476.60 376.76,478.34 377.32,481.70 377.88,484.56 378.44,486.49 379.00,487.75 379.56,488.58 380.12,489.14 380.68,489.53 381.24,489.81 381.80,490.02 382.36,490.18 382.92,490.31 383.48,490.40 384.04,490.48 384.60,490.55 385.16,490.60 385.72,490.65 386.28,490.68 386.84,490.71 387.40,490.74 387.96,490.77 388.52,490.79 389.08,490.80 389.64,490.82 390.20,490.83 390.76,490.85 391.32,490.86 391.88,490.87 392.44,490.88 393.00,490.88" fill="none" stroke="#17999a" stroke-width="2.1" stroke-linejoin="round"/>
<g clip-path="url(#hc22)">
<rect x="396.70" y="492.00" width="33.30" height="41.40" fill="#f7f4f6"/>
<rect x="396.70" y="492.00" width="33.30" height="41.40" fill="#f07c3e" opacity="0.03"/>
<polygon points="408.36,490.0 418.35,490.0 416.68,535.4 410.02,535.4" fill="url(#hg22_0)" filter="url(#hbf2_0)"/>
<polygon points="411.35,490.0 415.35,490.0 414.68,535.4 412.02,535.4" fill="url(#hg22_1)" filter="url(#hbf1_0)"/>
</g>
<rect x="396.70" y="492.00" width="33.30" height="41.40" fill="none" stroke="#a0a0a0" stroke-width="0.7"/>
<path d="M396.70 492.00 L396.70 475.40 L430.00 475.40 L430.00 492.00" fill="none" stroke="#333" stroke-width="0.8"/>
<line x1="396.70" y1="491.80" x2="430.00" y2="491.80" stroke="#a5a5a5" stroke-width="1.3"/>
<line x1="395.80" y1="488.68" x2="396.70" y2="488.68" stroke="#555" stroke-width="0.4"/>
<line x1="395.80" y1="485.36" x2="396.70" y2="485.36" stroke="#555" stroke-width="0.4"/>
<line x1="395.80" y1="482.04" x2="396.70" y2="482.04" stroke="#555" stroke-width="0.4"/>
<line x1="395.80" y1="478.72" x2="396.70" y2="478.72" stroke="#555" stroke-width="0.4"/>
<line x1="413.35" y1="491.40" x2="413.35" y2="492.80" stroke="#555" stroke-width="0.4"/>
<polyline points="396.70,490.96 397.25,490.96 397.81,490.96 398.37,490.95 398.92,490.95 399.47,490.95 400.03,490.94 400.58,490.94 401.14,490.93 401.69,490.93 402.25,490.92 402.81,490.91 403.36,490.90 403.91,490.89 404.47,490.88 405.02,490.86 405.58,490.84 406.13,490.82 406.69,490.79 407.25,490.75 407.80,490.70 408.36,490.64 408.91,490.56 409.46,490.46 410.02,490.31 410.57,490.12 411.13,489.84 411.69,489.47 412.24,489.02 412.80,488.59 413.35,488.41 413.90,488.59 414.46,489.02 415.01,489.47 415.57,489.84 416.12,490.12 416.68,490.31 417.24,490.46 417.79,490.56 418.34,490.64 418.90,490.70 419.45,490.75 420.01,490.79 420.56,490.82 421.12,490.84 421.68,490.86 422.23,490.88 422.79,490.89 423.34,490.90 423.89,490.91 424.45,490.92 425.00,490.93 425.56,490.93 426.12,490.94 426.67,490.94 427.23,490.95 427.78,490.95 428.33,490.95 428.89,490.96 429.44,490.96 430.00,490.96" fill="none" stroke="#f07c3e" stroke-width="2.1" stroke-linejoin="round"/>
<g clip-path="url(#hc23)">
<rect x="359.40" y="554.10" width="33.60" height="41.50" fill="#eff6f8"/>
<rect x="359.40" y="554.10" width="33.60" height="41.50" fill="#17999a" opacity="0.05"/>
<polygon points="369.48,552.1 382.92,552.1 380.40,597.6 372.00,597.6" fill="url(#hg23_0)" filter="url(#hbf2_5)"/>
<polygon points="372.84,552.1 379.56,552.1 377.88,597.6 374.52,597.6" fill="url(#hg23_1)" filter="url(#hbf1_0)"/>
</g>
<rect x="359.40" y="554.10" width="33.60" height="41.50" fill="none" stroke="#a0a0a0" stroke-width="0.7"/>
<path d="M359.40 554.10 L359.40 538.20 L393.00 538.20 L393.00 554.10" fill="none" stroke="#333" stroke-width="0.8"/>
<line x1="359.40" y1="553.90" x2="393.00" y2="553.90" stroke="#a5a5a5" stroke-width="1.3"/>
<line x1="358.50" y1="550.92" x2="359.40" y2="550.92" stroke="#555" stroke-width="0.4"/>
<line x1="358.50" y1="547.74" x2="359.40" y2="547.74" stroke="#555" stroke-width="0.4"/>
<line x1="358.50" y1="544.56" x2="359.40" y2="544.56" stroke="#555" stroke-width="0.4"/>
<line x1="358.50" y1="541.38" x2="359.40" y2="541.38" stroke="#555" stroke-width="0.4"/>
<line x1="376.20" y1="553.50" x2="376.20" y2="554.90" stroke="#555" stroke-width="0.4"/>
<polyline points="359.40,553.07 359.96,553.07 360.52,553.07 361.08,553.07 361.64,553.07 362.20,553.06 362.76,553.06 363.32,553.06 363.88,553.05 364.44,553.05 365.00,553.04 365.56,553.04 366.12,553.03 366.68,553.02 367.24,553.01 367.80,553.00 368.36,552.99 368.92,552.97 369.48,552.95 370.04,552.93 370.60,552.90 371.16,552.85 371.72,552.80 372.28,552.73 372.84,552.63 373.40,552.49 373.96,552.30 374.52,552.05 375.08,551.74 375.64,551.45 376.20,551.32 376.76,551.45 377.32,551.74 377.88,552.05 378.44,552.30 379.00,552.49 379.56,552.63 380.12,552.73 380.68,552.80 381.24,552.85 381.80,552.90 382.36,552.93 382.92,552.95 383.48,552.97 384.04,552.99 384.60,553.00 385.16,553.01 385.72,553.02 386.28,553.03 386.84,553.04 387.40,553.04 387.96,553.05 388.52,553.05 389.08,553.06 389.64,553.06 390.20,553.06 390.76,553.07 391.32,553.07 391.88,553.07 392.44,553.07 393.00,553.07" fill="none" stroke="#17999a" stroke-width="2.1" stroke-linejoin="round"/>
<g clip-path="url(#hc24)">
<rect x="396.70" y="554.10" width="33.30" height="41.50" fill="#f7f4f6"/>
<rect x="396.70" y="554.10" width="33.30" height="41.50" fill="#f07c3e" opacity="0.03"/>
<polygon points="403.36,552.1 423.34,552.1 417.51,597.6 409.19,597.6" fill="url(#hg24_0)" filter="url(#hbf2_5)"/>
<polygon points="406.69,552.1 420.01,552.1 415.85,597.6 410.85,597.6" fill="url(#hg24_1)" filter="url(#hbf1_2)"/>
</g>
<rect x="396.70" y="554.10" width="33.30" height="41.50" fill="none" stroke="#a0a0a0" stroke-width="0.7"/>
<path d="M396.70 554.10 L396.70 538.20 L430.00 538.20 L430.00 554.10" fill="none" stroke="#333" stroke-width="0.8"/>
<line x1="396.70" y1="553.90" x2="430.00" y2="553.90" stroke="#a5a5a5" stroke-width="1.3"/>
<line x1="395.80" y1="550.92" x2="396.70" y2="550.92" stroke="#555" stroke-width="0.4"/>
<line x1="395.80" y1="547.74" x2="396.70" y2="547.74" stroke="#555" stroke-width="0.4"/>
<line x1="395.80" y1="544.56" x2="396.70" y2="544.56" stroke="#555" stroke-width="0.4"/>
<line x1="395.80" y1="541.38" x2="396.70" y2="541.38" stroke="#555" stroke-width="0.4"/>
<line x1="413.35" y1="553.50" x2="413.35" y2="554.90" stroke="#555" stroke-width="0.4"/>
<polyline points="396.70,552.87 397.25,552.86 397.81,552.84 398.37,552.82 398.92,552.80 399.47,552.77 400.03,552.75 400.58,552.72 401.14,552.68 401.69,552.64 402.25,552.60 402.81,552.55 403.36,552.49 403.91,552.42 404.47,552.33 405.02,552.23 405.58,552.11 406.13,551.97 406.69,551.79 407.25,551.57 407.80,551.29 408.36,550.93 408.91,550.47 409.46,549.85 410.02,549.03 410.57,547.92 411.13,546.42 411.69,544.49 412.24,542.25 412.80,540.25 413.35,539.40 413.90,540.25 414.46,542.25 415.01,544.49 415.57,546.42 416.12,547.92 416.68,549.03 417.24,549.85 417.79,550.47 418.34,550.93 418.90,551.29 419.45,551.57 420.01,551.79 420.56,551.97 421.12,552.11 421.68,552.23 422.23,552.33 422.79,552.42 423.34,552.49 423.89,552.55 424.45,552.60 425.00,552.64 425.56,552.68 426.12,552.72 426.67,552.75 427.23,552.77 427.78,552.80 428.33,552.82 428.89,552.84 429.44,552.86 430.00,552.87" fill="none" stroke="#f07c3e" stroke-width="2.1" stroke-linejoin="round"/>
<text x="358.00" y="417.72" font-size="9" text-anchor="end" fill="#111">60</text>
<text x="358.00" y="432.02" font-size="9" text-anchor="end" fill="#111">0</text>
<text x="358.00" y="480.92" font-size="9" text-anchor="end" fill="#111">10</text>
<text x="358.00" y="494.52" font-size="9" text-anchor="end" fill="#111">0</text>
<text x="358.00" y="548.12" font-size="9" text-anchor="end" fill="#111">5</text>
<text x="358.00" y="556.62" font-size="9" text-anchor="end" fill="#111">0</text>
<text x="330.40" y="438.50" font-size="10.2" text-anchor="middle" fill="#111" transform="rotate(-90 330.40 438.50)" dominant-baseline="central">Consensus peaks</text>
<text x="343.40" y="439.00" font-size="10.2" text-anchor="middle" fill="#111" transform="rotate(-90 343.40 439.00)" dominant-baseline="central">(n=72842)</text>
<text x="330.40" y="513.80" font-size="10.2" text-anchor="middle" fill="#111" transform="rotate(-90 330.40 513.80)" dominant-baseline="central">Loss peaks</text>
<text x="343.40" y="512.30" font-size="10.2" text-anchor="middle" fill="#111" transform="rotate(-90 343.40 512.30)" dominant-baseline="central">(n=9974)</text>
<text x="330.40" y="575.20" font-size="10.2" text-anchor="middle" fill="#111" transform="rotate(-90 330.40 575.20)" dominant-baseline="central">Gain peaks</text>
<text x="343.40" y="575.20" font-size="10.2" text-anchor="middle" fill="#111" transform="rotate(-90 343.40 575.20)" dominant-baseline="central">(n=32572)</text>
<text x="358.20" y="606.38" font-size="10" text-anchor="middle" fill="#111">-1.0</text>
<text x="380.00" y="606.38" font-size="10" text-anchor="start" fill="#111">1.0 kb</text>
<rect x="409.90" y="605.60" width="19.80" height="2.90" fill="url(#cbT)"/>
<rect x="409.90" y="609.40" width="19.80" height="2.90" fill="url(#cbO)"/>
<text x="411.60" y="605.61" font-size="7" text-anchor="middle" fill="#111">0</text>
<text x="427.80" y="605.61" font-size="7" text-anchor="middle" fill="#111">2</text>
<text x="473.50" y="402.96" font-size="10.5" text-anchor="middle" fill="#111">Motif</text>
<text x="541.00" y="402.96" font-size="10.5" text-anchor="middle" fill="#111">Best Match</text>
<text x="610.00" y="402.98" font-size="10.55" text-anchor="middle" fill="#111">% of Targets</text>
<text x="667.60" y="402.96" font-size="10.5" text-anchor="middle" fill="#111">P-value</text>
<text x="443.0" y="420.12" font-size="9.8" font-weight="bold" textLength="57.8" lengthAdjust="spacingAndGlyphs"><tspan fill="#3db43d">A</tspan><tspan fill="#e02a2a">T</tspan><tspan fill="#f5a623">G</tspan><tspan fill="#3db43d">A</tspan><tspan fill="#2438e0">C</tspan><tspan fill="#e02a2a">T</tspan><tspan fill="#2438e0">C</tspan><tspan fill="#3db43d">A</tspan><tspan fill="#e02a2a">T</tspan><tspan fill="#2438e0">C</tspan></text>
<text x="541.00" y="420.90" font-size="9.5" text-anchor="middle" fill="#111">FOSL2::JUNB</text>
<text x="609.80" y="420.90" font-size="9.5" text-anchor="middle" fill="#111">33.28%</text>
<text x="667.40" y="420.90" font-size="9.5" text-anchor="middle" fill="#111">1e-9160</text>
<text x="443.0" y="432.42" font-size="9.8" font-weight="bold" textLength="57.8" lengthAdjust="spacingAndGlyphs"><tspan fill="#f5a623">G</tspan><tspan fill="#2438e0">C</tspan><tspan fill="#2438e0">C</tspan><tspan fill="#f5a623">G</tspan><tspan fill="#2438e0">C</tspan><tspan fill="#2438e0">C</tspan><tspan fill="#e02a2a">T</tspan><tspan fill="#3db43d">A</tspan><tspan fill="#f5a623">G</tspan><tspan fill="#e02a2a">T</tspan><tspan fill="#f5a623">G</tspan><tspan fill="#f5a623">G</tspan></text>
<text x="541.00" y="433.20" font-size="9.5" text-anchor="middle" fill="#111">CTCFL</text>
<text x="609.80" y="433.20" font-size="9.5" text-anchor="middle" fill="#111">16.58%</text>
<text x="667.40" y="433.20" font-size="9.5" text-anchor="middle" fill="#111">1e-3030</text>
<text x="443.0" y="444.62" font-size="9.8" font-weight="bold" textLength="57.8" lengthAdjust="spacingAndGlyphs"><tspan fill="#3db43d">A</tspan><tspan fill="#3db43d">A</tspan><tspan fill="#e02a2a">T</tspan><tspan fill="#e02a2a">T</tspan><tspan fill="#e02a2a">T</tspan><tspan fill="#2438e0">C</tspan><tspan fill="#2438e0">C</tspan><tspan fill="#f5a623">G</tspan><tspan fill="#f5a623">G</tspan><tspan fill="#e02a2a">T</tspan></text>
<text x="541.00" y="445.40" font-size="9.5" text-anchor="middle" fill="#111">ERG</text>
<text x="609.80" y="445.40" font-size="9.5" text-anchor="middle" fill="#111">25.20%</text>
<text x="667.40" y="445.40" font-size="9.5" text-anchor="middle" fill="#111">1e-674</text>
<text x="443.0" y="456.92" font-size="9.8" font-weight="bold" textLength="57.8" lengthAdjust="spacingAndGlyphs"><tspan fill="#e02a2a">T</tspan><tspan fill="#3db43d">A</tspan><tspan fill="#e02a2a">T</tspan><tspan fill="#e02a2a">T</tspan><tspan fill="#e02a2a">T</tspan><tspan fill="#3db43d">A</tspan><tspan fill="#2438e0">C</tspan><tspan fill="#e02a2a">T</tspan><tspan fill="#2438e0">C</tspan><tspan fill="#3db43d">A</tspan><tspan fill="#f5a623">G</tspan><tspan fill="#f5a623">G</tspan></text>
<text x="541.00" y="457.70" font-size="9.5" text-anchor="middle" fill="#111">FOXA2</text>
<text x="609.80" y="457.70" font-size="9.5" text-anchor="middle" fill="#111">16.04%</text>
<text x="667.40" y="457.70" font-size="9.5" text-anchor="middle" fill="#111">1e-577</text>
<text x="443.0" y="469.22" font-size="9.8" font-weight="bold" textLength="57.8" lengthAdjust="spacingAndGlyphs"><tspan fill="#f5a623">G</tspan><tspan fill="#f5a623">G</tspan><tspan fill="#f5a623">G</tspan><tspan fill="#e02a2a">T</tspan><tspan fill="#f5a623">G</tspan><tspan fill="#f5a623">G</tspan><tspan fill="#f5a623">G</tspan><tspan fill="#f5a623">G</tspan><tspan fill="#2438e0">C</tspan><tspan fill="#f5a623">G</tspan><tspan fill="#e02a2a">T</tspan><tspan fill="#f5a623">G</tspan></text>
<text x="541.00" y="470.00" font-size="9.5" text-anchor="middle" fill="#111">KLF3</text>
<text x="609.80" y="470.00" font-size="9.5" text-anchor="middle" fill="#111">20.26%</text>
<text x="667.40" y="470.00" font-size="9.5" text-anchor="middle" fill="#111">1e-525</text>
<text x="443.0" y="485.32" font-size="9.8" font-weight="bold" textLength="57.8" lengthAdjust="spacingAndGlyphs"><tspan fill="#3db43d">A</tspan><tspan fill="#e02a2a">T</tspan><tspan fill="#f5a623">G</tspan><tspan fill="#3db43d">A</tspan><tspan fill="#f5a623">G</tspan><tspan fill="#e02a2a">T</tspan><tspan fill="#2438e0">C</tspan><tspan fill="#3db43d">A</tspan><tspan fill="#e02a2a">T</tspan><tspan fill="#3db43d">A</tspan></text>
<text x="541.00" y="486.10" font-size="9.5" text-anchor="middle" fill="#111">BATF</text>
<text x="609.80" y="486.10" font-size="9.5" text-anchor="middle" fill="#111">24.09%</text>
<text x="667.40" y="486.10" font-size="9.5" text-anchor="middle" fill="#111">1e-713</text>
<text x="443.0" y="497.32" font-size="9.8" font-weight="bold" textLength="57.8" lengthAdjust="spacingAndGlyphs"><tspan fill="#2438e0">C</tspan><tspan fill="#2438e0">C</tspan><tspan fill="#3db43d">A</tspan><tspan fill="#2438e0">C</tspan><tspan fill="#e02a2a">T</tspan><tspan fill="#3db43d">A</tspan><tspan fill="#f5a623">G</tspan><tspan fill="#f5a623">G</tspan><tspan fill="#f5a623">G</tspan><tspan fill="#f5a623">G</tspan><tspan fill="#f5a623">G</tspan><tspan fill="#2438e0">C</tspan></text>
<text x="541.00" y="498.10" font-size="9.5" text-anchor="middle" fill="#111">CTCFL</text>
<text x="609.80" y="498.10" font-size="9.5" text-anchor="middle" fill="#111">11.58%</text>
<text x="667.40" y="498.10" font-size="9.5" text-anchor="middle" fill="#111">1e-414</text>
<text x="443.0" y="509.62" font-size="9.8" font-weight="bold" textLength="57.8" lengthAdjust="spacingAndGlyphs"><tspan fill="#f5a623">G</tspan><tspan fill="#f5a623">G</tspan><tspan fill="#3db43d">A</tspan><tspan fill="#f5a623">G</tspan><tspan fill="#f5a623">G</tspan><tspan fill="#3db43d">A</tspan><tspan fill="#3db43d">A</tspan><tspan fill="#3db43d">A</tspan><tspan fill="#e02a2a">T</tspan><tspan fill="#f5a623">G</tspan><tspan fill="#3db43d">A</tspan><tspan fill="#f5a623">G</tspan></text>
<text x="541.00" y="510.40" font-size="9.5" text-anchor="middle" fill="#111">EWS:ERG</text>
<text x="609.80" y="510.40" font-size="9.5" text-anchor="middle" fill="#111">7.25%</text>
<text x="667.40" y="510.40" font-size="9.5" text-anchor="middle" fill="#111">1e-75</text>
<text x="443.0" y="521.92" font-size="9.8" font-weight="bold" textLength="57.8" lengthAdjust="spacingAndGlyphs"><tspan fill="#3db43d">A</tspan><tspan fill="#f5a623">G</tspan><tspan fill="#f5a623">G</tspan><tspan fill="#e02a2a">T</tspan><tspan fill="#2438e0">C</tspan><tspan fill="#f5a623">G</tspan><tspan fill="#2438e0">C</tspan><tspan fill="#f5a623">G</tspan><tspan fill="#2438e0">C</tspan><tspan fill="#e02a2a">T</tspan></text>
<text x="541.00" y="522.70" font-size="9.5" text-anchor="middle" fill="#111">E2F3</text>
<text x="609.80" y="522.70" font-size="9.5" text-anchor="middle" fill="#111">2.54%</text>
<text x="667.40" y="522.70" font-size="9.5" text-anchor="middle" fill="#111">1e-68</text>
<text x="443.0" y="533.82" font-size="9.8" font-weight="bold" textLength="57.8" lengthAdjust="spacingAndGlyphs"><tspan fill="#2438e0">C</tspan><tspan fill="#3db43d">A</tspan><tspan fill="#3db43d">A</tspan><tspan fill="#3db43d">A</tspan><tspan fill="#2438e0">C</tspan><tspan fill="#2438e0">C</tspan><tspan fill="#3db43d">A</tspan><tspan fill="#2438e0">C</tspan><tspan fill="#f5a623">G</tspan></text>
<text x="541.00" y="534.60" font-size="9.5" text-anchor="middle" fill="#111">RUNX2</text>
<text x="609.80" y="534.60" font-size="9.5" text-anchor="middle" fill="#111">7.09%</text>
<text x="667.40" y="534.60" font-size="9.5" text-anchor="middle" fill="#111">1e-37</text>
<text x="443.0" y="552.72" font-size="9.8" font-weight="bold" textLength="57.8" lengthAdjust="spacingAndGlyphs"><tspan fill="#f5a623">G</tspan><tspan fill="#3db43d">A</tspan><tspan fill="#e02a2a">T</tspan><tspan fill="#f5a623">G</tspan><tspan fill="#3db43d">A</tspan><tspan fill="#f5a623">G</tspan><tspan fill="#e02a2a">T</tspan><tspan fill="#2438e0">C</tspan><tspan fill="#3db43d">A</tspan><tspan fill="#e02a2a">T</tspan></text>
<text x="541.00" y="553.50" font-size="9.5" text-anchor="middle" fill="#111">FOSL2::JUNB</text>
<text x="609.80" y="553.50" font-size="9.5" text-anchor="middle" fill="#111">19.94%</text>
<text x="667.40" y="553.50" font-size="9.5" text-anchor="middle" fill="#111">1e-2106</text>
<text x="443.0" y="565.02" font-size="9.8" font-weight="bold" textLength="57.8" lengthAdjust="spacingAndGlyphs"><tspan fill="#f5a623">G</tspan><tspan fill="#2438e0">C</tspan><tspan fill="#e02a2a">T</tspan><tspan fill="#3db43d">A</tspan><tspan fill="#3db43d">A</tspan><tspan fill="#f5a623">G</tspan><tspan fill="#e02a2a">T</tspan><tspan fill="#3db43d">A</tspan><tspan fill="#3db43d">A</tspan><tspan fill="#3db43d">A</tspan><tspan fill="#2438e0">C</tspan><tspan fill="#3db43d">A</tspan></text>
<text x="541.00" y="565.80" font-size="9.5" text-anchor="middle" fill="#111">FOXM1</text>
<text x="609.80" y="565.80" font-size="9.5" text-anchor="middle" fill="#111">22.14%</text>
<text x="667.40" y="565.80" font-size="9.5" text-anchor="middle" fill="#111">1e-928</text>
<text x="443.0" y="576.92" font-size="9.8" font-weight="bold" textLength="57.8" lengthAdjust="spacingAndGlyphs"><tspan fill="#2438e0">C</tspan><tspan fill="#2438e0">C</tspan><tspan fill="#3db43d">A</tspan><tspan fill="#2438e0">C</tspan><tspan fill="#e02a2a">T</tspan><tspan fill="#3db43d">A</tspan><tspan fill="#f5a623">G</tspan><tspan fill="#f5a623">G</tspan><tspan fill="#e02a2a">T</tspan><tspan fill="#f5a623">G</tspan><tspan fill="#f5a623">G</tspan><tspan fill="#2438e0">C</tspan></text>
<text x="541.00" y="577.70" font-size="9.5" text-anchor="middle" fill="#111">CTCF</text>
<text x="609.80" y="577.70" font-size="9.5" text-anchor="middle" fill="#111">3.96%</text>
<text x="667.40" y="577.70" font-size="9.5" text-anchor="middle" fill="#111">1e-300</text>
<text x="443.0" y="589.52" font-size="9.8" font-weight="bold" textLength="57.8" lengthAdjust="spacingAndGlyphs"><tspan fill="#e02a2a">T</tspan><tspan fill="#f5a623">G</tspan><tspan fill="#e02a2a">T</tspan><tspan fill="#f5a623">G</tspan><tspan fill="#f5a623">G</tspan><tspan fill="#e02a2a">T</tspan><tspan fill="#e02a2a">T</tspan><tspan fill="#e02a2a">T</tspan></text>
<text x="541.00" y="590.30" font-size="9.5" text-anchor="middle" fill="#111">RUNX1</text>
<text x="609.80" y="590.30" font-size="9.5" text-anchor="middle" fill="#111">10.52%</text>
<text x="667.40" y="590.30" font-size="9.5" text-anchor="middle" fill="#111">1e-192</text>
<text x="443.0" y="601.52" font-size="9.8" font-weight="bold" textLength="57.8" lengthAdjust="spacingAndGlyphs"><tspan fill="#2438e0">C</tspan><tspan fill="#2438e0">C</tspan><tspan fill="#e02a2a">T</tspan><tspan fill="#f5a623">G</tspan><tspan fill="#3db43d">A</tspan><tspan fill="#f5a623">G</tspan><tspan fill="#f5a623">G</tspan><tspan fill="#2438e0">C</tspan><tspan fill="#e02a2a">T</tspan><tspan fill="#3db43d">A</tspan></text>
<text x="541.00" y="602.30" font-size="9.5" text-anchor="middle" fill="#111">AP2</text>
<text x="609.80" y="602.30" font-size="9.5" text-anchor="middle" fill="#111">12.38%</text>
<text x="667.40" y="602.30" font-size="9.5" text-anchor="middle" fill="#111">1e-159</text>
<text x="0.00" y="626.50" font-size="14.5" text-anchor="start" fill="#111" font-weight="bold" stroke="#000" stroke-width="0.45">f</text>
<rect x="170.30" y="630.25" width="56.11" height="9.70" fill="#17999a"/>
<text x="165.60" y="638.86" font-size="10.5" text-anchor="end" fill="#111">mitotic cell cycle phase transition</text>
<line x1="167.60" y1="635.10" x2="170.30" y2="635.10" stroke="#333" stroke-width="0.6"/>
<rect x="170.30" y="642.51" width="63.65" height="9.70" fill="#17999a"/>
<text x="165.60" y="651.12" font-size="10.5" text-anchor="end" fill="#111">growth factor binding</text>
<line x1="167.60" y1="647.36" x2="170.30" y2="647.36" stroke="#333" stroke-width="0.6"/>
<rect x="170.30" y="654.77" width="69.18" height="9.70" fill="#17999a"/>
<text x="165.60" y="663.38" font-size="10.5" text-anchor="end" fill="#111">Ras protein signal transduction</text>
<line x1="167.60" y1="659.62" x2="170.30" y2="659.62" stroke="#333" stroke-width="0.6"/>
<rect x="170.30" y="667.03" width="75.38" height="9.70" fill="#17999a"/>
<text x="165.60" y="675.64" font-size="10.5" text-anchor="end" fill="#111">actin filament organization</text>
<line x1="167.60" y1="671.88" x2="170.30" y2="671.88" stroke="#333" stroke-width="0.6"/>
<rect x="170.30" y="679.29" width="75.71" height="9.70" fill="#17999a"/>
<text x="165.60" y="687.90" font-size="10.5" text-anchor="end" fill="#111">keratinocyte development</text>
<line x1="167.60" y1="684.14" x2="170.30" y2="684.14" stroke="#333" stroke-width="0.6"/>
<rect x="170.30" y="691.55" width="78.89" height="9.70" fill="#17999a"/>
<text x="165.60" y="700.16" font-size="10.5" text-anchor="end" fill="#111">hormone receptor binding</text>
<line x1="167.60" y1="696.40" x2="170.30" y2="696.40" stroke="#333" stroke-width="0.6"/>
<rect x="170.30" y="703.95" width="57.79" height="9.70" fill="#f07c3e"/>
<text x="165.60" y="712.56" font-size="10.5" text-anchor="end" fill="#111">telomerase activity</text>
<line x1="167.60" y1="708.80" x2="170.30" y2="708.80" stroke="#333" stroke-width="0.6"/>
<rect x="170.30" y="717.53" width="60.80" height="9.70" fill="#f07c3e"/>
<text x="165.60" y="726.14" font-size="10.5" text-anchor="end" fill="#111">cell fate determination</text>
<line x1="167.60" y1="722.38" x2="170.30" y2="722.38" stroke="#333" stroke-width="0.6"/>
<rect x="170.30" y="731.11" width="61.98" height="9.70" fill="#f07c3e"/>
<text x="165.60" y="739.72" font-size="10.5" text-anchor="end" fill="#111">TGFBR signaling pathway</text>
<line x1="167.60" y1="735.96" x2="170.30" y2="735.96" stroke="#333" stroke-width="0.6"/>
<rect x="170.30" y="744.69" width="64.66" height="9.70" fill="#f07c3e"/>
<text x="165.60" y="753.30" font-size="10.5" text-anchor="end" fill="#111">Wnt signaling pathway</text>
<line x1="167.60" y1="749.54" x2="170.30" y2="749.54" stroke="#333" stroke-width="0.6"/>
<rect x="170.30" y="758.27" width="69.68" height="9.70" fill="#f07c3e"/>
<text x="165.60" y="766.88" font-size="10.5" text-anchor="end" fill="#111">epidermis development</text>
<line x1="167.60" y1="763.12" x2="170.30" y2="763.12" stroke="#333" stroke-width="0.6"/>
<rect x="170.30" y="771.85" width="73.53" height="9.70" fill="#f07c3e"/>
<text x="165.60" y="780.46" font-size="10.5" text-anchor="end" fill="#111">membrane lipid biosynthesis</text>
<line x1="167.60" y1="776.70" x2="170.30" y2="776.70" stroke="#333" stroke-width="0.6"/>
<rect x="170.30" y="785.43" width="92.63" height="9.70" fill="#f07c3e"/>
<text x="165.60" y="794.04" font-size="10.5" text-anchor="end" fill="#111">mesenchymal cell proliferation</text>
<line x1="167.60" y1="790.28" x2="170.30" y2="790.28" stroke="#333" stroke-width="0.6"/>
<line x1="170.30" y1="625.00" x2="170.30" y2="797.00" stroke="#333" stroke-width="0.8"/>
<line x1="170.30" y1="797.00" x2="305.98" y2="797.00" stroke="#333" stroke-width="0.8"/>
<line x1="170.30" y1="797.00" x2="170.30" y2="799.50" stroke="#333" stroke-width="0.6"/>
<text x="170.30" y="808.88" font-size="10" text-anchor="middle" fill="#111">0</text>
<line x1="187.05" y1="797.00" x2="187.05" y2="798.50" stroke="#333" stroke-width="0.6"/>
<line x1="203.80" y1="797.00" x2="203.80" y2="799.50" stroke="#333" stroke-width="0.6"/>
<text x="203.80" y="808.88" font-size="10" text-anchor="middle" fill="#111">2</text>
<line x1="220.55" y1="797.00" x2="220.55" y2="798.50" stroke="#333" stroke-width="0.6"/>
<line x1="237.30" y1="797.00" x2="237.30" y2="799.50" stroke="#333" stroke-width="0.6"/>
<text x="237.30" y="808.88" font-size="10" text-anchor="middle" fill="#111">4</text>
<line x1="254.05" y1="797.00" x2="254.05" y2="798.50" stroke="#333" stroke-width="0.6"/>
<line x1="270.80" y1="797.00" x2="270.80" y2="799.50" stroke="#333" stroke-width="0.6"/>
<text x="270.80" y="808.88" font-size="10" text-anchor="middle" fill="#111">6</text>
<line x1="287.55" y1="797.00" x2="287.55" y2="798.50" stroke="#333" stroke-width="0.6"/>
<line x1="304.30" y1="797.00" x2="304.30" y2="799.50" stroke="#333" stroke-width="0.6"/>
<text x="304.30" y="808.88" font-size="10" text-anchor="middle" fill="#111">8</text>
<text x="228.0" y="819.0" font-size="10" text-anchor="middle" fill="#111">-log10 (<tspan font-style="italic">P</tspan> value)</text>
<line x1="270.40" y1="632.00" x2="270.40" y2="698.60" stroke="#333" stroke-width="0.8"/>
<line x1="270.40" y1="707.00" x2="270.40" y2="788.50" stroke="#333" stroke-width="0.8"/>
<text x="276.50" y="654.88" font-size="10" text-anchor="start" fill="#111">top 1000</text>
<text x="276.50" y="666.88" font-size="10" text-anchor="start" fill="#111">non-CSC specific</text>
<text x="276.50" y="678.88" font-size="10" text-anchor="start" fill="#111">accessible chromatin</text>
<text x="276.50" y="690.88" font-size="10" text-anchor="start" fill="#111">regions</text>
<text x="276.50" y="734.28" font-size="10" text-anchor="start" fill="#111">top 1000</text>
<text x="276.50" y="746.53" font-size="10" text-anchor="start" fill="#111">CSC specific</text>
<text x="276.50" y="758.78" font-size="10" text-anchor="start" fill="#111">accessible chromatin</text>
<text x="276.50" y="771.03" font-size="10" text-anchor="start" fill="#111">regions</text>
<text x="405.50" y="627.50" font-size="14.5" text-anchor="start" fill="#111" font-weight="bold" stroke="#000" stroke-width="0.45">g</text>
<line x1="465.60" y1="622.50" x2="465.60" y2="793.50" stroke="#333" stroke-width="0.7"/>
<line x1="465.60" y1="793.50" x2="674.30" y2="793.50" stroke="#333" stroke-width="0.7"/>
<line x1="463.40" y1="793.50" x2="465.60" y2="793.50" stroke="#333" stroke-width="0.6"/>
<line x1="463.40" y1="776.50" x2="465.60" y2="776.50" stroke="#333" stroke-width="0.6"/>
<line x1="463.40" y1="759.50" x2="465.60" y2="759.50" stroke="#333" stroke-width="0.6"/>
<line x1="463.40" y1="742.50" x2="465.60" y2="742.50" stroke="#333" stroke-width="0.6"/>
<line x1="463.40" y1="725.50" x2="465.60" y2="725.50" stroke="#333" stroke-width="0.6"/>
<line x1="463.40" y1="708.50" x2="465.60" y2="708.50" stroke="#333" stroke-width="0.6"/>
<line x1="463.40" y1="691.50" x2="465.60" y2="691.50" stroke="#333" stroke-width="0.6"/>
<line x1="463.40" y1="674.50" x2="465.60" y2="674.50" stroke="#333" stroke-width="0.6"/>
<line x1="463.40" y1="657.50" x2="465.60" y2="657.50" stroke="#333" stroke-width="0.6"/>
<line x1="463.40" y1="640.50" x2="465.60" y2="640.50" stroke="#333" stroke-width="0.6"/>
<line x1="463.40" y1="623.50" x2="465.60" y2="623.50" stroke="#333" stroke-width="0.6"/>
<text x="459.80" y="796.83" font-size="9.3" text-anchor="end" fill="#111">0.0</text>
<text x="459.80" y="762.83" font-size="9.3" text-anchor="end" fill="#111">2.0</text>
<text x="459.80" y="728.83" font-size="9.3" text-anchor="end" fill="#111">4.0</text>
<text x="459.80" y="694.83" font-size="9.3" text-anchor="end" fill="#111">6.0</text>
<text x="459.80" y="660.83" font-size="9.3" text-anchor="end" fill="#111">8.0</text>
<text x="459.80" y="626.83" font-size="9.3" text-anchor="end" fill="#111">10.0</text>
<line x1="465.60" y1="793.50" x2="465.60" y2="795.90" stroke="#333" stroke-width="0.6"/>
<line x1="482.95" y1="793.50" x2="482.95" y2="794.90" stroke="#333" stroke-width="0.6"/>
<line x1="500.30" y1="793.50" x2="500.30" y2="795.90" stroke="#333" stroke-width="0.6"/>
<line x1="517.65" y1="793.50" x2="517.65" y2="794.90" stroke="#333" stroke-width="0.6"/>
<line x1="535.00" y1="793.50" x2="535.00" y2="795.90" stroke="#333" stroke-width="0.6"/>
<line x1="552.35" y1="793.50" x2="552.35" y2="794.90" stroke="#333" stroke-width="0.6"/>
<line x1="569.70" y1="793.50" x2="569.70" y2="795.90" stroke="#333" stroke-width="0.6"/>
<line x1="587.05" y1="793.50" x2="587.05" y2="794.90" stroke="#333" stroke-width="0.6"/>
<line x1="604.40" y1="793.50" x2="604.40" y2="795.90" stroke="#333" stroke-width="0.6"/>
<line x1="621.75" y1="793.50" x2="621.75" y2="794.90" stroke="#333" stroke-width="0.6"/>
<line x1="639.10" y1="793.50" x2="639.10" y2="795.90" stroke="#333" stroke-width="0.6"/>
<line x1="656.45" y1="793.50" x2="656.45" y2="794.90" stroke="#333" stroke-width="0.6"/>
<line x1="673.80" y1="793.50" x2="673.80" y2="795.90" stroke="#333" stroke-width="0.6"/>
<text x="465.60" y="805.50" font-size="9.5" text-anchor="middle" fill="#111">0.0</text>
<text x="500.30" y="805.50" font-size="9.5" text-anchor="middle" fill="#111">0.5</text>
<text x="535.00" y="805.50" font-size="9.5" text-anchor="middle" fill="#111">1.0</text>
<text x="569.70" y="805.50" font-size="9.5" text-anchor="middle" fill="#111">1.5</text>
<text x="604.40" y="805.50" font-size="9.5" text-anchor="middle" fill="#111">2.0</text>
<text x="639.10" y="805.50" font-size="9.5" text-anchor="middle" fill="#111">2.5</text>
<text x="673.80" y="805.50" font-size="9.5" text-anchor="middle" fill="#111">3.0</text>
<text x="572.80" y="816.49" font-size="10.3" text-anchor="middle" fill="#111">Number of differentially expressed gene / Mb</text>
<text x="422.2" y="708.8" font-size="10.4" text-anchor="middle" fill="#111" transform="rotate(-90 422.2 708.8)" dominant-baseline="central">Number of differential</text>
<text x="434.0" y="708.8" font-size="10.4" text-anchor="middle" fill="#111" transform="rotate(-90 434.0 708.8)" dominant-baseline="central">CTCF-cohesin hubs / Mb</text>
<text x="476.40" y="629.08" font-size="9.45" text-anchor="start" fill="#111">Spearman r = 0.8785</text>
<text x="476.40" y="641.75" font-size="9.35" text-anchor="start" fill="#111">P value &lt; 0.0001</text>
<path d="M483 743.6 L634.2 664.0" stroke="#555" stroke-width="0.9"/>
<path d="M500 727 Q540 707 634.2 650.0" stroke="#555" stroke-width="0.8" fill="none" stroke-dasharray="2.4 1.8"/>
<path d="M483 755.7 Q530 723 634.2 677.4" stroke="#555" stroke-width="0.8" fill="none" stroke-dasharray="2.4 1.8"/>
<ellipse cx="578.5" cy="679" rx="6.4" ry="8.0" fill="none" stroke="#1f6878" stroke-width="1.0"/>
<ellipse cx="556" cy="726" rx="6.4" ry="8.0" fill="none" stroke="#1f6878" stroke-width="1.0"/>
<ellipse cx="490" cy="762" rx="6.4" ry="8.0" fill="none" stroke="#1f6878" stroke-width="1.0"/>
<ellipse cx="486.6" cy="747.7" rx="6.4" ry="8.0" fill="none" stroke="#1f6878" stroke-width="1.0"/>
<ellipse cx="488.6" cy="742.2" rx="6.4" ry="8.0" fill="none" stroke="#1f6878" stroke-width="1.0"/>
<ellipse cx="490.7" cy="740.1" rx="6.4" ry="8.0" fill="none" stroke="#1f6878" stroke-width="1.0"/>
<ellipse cx="492.7" cy="743.2" rx="6.4" ry="8.0" fill="none" stroke="#1f6878" stroke-width="1.0"/>
<ellipse cx="499.9" cy="725.8" rx="6.4" ry="8.0" fill="none" stroke="#1f6878" stroke-width="1.0"/>
<ellipse cx="501.9" cy="730" rx="6.4" ry="8.0" fill="none" stroke="#1f6878" stroke-width="1.0"/>
<ellipse cx="502.9" cy="733" rx="6.4" ry="8.0" fill="none" stroke="#1f6878" stroke-width="1.0"/>
<ellipse cx="507" cy="740.1" rx="6.4" ry="8.0" fill="none" stroke="#1f6878" stroke-width="1.0"/>
<ellipse cx="511.1" cy="719.7" rx="6.4" ry="8.0" fill="none" stroke="#1f6878" stroke-width="1.0"/>
<ellipse cx="514.2" cy="727.9" rx="6.4" ry="8.0" fill="none" stroke="#1f6878" stroke-width="1.0"/>
<ellipse cx="517.2" cy="725.8" rx="6.4" ry="8.0" fill="none" stroke="#1f6878" stroke-width="1.0"/>
<ellipse cx="516.2" cy="731" rx="6.4" ry="8.0" fill="none" stroke="#1f6878" stroke-width="1.0"/>
<ellipse cx="527.4" cy="713.6" rx="6.4" ry="8.0" fill="none" stroke="#1f6878" stroke-width="1.0"/>
<ellipse cx="530.5" cy="707.4" rx="6.4" ry="8.0" fill="none" stroke="#1f6878" stroke-width="1.0"/>
<ellipse cx="538.7" cy="707.4" rx="6.4" ry="8.0" fill="none" stroke="#1f6878" stroke-width="1.0"/>
<ellipse cx="534.6" cy="724.8" rx="6.4" ry="8.0" fill="none" stroke="#1f6878" stroke-width="1.0"/>
<ellipse cx="525.4" cy="718.7" rx="6.4" ry="8.0" fill="none" stroke="#1f6878" stroke-width="1.0"/>
<ellipse cx="496.8" cy="733" rx="6.4" ry="8.0" fill="none" stroke="#1f6878" stroke-width="1.0"/>
<ellipse cx="484.5" cy="742.2" rx="6.4" ry="8.0" fill="none" stroke="#1f6878" stroke-width="1.0"/>
<ellipse cx="632.8" cy="670.3" rx="6.4" ry="8.0" fill="none" stroke="#1f6878" stroke-width="1.0"/>
<text x="570.40" y="660.77" font-size="9.4" text-anchor="start" fill="#111">chr17</text>
<text x="523.00" y="668.87" font-size="9.4" text-anchor="start" fill="#111">chr12</text>
<text x="493.70" y="674.37" font-size="9.4" text-anchor="start" fill="#111">chr9</text>
<text x="512.10" y="682.17" font-size="9.4" text-anchor="start" fill="#111">chr1</text>
<text x="491.00" y="687.37" font-size="9.4" text-anchor="start" fill="#111">chr2</text>
<text x="539.70" y="690.77" font-size="9.4" text-anchor="start" fill="#111">chr20</text>
<text x="488.60" y="701.57" font-size="9.4" text-anchor="start" fill="#111">chr3</text>
<text x="509.70" y="700.57" font-size="9.4" text-anchor="start" fill="#111">chr11</text>
<text x="476.80" y="711.87" font-size="9.4" text-anchor="start" fill="#111">chr8</text>
<text x="471.20" y="720.67" font-size="9.4" text-anchor="start" fill="#111">chr4</text>
<text x="467.20" y="730.87" font-size="9.4" text-anchor="start" fill="#111">chr18</text>
<text x="564.60" y="733.27" font-size="9.4" text-anchor="start" fill="#111">chr22</text>
<text x="528.90" y="741.47" font-size="9.4" text-anchor="start" fill="#111">chr16</text>
<text x="513.50" y="750.07" font-size="9.4" text-anchor="start" fill="#111">chr14</text>
<text x="542.20" y="750.07" font-size="9.4" text-anchor="start" fill="#111">chr15</text>
<text x="497.20" y="760.87" font-size="9.4" text-anchor="start" fill="#111">chr5</text>
<text x="519.90" y="760.27" font-size="9.4" text-anchor="start" fill="#111">chr10</text>
<text x="525.80" y="769.67" font-size="9.4" text-anchor="start" fill="#111">chr7</text>
<text x="496.80" y="772.57" font-size="9.4" text-anchor="start" fill="#111">chr21</text>
<text x="467.80" y="779.87" font-size="9.4" text-anchor="start" fill="#111">chr13</text>
<text x="520.90" y="781.37" font-size="9.4" text-anchor="start" fill="#111">chr6</text>
<text x="479.40" y="788.87" font-size="9.4" text-anchor="start" fill="#111">chrX</text>
<text x="641.30" y="688.87" font-size="9.4" text-anchor="start" fill="#111">chr19</text>
<text x="1.50" y="839.50" font-size="14.5" text-anchor="start" fill="#111" font-weight="bold" stroke="#000" stroke-width="0.45">h</text>
<line x1="60.80" y1="857.28" x2="60.80" y2="964.40" stroke="#222" stroke-width="0.8"/>
<line x1="60.80" y1="964.40" x2="144.40" y2="964.40" stroke="#222" stroke-width="0.8"/>
<line x1="56.80" y1="964.40" x2="60.80" y2="964.40" stroke="#222" stroke-width="0.6"/>
<line x1="58.80" y1="955.51" x2="60.80" y2="955.51" stroke="#222" stroke-width="0.6"/>
<line x1="56.80" y1="946.63" x2="60.80" y2="946.63" stroke="#222" stroke-width="0.6"/>
<line x1="58.80" y1="937.75" x2="60.80" y2="937.75" stroke="#222" stroke-width="0.6"/>
<line x1="56.80" y1="928.86" x2="60.80" y2="928.86" stroke="#222" stroke-width="0.6"/>
<line x1="58.80" y1="919.98" x2="60.80" y2="919.98" stroke="#222" stroke-width="0.6"/>
<line x1="56.80" y1="911.09" x2="60.80" y2="911.09" stroke="#222" stroke-width="0.6"/>
<line x1="58.80" y1="902.20" x2="60.80" y2="902.20" stroke="#222" stroke-width="0.6"/>
<line x1="56.80" y1="893.32" x2="60.80" y2="893.32" stroke="#222" stroke-width="0.6"/>
<line x1="58.80" y1="884.43" x2="60.80" y2="884.43" stroke="#222" stroke-width="0.6"/>
<line x1="56.80" y1="875.55" x2="60.80" y2="875.55" stroke="#222" stroke-width="0.6"/>
<line x1="58.80" y1="866.66" x2="60.80" y2="866.66" stroke="#222" stroke-width="0.6"/>
<line x1="56.80" y1="857.78" x2="60.80" y2="857.78" stroke="#222" stroke-width="0.6"/>
<text x="54.20" y="968.05" font-size="10.2" text-anchor="end" fill="#111">0.0</text>
<text x="54.20" y="950.28" font-size="10.2" text-anchor="end" fill="#111">1.0</text>
<text x="54.20" y="932.51" font-size="10.2" text-anchor="end" fill="#111">2.0</text>
<text x="54.20" y="914.74" font-size="10.2" text-anchor="end" fill="#111">3.0</text>
<text x="54.20" y="896.97" font-size="10.2" text-anchor="end" fill="#111">4.0</text>
<text x="54.20" y="879.20" font-size="10.2" text-anchor="end" fill="#111">5.0</text>
<text x="54.20" y="861.43" font-size="10.2" text-anchor="end" fill="#111">6.0</text>
<text x="25.8" y="908.6" font-size="10.25" text-anchor="middle" fill="#111" transform="rotate(-90 25.8 908.6)" dominant-baseline="central">ALDH positive cells %</text>
<rect x="67.60" y="879.10" width="13.00" height="85.30" fill="#17999a"/>
<line x1="74.10" y1="873.77" x2="74.10" y2="879.10" stroke="#999" stroke-width="0.8"/>
<line x1="71.60" y1="873.77" x2="76.60" y2="873.77" stroke="#999" stroke-width="0.8"/>
<circle cx="73.10" cy="882.60" r="0.9" fill="#fff" opacity="0.55"/>
<text x="71.50" y="970.2" font-size="10.5" text-anchor="end" fill="#111" transform="rotate(-45 71.50 970.2)" dominant-baseline="hanging">siNC</text>
<line x1="74.10" y1="964.40" x2="74.10" y2="966.70" stroke="#333" stroke-width="0.6"/>
<rect x="86.90" y="925.84" width="13.00" height="38.56" fill="#f07c3e"/>
<line x1="93.40" y1="917.84" x2="93.40" y2="925.84" stroke="#999" stroke-width="0.8"/>
<line x1="90.90" y1="917.84" x2="95.90" y2="917.84" stroke="#999" stroke-width="0.8"/>
<circle cx="92.40" cy="929.34" r="0.9" fill="#fff" opacity="0.55"/>
<text x="90.80" y="970.2" font-size="10.5" text-anchor="end" fill="#111" transform="rotate(-45 90.80 970.2)" dominant-baseline="hanging">siRAD21</text>
<line x1="93.40" y1="964.40" x2="93.40" y2="966.70" stroke="#333" stroke-width="0.6"/>
<rect x="106.30" y="875.91" width="13.00" height="88.49" fill="#17999a"/>
<line x1="112.80" y1="873.24" x2="112.80" y2="875.91" stroke="#999" stroke-width="0.8"/>
<line x1="110.30" y1="873.24" x2="115.30" y2="873.24" stroke="#999" stroke-width="0.8"/>
<circle cx="111.80" cy="879.41" r="0.9" fill="#fff" opacity="0.55"/>
<text x="110.20" y="970.2" font-size="10.5" text-anchor="end" fill="#111" transform="rotate(-45 110.20 970.2)" dominant-baseline="hanging">CIP-</text>
<line x1="112.80" y1="964.40" x2="112.80" y2="966.70" stroke="#333" stroke-width="0.6"/>
<rect x="126.10" y="927.08" width="13.00" height="37.32" fill="#f07c3e"/>
<line x1="132.60" y1="916.42" x2="132.60" y2="927.08" stroke="#999" stroke-width="0.8"/>
<line x1="130.10" y1="916.42" x2="135.10" y2="916.42" stroke="#999" stroke-width="0.8"/>
<circle cx="131.60" cy="930.58" r="0.9" fill="#fff" opacity="0.55"/>
<text x="130.00" y="970.2" font-size="10.5" text-anchor="end" fill="#111" transform="rotate(-45 130.00 970.2)" dominant-baseline="hanging">CIP+</text>
<line x1="132.60" y1="964.40" x2="132.60" y2="966.70" stroke="#333" stroke-width="0.6"/>
<path d="M73.9 873.5 L73.9 854.0 L93.4 854.0 L93.4 916.5" fill="none" stroke="#333" stroke-width="0.7"/>
<path d="M112.6 873.0 L112.6 854.0 L132.4 854.0 L132.4 914.0" fill="none" stroke="#333" stroke-width="0.7"/>
<text x="83.70" y="852.60" font-size="9.7" text-anchor="middle" fill="#111">***</text>
<text x="122.50" y="852.60" font-size="9.7" text-anchor="middle" fill="#111">***</text>
<text x="161.50" y="840.00" font-size="14.5" text-anchor="start" fill="#111" font-weight="bold" stroke="#000" stroke-width="0.45">i</text>
<g clip-path="url(#bc1)">
<rect x="214.10" y="871.10" width="47.80" height="20.50" fill="#c6c6c6"/>
<rect x="216.53" y="878.85" width="20.00" height="6.00" rx="3.00" fill="#555" opacity="0.7" filter="url(#bb)"/>
<rect x="239.97" y="879.35" width="19.00" height="5.00" rx="2.50" fill="#777" opacity="0.55" filter="url(#bb)"/>
</g>
<rect x="214.1" y="871.1" width="47.80" height="20.50" fill="none" stroke="#555" stroke-width="0.6"/>
<g clip-path="url(#bc2)">
<rect x="267.20" y="871.10" width="48.50" height="20.50" fill="#a2a2a2"/>
<rect x="269.31" y="880.65" width="21.00" height="2.40" rx="1.20" fill="#000" opacity="1.0" filter="url(#bb)"/>
<rect x="294.09" y="880.45" width="18.00" height="2.80" rx="1.40" fill="#666" opacity="0.6" filter="url(#bb)"/>
</g>
<rect x="267.2" y="871.1" width="48.50" height="20.50" fill="none" stroke="#555" stroke-width="0.6"/>
<g clip-path="url(#bc3)">
<rect x="327.90" y="871.10" width="47.80" height="20.50" fill="#9e9e9e"/>
<rect x="333.83" y="881.35" width="13.00" height="3.00" rx="1.50" fill="#333" opacity="0.8" filter="url(#bb)"/>
<rect x="357.27" y="881.85" width="12.00" height="2.00" rx="1.00" fill="#888" opacity="0.3" filter="url(#bb)"/>
</g>
<rect x="327.9" y="871.1" width="47.80" height="20.50" fill="none" stroke="#555" stroke-width="0.6"/>
<g clip-path="url(#bc4)">
<rect x="380.40" y="871.10" width="47.30" height="20.50" fill="#888888"/>
<rect x="382.70" y="878.35" width="20.00" height="5.00" rx="2.50" fill="#555" opacity="0.5" filter="url(#bb)"/>
<rect x="406.40" y="879.10" width="18.00" height="3.50" rx="1.75" fill="#666" opacity="0.35" filter="url(#bb)"/>
</g>
<rect x="380.4" y="871.1" width="47.30" height="20.50" fill="none" stroke="#555" stroke-width="0.6"/>
<g clip-path="url(#bc5)">
<rect x="214.10" y="893.00" width="47.80" height="20.70" fill="#cbcbcb"/>
<rect x="218.03" y="900.05" width="17.00" height="3.00" rx="1.50" fill="#222" opacity="0.8" filter="url(#bb)"/>
<rect x="219.03" y="904.15" width="15.00" height="3.00" rx="1.50" fill="#000" opacity="0.95" filter="url(#bb)"/>
<rect x="240.47" y="900.15" width="18.00" height="2.80" rx="1.40" fill="#555" opacity="0.6" filter="url(#bb)"/>
<rect x="240.47" y="904.25" width="18.00" height="2.80" rx="1.40" fill="#444" opacity="0.6" filter="url(#bb)"/>
</g>
<rect x="214.1" y="893.0" width="47.80" height="20.70" fill="none" stroke="#555" stroke-width="0.6"/>
<g clip-path="url(#bc6)">
<rect x="267.20" y="893.00" width="48.50" height="20.70" fill="#b9b9b9"/>
<rect x="270.81" y="898.35" width="18.00" height="3.00" rx="1.50" fill="#888" opacity="0.5" filter="url(#bb)"/>
<rect x="270.81" y="901.85" width="18.00" height="3.00" rx="1.50" fill="#777" opacity="0.5" filter="url(#bb)"/>
<rect x="270.31" y="905.10" width="19.00" height="3.50" rx="1.75" fill="#555" opacity="0.8" filter="url(#bb)"/>
<rect x="294.59" y="898.35" width="17.00" height="3.00" rx="1.50" fill="#999" opacity="0.4" filter="url(#bb)"/>
<rect x="294.59" y="901.85" width="17.00" height="3.00" rx="1.50" fill="#888" opacity="0.45" filter="url(#bb)"/>
<rect x="294.59" y="905.35" width="17.00" height="3.00" rx="1.50" fill="#666" opacity="0.6" filter="url(#bb)"/>
</g>
<rect x="267.2" y="893.0" width="48.50" height="20.70" fill="none" stroke="#555" stroke-width="0.6"/>
<g clip-path="url(#bc7)">
<rect x="327.90" y="893.00" width="47.80" height="20.70" fill="#8a8a8a"/>
<rect x="330.33" y="900.10" width="20.00" height="3.50" rx="1.75" fill="#333" opacity="0.7" filter="url(#bb)"/>
<rect x="330.33" y="904.60" width="20.00" height="3.50" rx="1.75" fill="#222" opacity="0.85" filter="url(#bb)"/>
<rect x="353.77" y="900.35" width="19.00" height="3.00" rx="1.50" fill="#333" opacity="0.5" filter="url(#bb)"/>
<rect x="353.77" y="904.60" width="19.00" height="3.50" rx="1.75" fill="#222" opacity="0.75" filter="url(#bb)"/>
</g>
<rect x="327.9" y="893.0" width="47.80" height="20.70" fill="none" stroke="#555" stroke-width="0.6"/>
<g clip-path="url(#bc8)">
<rect x="380.40" y="893.00" width="47.30" height="20.70" fill="#999999"/>
<rect x="384.20" y="900.45" width="17.00" height="2.80" rx="1.40" fill="#333" opacity="0.6" filter="url(#bb)"/>
<rect x="384.20" y="904.35" width="17.00" height="3.00" rx="1.50" fill="#333" opacity="0.7" filter="url(#bb)"/>
<rect x="408.40" y="900.60" width="14.00" height="2.50" rx="1.25" fill="#666" opacity="0.35" filter="url(#bb)"/>
<rect x="408.40" y="904.35" width="14.00" height="3.00" rx="1.50" fill="#666" opacity="0.35" filter="url(#bb)"/>
</g>
<rect x="380.4" y="893.0" width="47.30" height="20.70" fill="none" stroke="#555" stroke-width="0.6"/>
<g clip-path="url(#bc9)">
<rect x="214.10" y="915.50" width="47.80" height="21.00" fill="#c6c6c6"/>
<rect x="216.53" y="923.00" width="20.00" height="7.00" rx="3.00" fill="#333" opacity="0.95" filter="url(#bb)"/>
<rect x="240.47" y="924.25" width="18.00" height="4.50" rx="2.25" fill="#999" opacity="0.5" filter="url(#bb)"/>
</g>
<rect x="214.1" y="915.5" width="47.80" height="21.00" fill="none" stroke="#555" stroke-width="0.6"/>
<g clip-path="url(#bc10)">
<rect x="267.20" y="915.50" width="48.50" height="21.00" fill="#acacac"/>
<rect x="269.31" y="923.50" width="21.00" height="5.00" rx="2.50" fill="#000" opacity="1.0" filter="url(#bb)"/>
<rect x="294.09" y="924.90" width="18.00" height="2.20" rx="1.10" fill="#333" opacity="0.8" filter="url(#bb)"/>
</g>
<rect x="267.2" y="915.5" width="48.50" height="21.00" fill="none" stroke="#555" stroke-width="0.6"/>
<g clip-path="url(#bc11)">
<rect x="327.90" y="915.50" width="47.80" height="21.00" fill="#d6d6d6"/>
<rect x="330.33" y="924.00" width="20.00" height="5.00" rx="2.50" fill="#222" opacity="0.95" filter="url(#bb)"/>
<rect x="353.77" y="924.25" width="19.00" height="4.50" rx="2.25" fill="#333" opacity="0.9" filter="url(#bb)"/>
</g>
<rect x="327.9" y="915.5" width="47.80" height="21.00" fill="none" stroke="#555" stroke-width="0.6"/>
<g clip-path="url(#bc12)">
<rect x="380.40" y="915.50" width="47.30" height="21.00" fill="#c8c8c8"/>
<rect x="378.86" y="923.50" width="22.00" height="5.00" rx="2.50" fill="#000" opacity="1.0" filter="url(#bb)"/>
<rect x="405.90" y="924.25" width="19.00" height="3.50" rx="1.75" fill="#888" opacity="0.5" filter="url(#bb)"/>
</g>
<rect x="380.4" y="915.5" width="47.30" height="21.00" fill="none" stroke="#555" stroke-width="0.6"/>
<g clip-path="url(#bc13)">
<rect x="214.10" y="937.70" width="47.80" height="20.50" fill="#cfcfcf"/>
<rect x="216.53" y="945.95" width="20.00" height="5.00" rx="2.50" fill="#444" opacity="0.9" filter="url(#bb)"/>
<rect x="240.47" y="946.20" width="18.00" height="4.50" rx="2.25" fill="#555" opacity="0.85" filter="url(#bb)"/>
</g>
<rect x="214.1" y="937.7" width="47.80" height="20.50" fill="none" stroke="#555" stroke-width="0.6"/>
<g clip-path="url(#bc14)">
<rect x="267.20" y="937.70" width="48.50" height="20.50" fill="#cdcdcd"/>
<rect x="268.31" y="944.70" width="23.00" height="6.50" rx="3.00" fill="#000" opacity="1.0" filter="url(#bb)"/>
<rect x="297.09" y="946.65" width="12.00" height="2.60" rx="1.30" fill="#333" opacity="0.8" filter="url(#bb)"/>
</g>
<rect x="267.2" y="937.7" width="48.50" height="20.50" fill="none" stroke="#555" stroke-width="0.6"/>
<g clip-path="url(#bc15)">
<rect x="327.90" y="937.70" width="47.80" height="20.50" fill="#bfbfbf"/>
<rect x="329.33" y="944.95" width="22.00" height="8.00" rx="3.00" fill="#333" opacity="0.9" filter="url(#bb)"/>
<rect x="352.27" y="944.95" width="22.00" height="8.00" rx="3.00" fill="#333" opacity="0.9" filter="url(#bb)"/>
</g>
<rect x="327.9" y="937.7" width="47.80" height="20.50" fill="none" stroke="#555" stroke-width="0.6"/>
<g clip-path="url(#bc16)">
<rect x="380.40" y="937.70" width="47.30" height="20.50" fill="#b8b8b8"/>
<rect x="387.20" y="946.70" width="11.00" height="4.50" rx="2.25" fill="#555" opacity="0.7" filter="url(#bb)"/>
<rect x="410.40" y="947.45" width="10.00" height="3.00" rx="1.50" fill="#aaa" opacity="0.3" filter="url(#bb)"/>
</g>
<rect x="380.4" y="937.7" width="47.30" height="20.50" fill="none" stroke="#555" stroke-width="0.6"/>
<g clip-path="url(#bc17)">
<rect x="214.10" y="960.50" width="47.80" height="20.10" fill="#dedede"/>
<rect x="215.53" y="966.55" width="22.00" height="7.00" rx="3.00" fill="#000" opacity="1.0" filter="url(#bb)"/>
<rect x="238.97" y="966.80" width="21.00" height="6.50" rx="3.00" fill="#000" opacity="1.0" filter="url(#bb)"/>
</g>
<rect x="214.1" y="960.5" width="47.80" height="20.10" fill="none" stroke="#555" stroke-width="0.6"/>
<g clip-path="url(#bc18)">
<rect x="267.20" y="960.50" width="48.50" height="20.10" fill="#dadada"/>
<rect x="268.81" y="966.55" width="22.00" height="7.00" rx="3.00" fill="#000" opacity="1.0" filter="url(#bb)"/>
<rect x="292.59" y="966.80" width="21.00" height="6.50" rx="3.00" fill="#000" opacity="1.0" filter="url(#bb)"/>
</g>
<rect x="267.2" y="960.5" width="48.50" height="20.10" fill="none" stroke="#555" stroke-width="0.6"/>
<g clip-path="url(#bc19)">
<rect x="327.90" y="960.50" width="47.80" height="20.10" fill="#e2e2e2"/>
<rect x="328.83" y="966.05" width="23.00" height="8.00" rx="3.00" fill="#000" opacity="1.0" filter="url(#bb)"/>
<rect x="351.77" y="966.05" width="23.00" height="8.00" rx="3.00" fill="#000" opacity="1.0" filter="url(#bb)"/>
</g>
<rect x="327.9" y="960.5" width="47.80" height="20.10" fill="none" stroke="#555" stroke-width="0.6"/>
<g clip-path="url(#bc20)">
<rect x="380.40" y="960.50" width="47.30" height="20.10" fill="#e4e4e4"/>
<rect x="382.20" y="966.80" width="21.00" height="6.50" rx="3.00" fill="#000" opacity="1.0" filter="url(#bb)"/>
<rect x="404.90" y="966.80" width="21.00" height="6.50" rx="3.00" fill="#000" opacity="1.0" filter="url(#bb)"/>
</g>
<rect x="380.4" y="960.5" width="47.30" height="20.10" fill="none" stroke="#555" stroke-width="0.6"/>
<text x="209.40" y="877.23" font-size="7.9" text-anchor="end" fill="#111">150 kDa</text>
<line x1="210.80" y1="874.40" x2="213.60" y2="874.40" stroke="#333" stroke-width="0.6"/>
<text x="209.40" y="901.43" font-size="7.9" text-anchor="end" fill="#111">70 kDa</text>
<line x1="210.80" y1="898.60" x2="213.60" y2="898.60" stroke="#333" stroke-width="0.6"/>
<text x="209.40" y="922.03" font-size="7.9" text-anchor="end" fill="#111">70 kDa</text>
<line x1="210.80" y1="919.20" x2="213.60" y2="919.20" stroke="#333" stroke-width="0.6"/>
<text x="209.40" y="956.63" font-size="7.9" text-anchor="end" fill="#111">100 kDa</text>
<line x1="210.80" y1="953.80" x2="213.60" y2="953.80" stroke="#333" stroke-width="0.6"/>
<text x="209.40" y="975.03" font-size="7.9" text-anchor="end" fill="#111">35 kDa</text>
<line x1="210.80" y1="972.20" x2="213.60" y2="972.20" stroke="#333" stroke-width="0.6"/>
<text x="435.80" y="883.65" font-size="10.2" text-anchor="start" fill="#111" textLength="32.3" lengthAdjust="spacingAndGlyphs">FOXM1</text>
<text x="435.80" y="906.85" font-size="10.2" text-anchor="start" fill="#111" textLength="28.0" lengthAdjust="spacingAndGlyphs">c-Myc</text>
<text x="435.80" y="928.85" font-size="10.2" text-anchor="start" fill="#111" textLength="22.7" lengthAdjust="spacingAndGlyphs">KLF4</text>
<text x="435.80" y="950.55" font-size="10.2" text-anchor="start" fill="#111" textLength="23.6" lengthAdjust="spacingAndGlyphs">TERT</text>
<text x="435.80" y="973.35" font-size="10.2" text-anchor="start" fill="#111" textLength="34.0" lengthAdjust="spacingAndGlyphs">GAPDH</text>
<text x="230.00" y="867.0" font-size="9.8" fill="#111" transform="rotate(-45 230.00 867.0)">siNC</text>
<text x="252.00" y="867.0" font-size="9.8" fill="#111" transform="rotate(-45 252.00 867.0)">siRAD21</text>
<text x="286.50" y="867.0" font-size="9.8" fill="#111" transform="rotate(-45 286.50 867.0)">CIP-</text>
<text x="308.50" y="867.0" font-size="9.8" fill="#111" transform="rotate(-45 308.50 867.0)">CIP+</text>
<text x="339.00" y="867.0" font-size="9.8" fill="#111" transform="rotate(-45 339.00 867.0)">siNC</text>
<text x="360.00" y="867.0" font-size="9.8" fill="#111" transform="rotate(-45 360.00 867.0)">siRAD21</text>
<text x="396.50" y="867.0" font-size="9.8" fill="#111" transform="rotate(-45 396.50 867.0)">CIP-</text>
<text x="417.00" y="867.0" font-size="9.8" fill="#111" transform="rotate(-45 417.00 867.0)">CIP+</text>
<line x1="220.50" y1="985.60" x2="311.30" y2="985.60" stroke="#555" stroke-width="0.8"/>
<line x1="332.50" y1="985.60" x2="423.70" y2="985.60" stroke="#555" stroke-width="0.8"/>
<text x="273.50" y="999.38" font-size="10" text-anchor="middle" fill="#111">nonCSC</text>
<text x="376.70" y="999.38" font-size="10" text-anchor="middle" fill="#111">CSC</text>
</svg></body></html>
